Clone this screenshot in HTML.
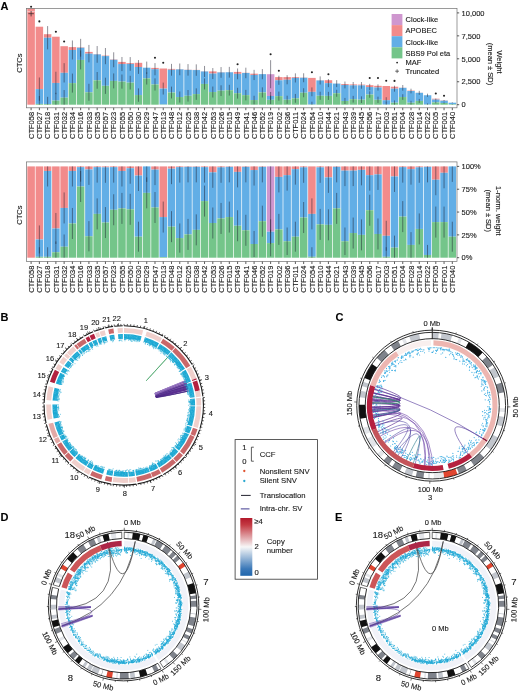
<!DOCTYPE html>
<html><head><meta charset="utf-8"><title>Figure</title>
<style>
html,body{margin:0;padding:0;background:#fff}
svg{display:block}
text{font-family:"Liberation Sans",Arial,sans-serif;font-size:7.5px;fill:#1a1a1a;stroke:#1a1a1a;stroke-width:.12px}
.xl{text-anchor:end}
#legend text{font-size:7.7px}
.pt{font-weight:bold;font-size:11px;fill:#000}
</style></head><body>
<svg width="520" height="694" viewBox="0 0 520 694">
<rect width="520" height="694" fill="#fff"/>
<text class="pt" x="0.6" y="9.5">A</text>
<text class="pt" x="0.6" y="321.2">B</text>
<text class="pt" x="335.5" y="321.2">C</text>
<text class="pt" x="0.6" y="521.2">D</text>
<text class="pt" x="335.0" y="521.2">E</text>
<g id="barsTop">
<rect x="27.33" y="8.4" width="7.55" height="96.3" fill="#f28b8b"/>
<rect x="35.58" y="26.7" width="7.55" height="62.4" fill="#f28b8b"/>
<rect x="35.58" y="89.1" width="7.55" height="14.82" fill="#62aee6"/>
<rect x="35.58" y="103.92" width="7.55" height="0.78" fill="#74c58a"/>
<rect x="43.84" y="34.2" width="7.55" height="3.52" fill="#f28b8b"/>
<rect x="43.84" y="37.73" width="7.55" height="66.27" fill="#62aee6"/>
<rect x="43.84" y="104" width="7.55" height="0.7" fill="#74c58a"/>
<rect x="52.1" y="36.7" width="7.55" height="46.24" fill="#f28b8b"/>
<rect x="52.1" y="82.94" width="7.55" height="17.68" fill="#62aee6"/>
<rect x="52.1" y="100.62" width="7.55" height="4.08" fill="#74c58a"/>
<rect x="60.36" y="46.2" width="7.55" height="26.62" fill="#f28b8b"/>
<rect x="60.36" y="72.82" width="7.55" height="24.86" fill="#62aee6"/>
<rect x="60.36" y="97.68" width="7.55" height="7.02" fill="#74c58a"/>
<rect x="68.62" y="47.1" width="7.55" height="2.88" fill="#f28b8b"/>
<rect x="68.62" y="49.98" width="7.55" height="33.12" fill="#62aee6"/>
<rect x="68.62" y="83.1" width="7.55" height="21.6" fill="#74c58a"/>
<rect x="76.88" y="47.3" width="7.55" height="0.46" fill="#f28b8b"/>
<rect x="76.88" y="47.76" width="7.55" height="12.17" fill="#62aee6"/>
<rect x="76.88" y="59.93" width="7.55" height="44.77" fill="#74c58a"/>
<rect x="85.14" y="51.9" width="7.55" height="1.74" fill="#f28b8b"/>
<rect x="85.14" y="53.64" width="7.55" height="38.65" fill="#62aee6"/>
<rect x="85.14" y="92.29" width="7.55" height="12.41" fill="#74c58a"/>
<rect x="93.4" y="54" width="7.55" height="0.41" fill="#f28b8b"/>
<rect x="93.4" y="54.41" width="7.55" height="25.96" fill="#62aee6"/>
<rect x="93.4" y="80.36" width="7.55" height="24.34" fill="#74c58a"/>
<rect x="101.66" y="55.6" width="7.55" height="0.49" fill="#f28b8b"/>
<rect x="101.66" y="56.09" width="7.55" height="29.71" fill="#62aee6"/>
<rect x="101.66" y="85.8" width="7.55" height="18.9" fill="#74c58a"/>
<rect x="109.91" y="59.4" width="7.55" height="0.36" fill="#f28b8b"/>
<rect x="109.91" y="59.76" width="7.55" height="21.16" fill="#62aee6"/>
<rect x="109.91" y="80.92" width="7.55" height="23.78" fill="#74c58a"/>
<rect x="118.17" y="61.9" width="7.55" height="2.14" fill="#f28b8b"/>
<rect x="118.17" y="64.04" width="7.55" height="17.55" fill="#62aee6"/>
<rect x="118.17" y="81.59" width="7.55" height="23.11" fill="#74c58a"/>
<rect x="126.43" y="63.1" width="7.55" height="0.83" fill="#f28b8b"/>
<rect x="126.43" y="63.93" width="7.55" height="18.72" fill="#62aee6"/>
<rect x="126.43" y="82.65" width="7.55" height="22.05" fill="#74c58a"/>
<rect x="134.69" y="62.8" width="7.55" height="4.19" fill="#f28b8b"/>
<rect x="134.69" y="66.99" width="7.55" height="28.07" fill="#62aee6"/>
<rect x="134.69" y="95.06" width="7.55" height="9.64" fill="#74c58a"/>
<rect x="142.95" y="67.7" width="7.55" height="10.73" fill="#62aee6"/>
<rect x="142.95" y="78.43" width="7.55" height="26.27" fill="#74c58a"/>
<rect x="151.21" y="67.9" width="7.55" height="1.29" fill="#f28b8b"/>
<rect x="151.21" y="69.19" width="7.55" height="15.27" fill="#62aee6"/>
<rect x="151.21" y="84.46" width="7.55" height="20.24" fill="#74c58a"/>
<rect x="159.47" y="68.5" width="7.55" height="20.09" fill="#f28b8b"/>
<rect x="159.47" y="88.59" width="7.55" height="15.86" fill="#62aee6"/>
<rect x="159.47" y="104.45" width="7.55" height="0.25" fill="#74c58a"/>
<rect x="167.73" y="68.9" width="7.55" height="0.9" fill="#f28b8b"/>
<rect x="167.73" y="69.8" width="7.55" height="22.73" fill="#62aee6"/>
<rect x="167.73" y="92.53" width="7.55" height="12.17" fill="#74c58a"/>
<rect x="175.99" y="69.1" width="7.55" height="0.28" fill="#f28b8b"/>
<rect x="175.99" y="69.38" width="7.55" height="27.66" fill="#62aee6"/>
<rect x="175.99" y="97.05" width="7.55" height="7.65" fill="#74c58a"/>
<rect x="184.25" y="69.7" width="7.55" height="0.17" fill="#f28b8b"/>
<rect x="184.25" y="69.88" width="7.55" height="25.9" fill="#62aee6"/>
<rect x="184.25" y="95.78" width="7.55" height="8.93" fill="#74c58a"/>
<rect x="192.5" y="69.9" width="7.55" height="0.17" fill="#f28b8b"/>
<rect x="192.5" y="70.07" width="7.55" height="24.01" fill="#62aee6"/>
<rect x="192.5" y="94.09" width="7.55" height="10.61" fill="#74c58a"/>
<rect x="200.76" y="71.2" width="7.55" height="0.27" fill="#f28b8b"/>
<rect x="200.76" y="71.47" width="7.55" height="12.46" fill="#62aee6"/>
<rect x="200.76" y="83.93" width="7.55" height="20.77" fill="#74c58a"/>
<rect x="209.02" y="71.4" width="7.55" height="2.16" fill="#f28b8b"/>
<rect x="209.02" y="73.56" width="7.55" height="18.48" fill="#62aee6"/>
<rect x="209.02" y="92.05" width="7.55" height="12.65" fill="#74c58a"/>
<rect x="217.28" y="72.1" width="7.55" height="0.33" fill="#f28b8b"/>
<rect x="217.28" y="72.43" width="7.55" height="18.26" fill="#62aee6"/>
<rect x="217.28" y="90.68" width="7.55" height="14.02" fill="#74c58a"/>
<rect x="225.54" y="72.1" width="7.55" height="0.16" fill="#f28b8b"/>
<rect x="225.54" y="72.26" width="7.55" height="17.93" fill="#62aee6"/>
<rect x="225.54" y="90.19" width="7.55" height="14.51" fill="#74c58a"/>
<rect x="233.8" y="71.9" width="7.55" height="1.97" fill="#f28b8b"/>
<rect x="233.8" y="73.87" width="7.55" height="19.35" fill="#62aee6"/>
<rect x="233.8" y="93.22" width="7.55" height="11.48" fill="#74c58a"/>
<rect x="242.06" y="72.8" width="7.55" height="0.16" fill="#f28b8b"/>
<rect x="242.06" y="72.96" width="7.55" height="22.17" fill="#62aee6"/>
<rect x="242.06" y="95.13" width="7.55" height="9.57" fill="#74c58a"/>
<rect x="250.32" y="73.7" width="7.55" height="1.24" fill="#f28b8b"/>
<rect x="250.32" y="74.94" width="7.55" height="25.11" fill="#62aee6"/>
<rect x="250.32" y="100.05" width="7.55" height="4.65" fill="#74c58a"/>
<rect x="258.58" y="74" width="7.55" height="0.15" fill="#f28b8b"/>
<rect x="258.58" y="74.15" width="7.55" height="18.27" fill="#62aee6"/>
<rect x="258.58" y="92.42" width="7.55" height="12.28" fill="#74c58a"/>
<rect x="266.84" y="74.2" width="7.55" height="21.81" fill="#cf97cf"/>
<rect x="266.84" y="96.01" width="7.55" height="3.81" fill="#62aee6"/>
<rect x="266.84" y="99.82" width="7.55" height="4.88" fill="#74c58a"/>
<rect x="275.1" y="77.1" width="7.55" height="3.17" fill="#f28b8b"/>
<rect x="275.1" y="80.27" width="7.55" height="15.87" fill="#62aee6"/>
<rect x="275.1" y="96.14" width="7.55" height="8.56" fill="#74c58a"/>
<rect x="283.35" y="77.1" width="7.55" height="2.65" fill="#f28b8b"/>
<rect x="283.35" y="79.75" width="7.55" height="19.98" fill="#62aee6"/>
<rect x="283.35" y="99.73" width="7.55" height="4.97" fill="#74c58a"/>
<rect x="291.61" y="77.1" width="7.55" height="0.83" fill="#f28b8b"/>
<rect x="291.61" y="77.93" width="7.55" height="20.42" fill="#62aee6"/>
<rect x="291.61" y="98.35" width="7.55" height="6.35" fill="#74c58a"/>
<rect x="299.87" y="77.5" width="7.55" height="0.27" fill="#f28b8b"/>
<rect x="299.87" y="77.77" width="7.55" height="14.96" fill="#62aee6"/>
<rect x="299.87" y="92.73" width="7.55" height="11.97" fill="#74c58a"/>
<rect x="308.13" y="77.9" width="7.55" height="13.94" fill="#f28b8b"/>
<rect x="308.13" y="91.84" width="7.55" height="12.6" fill="#62aee6"/>
<rect x="308.13" y="104.43" width="7.55" height="0.27" fill="#74c58a"/>
<rect x="316.39" y="80.2" width="7.55" height="0.24" fill="#f28b8b"/>
<rect x="316.39" y="80.45" width="7.55" height="15.31" fill="#62aee6"/>
<rect x="316.39" y="95.76" width="7.55" height="8.94" fill="#74c58a"/>
<rect x="324.65" y="80.2" width="7.55" height="2.94" fill="#f28b8b"/>
<rect x="324.65" y="83.14" width="7.55" height="12.74" fill="#62aee6"/>
<rect x="324.65" y="95.88" width="7.55" height="8.82" fill="#74c58a"/>
<rect x="332.91" y="83.5" width="7.55" height="0.11" fill="#f28b8b"/>
<rect x="332.91" y="83.61" width="7.55" height="9.65" fill="#62aee6"/>
<rect x="332.91" y="93.25" width="7.55" height="11.45" fill="#74c58a"/>
<rect x="341.17" y="84" width="7.55" height="0.95" fill="#f28b8b"/>
<rect x="341.17" y="84.95" width="7.55" height="16.02" fill="#62aee6"/>
<rect x="341.17" y="100.97" width="7.55" height="3.73" fill="#74c58a"/>
<rect x="349.43" y="84.4" width="7.55" height="0.93" fill="#f28b8b"/>
<rect x="349.43" y="85.33" width="7.55" height="13.89" fill="#62aee6"/>
<rect x="349.43" y="99.22" width="7.55" height="5.48" fill="#74c58a"/>
<rect x="357.69" y="84.6" width="7.55" height="0.76" fill="#f28b8b"/>
<rect x="357.69" y="85.36" width="7.55" height="14.31" fill="#62aee6"/>
<rect x="357.69" y="99.68" width="7.55" height="5.03" fill="#74c58a"/>
<rect x="365.94" y="85.2" width="7.55" height="1.87" fill="#f28b8b"/>
<rect x="365.94" y="87.07" width="7.55" height="7.49" fill="#62aee6"/>
<rect x="365.94" y="94.56" width="7.55" height="10.14" fill="#74c58a"/>
<rect x="374.2" y="85.8" width="7.55" height="1.66" fill="#f28b8b"/>
<rect x="374.2" y="87.46" width="7.55" height="12.32" fill="#62aee6"/>
<rect x="374.2" y="99.79" width="7.55" height="4.91" fill="#74c58a"/>
<rect x="382.46" y="86" width="7.55" height="14.21" fill="#f28b8b"/>
<rect x="382.46" y="100.21" width="7.55" height="4.3" fill="#62aee6"/>
<rect x="382.46" y="104.51" width="7.55" height="0.19" fill="#74c58a"/>
<rect x="390.72" y="86.7" width="7.55" height="1.98" fill="#f28b8b"/>
<rect x="390.72" y="88.68" width="7.55" height="14.04" fill="#62aee6"/>
<rect x="390.72" y="102.72" width="7.55" height="1.98" fill="#74c58a"/>
<rect x="398.98" y="87.7" width="7.55" height="0.14" fill="#f28b8b"/>
<rect x="398.98" y="87.84" width="7.55" height="9.21" fill="#62aee6"/>
<rect x="398.98" y="97.05" width="7.55" height="7.65" fill="#74c58a"/>
<rect x="407.24" y="90.6" width="7.55" height="0.42" fill="#f28b8b"/>
<rect x="407.24" y="91.02" width="7.55" height="11.7" fill="#62aee6"/>
<rect x="407.24" y="102.73" width="7.55" height="1.97" fill="#74c58a"/>
<rect x="415.5" y="92.7" width="7.55" height="0.12" fill="#f28b8b"/>
<rect x="415.5" y="92.82" width="7.55" height="8.1" fill="#62aee6"/>
<rect x="415.5" y="100.92" width="7.55" height="3.78" fill="#74c58a"/>
<rect x="423.76" y="95.25" width="7.55" height="9.17" fill="#62aee6"/>
<rect x="423.76" y="104.42" width="7.55" height="0.28" fill="#74c58a"/>
<rect x="432.02" y="98.7" width="7.55" height="0.88" fill="#f28b8b"/>
<rect x="432.02" y="99.58" width="7.55" height="2.78" fill="#62aee6"/>
<rect x="432.02" y="102.36" width="7.55" height="2.34" fill="#74c58a"/>
<rect x="440.28" y="100.4" width="7.55" height="0.3" fill="#f28b8b"/>
<rect x="440.28" y="100.7" width="7.55" height="2.32" fill="#62aee6"/>
<rect x="440.28" y="103.02" width="7.55" height="1.68" fill="#74c58a"/>
<rect x="448.53" y="102.7" width="7.55" height="1.54" fill="#62aee6"/>
<rect x="448.53" y="104.24" width="7.55" height="0.46" fill="#74c58a"/>
<path d="M39.36 77.47V100.73M39.36 95.99V104.7M47.62 26.09V49.36M47.62 96.83V104.7M55.88 71.72V94.16M55.88 92.81V104.7M64.14 63.16V82.47M64.14 90.04V104.7M72.4 40.48V59.48M72.4 73.6V92.6M80.65 38.86V56.65M80.65 50.46V69.4M88.91 44.93V62.35M88.91 83.79V100.79M97.17 46.04V62.77M97.17 72V88.73M105.43 47.99V64.19M105.43 77.7V93.9M113.69 52.29V67.24M113.69 73.44V88.39M121.95 56.98V71.1M121.95 74.53V88.65M130.21 57.07V70.8M130.21 75.79V89.52M138.47 60.08V73.9M138.47 88.37V101.76M146.73 61.59V73.81M146.73 72.33V84.54M154.99 63.12V75.26M154.99 78.39V90.53M163.24 82.62V94.56M171.5 63.89V75.7M171.5 86.62V98.43M179.76 63.51V75.26M179.76 91.5V102.59M188.02 64.1V75.65M188.02 90V101.55M196.28 64.33V75.82M196.28 88.34V99.83M204.54 65.94V77M204.54 78.4V89.46M212.8 68.07V79.06M212.8 86.55V97.54M221.06 67.05V77.8M221.06 85.3V96.06M229.32 66.88V77.64M229.32 84.81V95.57M237.58 68.46V79.28M237.58 87.81V98.63M245.83 67.7V78.22M245.83 89.87V100.39M254.09 69.83V80.05M254.09 95.75V104.35M262.35 69.09V79.22M262.35 87.35V97.49M270.61 60.17V88.23M270.61 91.98V100.03M270.61 95.51V104.13M278.87 75.72V84.83M278.87 91.59V100.7M287.13 75.2V84.3M287.13 95.69V103.78M295.39 73.37V82.48M295.39 93.94V102.76M303.65 73.28V82.26M303.65 88.24V97.22M311.91 87.41V96.26M311.91 101.71V104.7M320.17 76.4V84.49M320.17 91.72V99.8M328.42 79.1V87.18M328.42 91.84V99.92M336.68 80.11V87.1M336.68 89.75V96.75M344.94 81.54V88.37M344.94 97.94V104.01M353.2 81.98V88.68M353.2 95.87V102.57M361.46 82.05V88.68M361.46 96.36V102.99M369.72 83.85V90.29M369.72 91.34V97.78M377.98 84.34V90.58M377.98 96.67V102.9M386.24 97.23V103.2M386.24 102.61V104.7M394.5 85.71V91.65M394.5 100.42V104.7M402.76 85.03V90.64M402.76 94.24V99.86M411.01 88.7V93.35M411.01 100.81V104.64M419.27 90.84V94.8M419.27 98.94V102.9M427.53 93.68V96.81M427.53 103.4V104.7M435.79 98.59V100.57M435.79 101.37V103.35M444.05 99.99V101.41M444.05 102.31V103.73M452.31 102.37V103.03M452.31 103.92V104.56" stroke="#1c1c2c" stroke-opacity=".58" stroke-width=".85" fill="none"/>
<circle cx="31.1" cy="6.8" r="1.05" fill="#222"/>
<circle cx="39.36" cy="21.4" r="1.05" fill="#222"/>
<circle cx="55.88" cy="31.8" r="1.05" fill="#222"/>
<circle cx="64.14" cy="41.5" r="1.05" fill="#222"/>
<circle cx="154.99" cy="57.7" r="1.05" fill="#222"/>
<circle cx="163.24" cy="62.7" r="1.05" fill="#222"/>
<circle cx="237.58" cy="64.2" r="1.05" fill="#222"/>
<circle cx="270.61" cy="54.3" r="1.05" fill="#222"/>
<circle cx="278.87" cy="70.8" r="1.05" fill="#222"/>
<circle cx="311.91" cy="72.3" r="1.05" fill="#222"/>
<circle cx="328.42" cy="74.2" r="1.05" fill="#222"/>
<circle cx="369.72" cy="78" r="1.05" fill="#222"/>
<circle cx="377.98" cy="78" r="1.05" fill="#222"/>
<circle cx="386.24" cy="80.8" r="1.05" fill="#222"/>
<circle cx="394.5" cy="80.9" r="1.05" fill="#222"/>
<circle cx="435.79" cy="93.5" r="1.05" fill="#222"/>
<circle cx="444.05" cy="95.8" r="1.05" fill="#222"/>
<path d="M27.35 11.4h7.5" stroke="#fff" stroke-opacity=".55" stroke-width=".9" fill="none"/>
<path d="M28.3 13.7h5.6M31.1 11v5.4" stroke="#3a2a2a" stroke-width=".75" fill="none"/>
<rect x="26.5" y="8.4" width="430.5" height="99.4" fill="none" stroke="#707070" stroke-width=".7"/>
<text class="xl" transform="translate(33.8 111.9) rotate(-90)">CTF058</text>
<text class="xl" transform="translate(42.06 111.9) rotate(-90)">CTF027</text>
<text class="xl" transform="translate(50.32 111.9) rotate(-90)">CTF018</text>
<text class="xl" transform="translate(58.58 111.9) rotate(-90)">CTF031</text>
<text class="xl" transform="translate(66.84 111.9) rotate(-90)">CTF032</text>
<text class="xl" transform="translate(75.1 111.9) rotate(-90)">CTF034</text>
<text class="xl" transform="translate(83.35 111.9) rotate(-90)">CTF016</text>
<text class="xl" transform="translate(91.61 111.9) rotate(-90)">CTF033</text>
<text class="xl" transform="translate(99.87 111.9) rotate(-90)">CTF035</text>
<text class="xl" transform="translate(108.13 111.9) rotate(-90)">CTF057</text>
<text class="xl" transform="translate(116.39 111.9) rotate(-90)">CTF023</text>
<text class="xl" transform="translate(124.65 111.9) rotate(-90)">CTF055</text>
<text class="xl" transform="translate(132.91 111.9) rotate(-90)">CTF050</text>
<text class="xl" transform="translate(141.17 111.9) rotate(-90)">CTF030</text>
<text class="xl" transform="translate(149.43 111.9) rotate(-90)">CTF029</text>
<text class="xl" transform="translate(157.69 111.9) rotate(-90)">CTF047</text>
<text class="xl" transform="translate(165.94 111.9) rotate(-90)">CTF013</text>
<text class="xl" transform="translate(174.2 111.9) rotate(-90)">CTF048</text>
<text class="xl" transform="translate(182.46 111.9) rotate(-90)">CTF012</text>
<text class="xl" transform="translate(190.72 111.9) rotate(-90)">CTF025</text>
<text class="xl" transform="translate(198.98 111.9) rotate(-90)">CTF038</text>
<text class="xl" transform="translate(207.24 111.9) rotate(-90)">CTF042</text>
<text class="xl" transform="translate(215.5 111.9) rotate(-90)">CTF053</text>
<text class="xl" transform="translate(223.76 111.9) rotate(-90)">CTF026</text>
<text class="xl" transform="translate(232.02 111.9) rotate(-90)">CTF015</text>
<text class="xl" transform="translate(240.28 111.9) rotate(-90)">CTF049</text>
<text class="xl" transform="translate(248.53 111.9) rotate(-90)">CTF041</text>
<text class="xl" transform="translate(256.79 111.9) rotate(-90)">CTF046</text>
<text class="xl" transform="translate(265.05 111.9) rotate(-90)">CTF052</text>
<text class="xl" transform="translate(273.31 111.9) rotate(-90)">CTF019</text>
<text class="xl" transform="translate(281.57 111.9) rotate(-90)">CTF002</text>
<text class="xl" transform="translate(289.83 111.9) rotate(-90)">CTF036</text>
<text class="xl" transform="translate(298.09 111.9) rotate(-90)">CTF011</text>
<text class="xl" transform="translate(306.35 111.9) rotate(-90)">CTF024</text>
<text class="xl" transform="translate(314.61 111.9) rotate(-90)">CTF054</text>
<text class="xl" transform="translate(322.87 111.9) rotate(-90)">CTF010</text>
<text class="xl" transform="translate(331.12 111.9) rotate(-90)">CTF044</text>
<text class="xl" transform="translate(339.38 111.9) rotate(-90)">CTF021</text>
<text class="xl" transform="translate(347.64 111.9) rotate(-90)">CTF043</text>
<text class="xl" transform="translate(355.9 111.9) rotate(-90)">CTF039</text>
<text class="xl" transform="translate(364.16 111.9) rotate(-90)">CTF045</text>
<text class="xl" transform="translate(372.42 111.9) rotate(-90)">CTF056</text>
<text class="xl" transform="translate(380.68 111.9) rotate(-90)">CTF017</text>
<text class="xl" transform="translate(388.94 111.9) rotate(-90)">CTF003</text>
<text class="xl" transform="translate(397.2 111.9) rotate(-90)">CTF051</text>
<text class="xl" transform="translate(405.46 111.9) rotate(-90)">CTF004</text>
<text class="xl" transform="translate(413.71 111.9) rotate(-90)">CTF028</text>
<text class="xl" transform="translate(421.97 111.9) rotate(-90)">CTF014</text>
<text class="xl" transform="translate(430.23 111.9) rotate(-90)">CTF022</text>
<text class="xl" transform="translate(438.49 111.9) rotate(-90)">CTF005</text>
<text class="xl" transform="translate(446.75 111.9) rotate(-90)">CTF001</text>
<text class="xl" transform="translate(455.01 111.9) rotate(-90)">CTF040</text>
<path d="M31.1 107.8v2.4M39.36 107.8v2.4M47.62 107.8v2.4M55.88 107.8v2.4M64.14 107.8v2.4M72.4 107.8v2.4M80.65 107.8v2.4M88.91 107.8v2.4M97.17 107.8v2.4M105.43 107.8v2.4M113.69 107.8v2.4M121.95 107.8v2.4M130.21 107.8v2.4M138.47 107.8v2.4M146.73 107.8v2.4M154.99 107.8v2.4M163.24 107.8v2.4M171.5 107.8v2.4M179.76 107.8v2.4M188.02 107.8v2.4M196.28 107.8v2.4M204.54 107.8v2.4M212.8 107.8v2.4M221.06 107.8v2.4M229.32 107.8v2.4M237.58 107.8v2.4M245.83 107.8v2.4M254.09 107.8v2.4M262.35 107.8v2.4M270.61 107.8v2.4M278.87 107.8v2.4M287.13 107.8v2.4M295.39 107.8v2.4M303.65 107.8v2.4M311.91 107.8v2.4M320.17 107.8v2.4M328.42 107.8v2.4M336.68 107.8v2.4M344.94 107.8v2.4M353.2 107.8v2.4M361.46 107.8v2.4M369.72 107.8v2.4M377.98 107.8v2.4M386.24 107.8v2.4M394.5 107.8v2.4M402.76 107.8v2.4M411.01 107.8v2.4M419.27 107.8v2.4M427.53 107.8v2.4M435.79 107.8v2.4M444.05 107.8v2.4M452.31 107.8v2.4" stroke="#333" stroke-width=".8"/>
<path d="M457 104.7h2.2" stroke="#333" stroke-width=".8"/>
<text x="461.6" y="107.4">0</text>
<path d="M457 81.75h2.2" stroke="#333" stroke-width=".8"/>
<text x="461.6" y="84.45">2,500</text>
<path d="M457 58.8h2.2" stroke="#333" stroke-width=".8"/>
<text x="461.6" y="61.5">5,000</text>
<path d="M457 35.85h2.2" stroke="#333" stroke-width=".8"/>
<text x="461.6" y="38.55">7,500</text>
<path d="M457 12.9h2.2" stroke="#333" stroke-width=".8"/>
<text x="461.6" y="15.6">10,000</text>
</g>
<g id="barsBot">
<rect x="27.33" y="166.4" width="7.55" height="91.3" fill="#f28b8b"/>
<rect x="35.58" y="166.4" width="7.55" height="73.04" fill="#f28b8b"/>
<rect x="35.58" y="239.44" width="7.55" height="17.35" fill="#62aee6"/>
<rect x="35.58" y="256.79" width="7.55" height="0.91" fill="#74c58a"/>
<rect x="43.84" y="166.4" width="7.55" height="4.56" fill="#f28b8b"/>
<rect x="43.84" y="170.97" width="7.55" height="85.82" fill="#62aee6"/>
<rect x="43.84" y="256.79" width="7.55" height="0.91" fill="#74c58a"/>
<rect x="52.1" y="166.4" width="7.55" height="62.08" fill="#f28b8b"/>
<rect x="52.1" y="228.48" width="7.55" height="23.74" fill="#62aee6"/>
<rect x="52.1" y="252.22" width="7.55" height="5.48" fill="#74c58a"/>
<rect x="60.36" y="166.4" width="7.55" height="41.54" fill="#f28b8b"/>
<rect x="60.36" y="207.94" width="7.55" height="38.8" fill="#62aee6"/>
<rect x="60.36" y="246.74" width="7.55" height="10.96" fill="#74c58a"/>
<rect x="68.62" y="166.4" width="7.55" height="4.56" fill="#f28b8b"/>
<rect x="68.62" y="170.97" width="7.55" height="52.5" fill="#62aee6"/>
<rect x="68.62" y="223.46" width="7.55" height="34.24" fill="#74c58a"/>
<rect x="76.88" y="166.4" width="7.55" height="0.73" fill="#f28b8b"/>
<rect x="76.88" y="167.13" width="7.55" height="19.36" fill="#62aee6"/>
<rect x="76.88" y="186.49" width="7.55" height="71.21" fill="#74c58a"/>
<rect x="85.14" y="166.4" width="7.55" height="3.01" fill="#f28b8b"/>
<rect x="85.14" y="169.41" width="7.55" height="66.83" fill="#62aee6"/>
<rect x="85.14" y="236.24" width="7.55" height="21.46" fill="#74c58a"/>
<rect x="93.4" y="166.4" width="7.55" height="0.73" fill="#f28b8b"/>
<rect x="93.4" y="167.13" width="7.55" height="46.75" fill="#62aee6"/>
<rect x="93.4" y="213.88" width="7.55" height="43.82" fill="#74c58a"/>
<rect x="101.66" y="166.4" width="7.55" height="0.91" fill="#f28b8b"/>
<rect x="101.66" y="167.31" width="7.55" height="55.24" fill="#62aee6"/>
<rect x="101.66" y="222.55" width="7.55" height="35.15" fill="#74c58a"/>
<rect x="109.91" y="166.4" width="7.55" height="0.73" fill="#f28b8b"/>
<rect x="109.91" y="167.13" width="7.55" height="42.64" fill="#62aee6"/>
<rect x="109.91" y="209.77" width="7.55" height="47.93" fill="#74c58a"/>
<rect x="118.17" y="166.4" width="7.55" height="4.56" fill="#f28b8b"/>
<rect x="118.17" y="170.97" width="7.55" height="37.43" fill="#62aee6"/>
<rect x="118.17" y="208.4" width="7.55" height="49.3" fill="#74c58a"/>
<rect x="126.43" y="166.4" width="7.55" height="1.83" fill="#f28b8b"/>
<rect x="126.43" y="168.23" width="7.55" height="41.08" fill="#62aee6"/>
<rect x="126.43" y="209.31" width="7.55" height="48.39" fill="#74c58a"/>
<rect x="134.69" y="166.4" width="7.55" height="9.13" fill="#f28b8b"/>
<rect x="134.69" y="175.53" width="7.55" height="61.17" fill="#62aee6"/>
<rect x="134.69" y="236.7" width="7.55" height="21" fill="#74c58a"/>
<rect x="142.95" y="166.4" width="7.55" height="26.48" fill="#62aee6"/>
<rect x="142.95" y="192.88" width="7.55" height="64.82" fill="#74c58a"/>
<rect x="151.21" y="166.4" width="7.55" height="3.2" fill="#f28b8b"/>
<rect x="151.21" y="169.6" width="7.55" height="37.89" fill="#62aee6"/>
<rect x="151.21" y="207.49" width="7.55" height="50.21" fill="#74c58a"/>
<rect x="159.47" y="166.4" width="7.55" height="50.67" fill="#f28b8b"/>
<rect x="159.47" y="217.07" width="7.55" height="39.99" fill="#62aee6"/>
<rect x="159.47" y="257.06" width="7.55" height="0.64" fill="#74c58a"/>
<rect x="167.73" y="166.4" width="7.55" height="2.28" fill="#f28b8b"/>
<rect x="167.73" y="168.68" width="7.55" height="57.98" fill="#62aee6"/>
<rect x="167.73" y="226.66" width="7.55" height="31.04" fill="#74c58a"/>
<rect x="175.99" y="166.4" width="7.55" height="0.73" fill="#f28b8b"/>
<rect x="175.99" y="167.13" width="7.55" height="70.94" fill="#62aee6"/>
<rect x="175.99" y="238.07" width="7.55" height="19.63" fill="#74c58a"/>
<rect x="184.25" y="166.4" width="7.55" height="0.46" fill="#f28b8b"/>
<rect x="184.25" y="166.86" width="7.55" height="67.56" fill="#62aee6"/>
<rect x="184.25" y="234.42" width="7.55" height="23.28" fill="#74c58a"/>
<rect x="192.5" y="166.4" width="7.55" height="0.46" fill="#f28b8b"/>
<rect x="192.5" y="166.86" width="7.55" height="63" fill="#62aee6"/>
<rect x="192.5" y="229.85" width="7.55" height="27.85" fill="#74c58a"/>
<rect x="200.76" y="166.4" width="7.55" height="0.73" fill="#f28b8b"/>
<rect x="200.76" y="167.13" width="7.55" height="33.96" fill="#62aee6"/>
<rect x="200.76" y="201.09" width="7.55" height="56.61" fill="#74c58a"/>
<rect x="209.02" y="166.4" width="7.55" height="5.93" fill="#f28b8b"/>
<rect x="209.02" y="172.33" width="7.55" height="50.67" fill="#62aee6"/>
<rect x="209.02" y="223.01" width="7.55" height="34.69" fill="#74c58a"/>
<rect x="217.28" y="166.4" width="7.55" height="0.91" fill="#f28b8b"/>
<rect x="217.28" y="167.31" width="7.55" height="51.13" fill="#62aee6"/>
<rect x="217.28" y="218.44" width="7.55" height="39.26" fill="#74c58a"/>
<rect x="225.54" y="166.4" width="7.55" height="0.46" fill="#f28b8b"/>
<rect x="225.54" y="166.86" width="7.55" height="50.21" fill="#62aee6"/>
<rect x="225.54" y="217.07" width="7.55" height="40.63" fill="#74c58a"/>
<rect x="233.8" y="166.4" width="7.55" height="5.48" fill="#f28b8b"/>
<rect x="233.8" y="171.88" width="7.55" height="53.87" fill="#62aee6"/>
<rect x="233.8" y="225.75" width="7.55" height="31.95" fill="#74c58a"/>
<rect x="242.06" y="166.4" width="7.55" height="0.46" fill="#f28b8b"/>
<rect x="242.06" y="166.86" width="7.55" height="63.45" fill="#62aee6"/>
<rect x="242.06" y="230.31" width="7.55" height="27.39" fill="#74c58a"/>
<rect x="250.32" y="166.4" width="7.55" height="3.65" fill="#f28b8b"/>
<rect x="250.32" y="170.05" width="7.55" height="73.95" fill="#62aee6"/>
<rect x="250.32" y="244" width="7.55" height="13.69" fill="#74c58a"/>
<rect x="258.58" y="166.4" width="7.55" height="0.46" fill="#f28b8b"/>
<rect x="258.58" y="166.86" width="7.55" height="54.32" fill="#62aee6"/>
<rect x="258.58" y="221.18" width="7.55" height="36.52" fill="#74c58a"/>
<rect x="266.84" y="166.4" width="7.55" height="65.28" fill="#cf97cf"/>
<rect x="266.84" y="231.68" width="7.55" height="11.41" fill="#62aee6"/>
<rect x="266.84" y="243.09" width="7.55" height="14.61" fill="#74c58a"/>
<rect x="275.1" y="166.4" width="7.55" height="10.5" fill="#f28b8b"/>
<rect x="275.1" y="176.9" width="7.55" height="52.5" fill="#62aee6"/>
<rect x="275.1" y="229.4" width="7.55" height="28.3" fill="#74c58a"/>
<rect x="283.35" y="166.4" width="7.55" height="8.76" fill="#f28b8b"/>
<rect x="283.35" y="175.16" width="7.55" height="66.1" fill="#62aee6"/>
<rect x="283.35" y="241.27" width="7.55" height="16.43" fill="#74c58a"/>
<rect x="291.61" y="166.4" width="7.55" height="2.74" fill="#f28b8b"/>
<rect x="291.61" y="169.14" width="7.55" height="67.56" fill="#62aee6"/>
<rect x="291.61" y="236.7" width="7.55" height="21" fill="#74c58a"/>
<rect x="299.87" y="166.4" width="7.55" height="0.91" fill="#f28b8b"/>
<rect x="299.87" y="167.31" width="7.55" height="50.21" fill="#62aee6"/>
<rect x="299.87" y="217.53" width="7.55" height="40.17" fill="#74c58a"/>
<rect x="308.13" y="166.4" width="7.55" height="47.48" fill="#f28b8b"/>
<rect x="308.13" y="213.88" width="7.55" height="42.91" fill="#62aee6"/>
<rect x="308.13" y="256.79" width="7.55" height="0.91" fill="#74c58a"/>
<rect x="316.39" y="166.4" width="7.55" height="0.91" fill="#f28b8b"/>
<rect x="316.39" y="167.31" width="7.55" height="57.06" fill="#62aee6"/>
<rect x="316.39" y="224.38" width="7.55" height="33.32" fill="#74c58a"/>
<rect x="324.65" y="166.4" width="7.55" height="10.96" fill="#f28b8b"/>
<rect x="324.65" y="177.36" width="7.55" height="47.48" fill="#62aee6"/>
<rect x="324.65" y="224.83" width="7.55" height="32.87" fill="#74c58a"/>
<rect x="332.91" y="166.4" width="7.55" height="0.46" fill="#f28b8b"/>
<rect x="332.91" y="166.86" width="7.55" height="41.54" fill="#62aee6"/>
<rect x="332.91" y="208.4" width="7.55" height="49.3" fill="#74c58a"/>
<rect x="341.17" y="166.4" width="7.55" height="4.2" fill="#f28b8b"/>
<rect x="341.17" y="170.6" width="7.55" height="70.67" fill="#62aee6"/>
<rect x="341.17" y="241.27" width="7.55" height="16.43" fill="#74c58a"/>
<rect x="349.43" y="166.4" width="7.55" height="4.2" fill="#f28b8b"/>
<rect x="349.43" y="170.6" width="7.55" height="62.45" fill="#62aee6"/>
<rect x="349.43" y="233.05" width="7.55" height="24.65" fill="#74c58a"/>
<rect x="357.69" y="166.4" width="7.55" height="3.47" fill="#f28b8b"/>
<rect x="357.69" y="169.87" width="7.55" height="65.01" fill="#62aee6"/>
<rect x="357.69" y="234.88" width="7.55" height="22.82" fill="#74c58a"/>
<rect x="365.94" y="166.4" width="7.55" height="8.76" fill="#f28b8b"/>
<rect x="365.94" y="175.16" width="7.55" height="35.06" fill="#62aee6"/>
<rect x="365.94" y="210.22" width="7.55" height="47.48" fill="#74c58a"/>
<rect x="374.2" y="166.4" width="7.55" height="8.03" fill="#f28b8b"/>
<rect x="374.2" y="174.43" width="7.55" height="59.53" fill="#62aee6"/>
<rect x="374.2" y="233.96" width="7.55" height="23.74" fill="#74c58a"/>
<rect x="382.46" y="166.4" width="7.55" height="69.39" fill="#f28b8b"/>
<rect x="382.46" y="235.79" width="7.55" height="21" fill="#62aee6"/>
<rect x="382.46" y="256.79" width="7.55" height="0.91" fill="#74c58a"/>
<rect x="390.72" y="166.4" width="7.55" height="10.04" fill="#f28b8b"/>
<rect x="390.72" y="176.44" width="7.55" height="71.21" fill="#62aee6"/>
<rect x="390.72" y="247.66" width="7.55" height="10.04" fill="#74c58a"/>
<rect x="398.98" y="166.4" width="7.55" height="0.73" fill="#f28b8b"/>
<rect x="398.98" y="167.13" width="7.55" height="49.48" fill="#62aee6"/>
<rect x="398.98" y="216.62" width="7.55" height="41.08" fill="#74c58a"/>
<rect x="407.24" y="166.4" width="7.55" height="2.74" fill="#f28b8b"/>
<rect x="407.24" y="169.14" width="7.55" height="75.78" fill="#62aee6"/>
<rect x="407.24" y="244.92" width="7.55" height="12.78" fill="#74c58a"/>
<rect x="415.5" y="166.4" width="7.55" height="0.91" fill="#f28b8b"/>
<rect x="415.5" y="167.31" width="7.55" height="61.63" fill="#62aee6"/>
<rect x="415.5" y="228.94" width="7.55" height="28.76" fill="#74c58a"/>
<rect x="423.76" y="166.4" width="7.55" height="0.46" fill="#f28b8b"/>
<rect x="423.76" y="166.86" width="7.55" height="88.1" fill="#62aee6"/>
<rect x="423.76" y="254.96" width="7.55" height="2.74" fill="#74c58a"/>
<rect x="432.02" y="166.4" width="7.55" height="13.33" fill="#f28b8b"/>
<rect x="432.02" y="179.73" width="7.55" height="42.36" fill="#62aee6"/>
<rect x="432.02" y="222.09" width="7.55" height="35.61" fill="#74c58a"/>
<rect x="440.28" y="166.4" width="7.55" height="6.39" fill="#f28b8b"/>
<rect x="440.28" y="172.79" width="7.55" height="49.3" fill="#62aee6"/>
<rect x="440.28" y="222.09" width="7.55" height="35.61" fill="#74c58a"/>
<rect x="448.53" y="166.4" width="7.55" height="70.3" fill="#62aee6"/>
<rect x="448.53" y="236.7" width="7.55" height="21" fill="#74c58a"/>
<path d="M39.36 225.43V253.45M39.36 247.24V257.7M47.62 166.4V186.47M47.62 247.24V257.7M55.88 212.98V243.98M55.88 241.43V257.7M64.14 192.44V223.44M64.14 234.47V257.7M72.4 166.4V186.47M72.4 207.96V238.96M80.65 166.4V181.69M80.65 170.99V201.99M88.91 166.4V184.91M88.91 221.12V251.37M97.17 166.4V182.63M97.17 198.38V229.38M105.43 166.4V182.81M105.43 207.05V238.05M113.69 166.4V182.63M113.69 194.27V225.27M121.95 166.4V186.47M121.95 192.9V223.9M130.21 166.4V183.73M130.21 193.81V224.81M138.47 166.4V191.03M138.47 221.7V251.7M146.73 166.4V181.9M146.73 177.38V208.38M154.99 166.4V185.1M154.99 191.99V222.99M163.24 201.57V232.57M171.5 166.4V184.18M171.5 211.16V242.16M179.76 166.4V182.63M179.76 223.44V252.7M188.02 166.4V182.36M188.02 218.92V249.92M196.28 166.4V182.36M196.28 214.35V245.35M204.54 166.4V182.63M204.54 185.59V216.59M212.8 166.4V187.83M212.8 207.51V238.51M221.06 166.4V182.81M221.06 202.94V233.94M229.32 166.4V182.36M229.32 201.57V232.57M237.58 166.4V187.38M237.58 210.25V241.25M245.83 166.4V182.36M245.83 214.81V245.81M254.09 166.4V185.55M254.09 230.98V257.02M262.35 166.4V182.36M262.35 205.68V236.68M270.61 166.4V232.4M270.61 219.28V244.08M270.61 229.82V256.36M278.87 166.4V192.4M278.87 213.9V244.9M287.13 166.4V190.66M287.13 227.5V255.03M295.39 166.4V184.64M295.39 221.7V251.7M303.65 166.4V182.81M303.65 202.03V233.03M311.91 198.38V229.38M311.91 247.24V257.7M320.17 166.4V182.81M320.17 208.88V239.88M328.42 166.4V192.86M328.42 209.33V240.33M336.68 166.4V182.36M336.68 192.9V223.9M344.94 166.4V186.1M344.94 227.5V255.03M353.2 166.4V186.1M353.2 217.55V248.55M361.46 166.4V185.37M361.46 219.38V250.38M369.72 166.4V190.66M369.72 194.72V225.72M377.98 166.4V189.93M377.98 218.46V249.46M386.24 220.78V250.79M386.24 247.24V257.7M394.5 166.4V191.94M394.5 235.63V257.7M402.76 166.4V182.63M402.76 201.12V232.12M411.01 166.4V184.64M411.01 232.15V257.69M419.27 166.4V182.81M419.27 213.44V244.44M427.53 166.4V182.36M427.53 244.92V257.7M435.79 166.4V195.23M435.79 206.59V237.59M444.05 166.4V188.29M444.05 206.59V237.59M452.31 166.4V181.9M452.31 221.7V251.7" stroke="#1c1c2c" stroke-opacity=".58" stroke-width=".85" fill="none"/>
<rect x="26.5" y="161.9" width="430.5" height="99.7" fill="none" stroke="#707070" stroke-width=".7"/>
<text class="xl" transform="translate(33.8 265.7) rotate(-90)">CTF058</text>
<text class="xl" transform="translate(42.06 265.7) rotate(-90)">CTF027</text>
<text class="xl" transform="translate(50.32 265.7) rotate(-90)">CTF018</text>
<text class="xl" transform="translate(58.58 265.7) rotate(-90)">CTF031</text>
<text class="xl" transform="translate(66.84 265.7) rotate(-90)">CTF032</text>
<text class="xl" transform="translate(75.1 265.7) rotate(-90)">CTF034</text>
<text class="xl" transform="translate(83.35 265.7) rotate(-90)">CTF016</text>
<text class="xl" transform="translate(91.61 265.7) rotate(-90)">CTF033</text>
<text class="xl" transform="translate(99.87 265.7) rotate(-90)">CTF035</text>
<text class="xl" transform="translate(108.13 265.7) rotate(-90)">CTF057</text>
<text class="xl" transform="translate(116.39 265.7) rotate(-90)">CTF023</text>
<text class="xl" transform="translate(124.65 265.7) rotate(-90)">CTF055</text>
<text class="xl" transform="translate(132.91 265.7) rotate(-90)">CTF050</text>
<text class="xl" transform="translate(141.17 265.7) rotate(-90)">CTF030</text>
<text class="xl" transform="translate(149.43 265.7) rotate(-90)">CTF029</text>
<text class="xl" transform="translate(157.69 265.7) rotate(-90)">CTF047</text>
<text class="xl" transform="translate(165.94 265.7) rotate(-90)">CTF013</text>
<text class="xl" transform="translate(174.2 265.7) rotate(-90)">CTF048</text>
<text class="xl" transform="translate(182.46 265.7) rotate(-90)">CTF012</text>
<text class="xl" transform="translate(190.72 265.7) rotate(-90)">CTF025</text>
<text class="xl" transform="translate(198.98 265.7) rotate(-90)">CTF038</text>
<text class="xl" transform="translate(207.24 265.7) rotate(-90)">CTF042</text>
<text class="xl" transform="translate(215.5 265.7) rotate(-90)">CTF053</text>
<text class="xl" transform="translate(223.76 265.7) rotate(-90)">CTF026</text>
<text class="xl" transform="translate(232.02 265.7) rotate(-90)">CTF015</text>
<text class="xl" transform="translate(240.28 265.7) rotate(-90)">CTF049</text>
<text class="xl" transform="translate(248.53 265.7) rotate(-90)">CTF041</text>
<text class="xl" transform="translate(256.79 265.7) rotate(-90)">CTF046</text>
<text class="xl" transform="translate(265.05 265.7) rotate(-90)">CTF052</text>
<text class="xl" transform="translate(273.31 265.7) rotate(-90)">CTF019</text>
<text class="xl" transform="translate(281.57 265.7) rotate(-90)">CTF002</text>
<text class="xl" transform="translate(289.83 265.7) rotate(-90)">CTF036</text>
<text class="xl" transform="translate(298.09 265.7) rotate(-90)">CTF011</text>
<text class="xl" transform="translate(306.35 265.7) rotate(-90)">CTF024</text>
<text class="xl" transform="translate(314.61 265.7) rotate(-90)">CTF054</text>
<text class="xl" transform="translate(322.87 265.7) rotate(-90)">CTF010</text>
<text class="xl" transform="translate(331.12 265.7) rotate(-90)">CTF044</text>
<text class="xl" transform="translate(339.38 265.7) rotate(-90)">CTF021</text>
<text class="xl" transform="translate(347.64 265.7) rotate(-90)">CTF043</text>
<text class="xl" transform="translate(355.9 265.7) rotate(-90)">CTF039</text>
<text class="xl" transform="translate(364.16 265.7) rotate(-90)">CTF045</text>
<text class="xl" transform="translate(372.42 265.7) rotate(-90)">CTF056</text>
<text class="xl" transform="translate(380.68 265.7) rotate(-90)">CTF017</text>
<text class="xl" transform="translate(388.94 265.7) rotate(-90)">CTF003</text>
<text class="xl" transform="translate(397.2 265.7) rotate(-90)">CTF051</text>
<text class="xl" transform="translate(405.46 265.7) rotate(-90)">CTF004</text>
<text class="xl" transform="translate(413.71 265.7) rotate(-90)">CTF028</text>
<text class="xl" transform="translate(421.97 265.7) rotate(-90)">CTF014</text>
<text class="xl" transform="translate(430.23 265.7) rotate(-90)">CTF022</text>
<text class="xl" transform="translate(438.49 265.7) rotate(-90)">CTF005</text>
<text class="xl" transform="translate(446.75 265.7) rotate(-90)">CTF001</text>
<text class="xl" transform="translate(455.01 265.7) rotate(-90)">CTF040</text>
<path d="M31.1 261.6v2.4M39.36 261.6v2.4M47.62 261.6v2.4M55.88 261.6v2.4M64.14 261.6v2.4M72.4 261.6v2.4M80.65 261.6v2.4M88.91 261.6v2.4M97.17 261.6v2.4M105.43 261.6v2.4M113.69 261.6v2.4M121.95 261.6v2.4M130.21 261.6v2.4M138.47 261.6v2.4M146.73 261.6v2.4M154.99 261.6v2.4M163.24 261.6v2.4M171.5 261.6v2.4M179.76 261.6v2.4M188.02 261.6v2.4M196.28 261.6v2.4M204.54 261.6v2.4M212.8 261.6v2.4M221.06 261.6v2.4M229.32 261.6v2.4M237.58 261.6v2.4M245.83 261.6v2.4M254.09 261.6v2.4M262.35 261.6v2.4M270.61 261.6v2.4M278.87 261.6v2.4M287.13 261.6v2.4M295.39 261.6v2.4M303.65 261.6v2.4M311.91 261.6v2.4M320.17 261.6v2.4M328.42 261.6v2.4M336.68 261.6v2.4M344.94 261.6v2.4M353.2 261.6v2.4M361.46 261.6v2.4M369.72 261.6v2.4M377.98 261.6v2.4M386.24 261.6v2.4M394.5 261.6v2.4M402.76 261.6v2.4M411.01 261.6v2.4M419.27 261.6v2.4M427.53 261.6v2.4M435.79 261.6v2.4M444.05 261.6v2.4M452.31 261.6v2.4" stroke="#333" stroke-width=".8"/>
<path d="M457 257.7h2.2" stroke="#333" stroke-width=".8"/>
<text x="461.6" y="260.4">0%</text>
<path d="M457 234.88h2.2" stroke="#333" stroke-width=".8"/>
<text x="461.6" y="237.57">25%</text>
<path d="M457 212.05h2.2" stroke="#333" stroke-width=".8"/>
<text x="461.6" y="214.75">50%</text>
<path d="M457 189.22h2.2" stroke="#333" stroke-width=".8"/>
<text x="461.6" y="191.92">75%</text>
<path d="M457 166.4h2.2" stroke="#333" stroke-width=".8"/>
<text x="461.6" y="169.1">100%</text>
</g>
<g id="legA">
<rect x="391.6" y="14" width="10.8" height="11.1" fill="#cf97cf"/>
<text x="405.6" y="22.3">Clock-like</text>
<rect x="391.6" y="25.1" width="10.8" height="11.1" fill="#f28b8b"/>
<text x="405.6" y="33.4">APOBEC</text>
<rect x="391.6" y="36.2" width="10.8" height="11.1" fill="#62aee6"/>
<text x="405.6" y="44.5">Clock-like</text>
<rect x="391.6" y="47.3" width="10.8" height="11.1" fill="#74c58a"/>
<text x="405.6" y="55.6">SBS9 Pol eta</text>
<circle cx="397.1" cy="62.6" r=".9" fill="#222"/><text x="405.6" y="65.4">MAF</text>
<path d="M395.2 71.2h3.8M397.1 69.3v3.8" stroke="#333" stroke-width=".7"/><text x="405.6" y="73.9">Truncated</text>
</g>
<text transform="translate(21.9 63.1) rotate(-90)" text-anchor="middle">CTCs</text>
<text transform="translate(21.9 215.2) rotate(-90)" text-anchor="middle">CTCs</text>
<text transform="translate(497.4 62) rotate(90)" text-anchor="middle">Weight</text>
<text transform="translate(487.6 64) rotate(90)" text-anchor="middle">(mean ± SD)</text>
<text transform="translate(495.5 210.8) rotate(90)" text-anchor="middle">1-norm. weight</text>
<text transform="translate(485.8 210.8) rotate(90)" text-anchor="middle">(mean ± SD)</text>
<g id="panelB">
<path d="M124.03 325.7A79.7 79.7 0 0 1 163.09 336.09" fill="none" stroke="#1a1a1a" stroke-width="1.1"/>
<path d="M124.02 327.9A77.5 77.5 0 0 1 143.12 330.36L141.92 335.01A72.7 72.7 0 0 0 124 332.7Z" fill="#f0d0cc"/>
<path d="M146.81 331.41A77.5 77.5 0 0 1 162 338L159.63 342.17A72.7 72.7 0 0 0 145.38 335.99Z" fill="#f0d0cc"/>
<text x="145.96" y="323.36" text-anchor="middle">1</text>
<path d="M164.21 336.73A79.7 79.7 0 0 1 192.19 364.56" fill="none" stroke="#1a1a1a" stroke-width="1.1"/>
<path d="M163.09 338.63A77.5 77.5 0 0 1 174.84 347.13L171.68 350.73A72.7 72.7 0 0 0 160.66 342.76Z" fill="#c9686a"/>
<path d="M175.44 347.65A77.5 77.5 0 0 1 190.3 365.69L186.18 368.15A72.7 72.7 0 0 0 172.24 351.23Z" fill="#c9686a"/>
<text x="185.3" y="345.77" text-anchor="middle">2</text>
<path d="M192.85 365.68A79.7 79.7 0 0 1 202.93 396.33" fill="none" stroke="#1a1a1a" stroke-width="1.1"/>
<path d="M190.94 366.77A77.5 77.5 0 0 1 196.36 378.31L191.87 379.99A72.7 72.7 0 0 0 186.78 369.17Z" fill="#f0d0cc"/>
<path d="M196.36 378.31A77.5 77.5 0 0 1 196.8 379.51L192.27 381.12A72.7 72.7 0 0 0 191.87 379.99Z" fill="#b3213f"/>
<path d="M197.11 380.42A77.5 77.5 0 0 1 199.82 390.59L195.11 391.51A72.7 72.7 0 0 0 192.57 381.97Z" fill="#b3213f"/>
<path d="M199.82 390.59A77.5 77.5 0 0 1 200.75 396.58L195.98 397.13A72.7 72.7 0 0 0 195.11 391.51Z" fill="#f0d0cc"/>
<text x="206.86" y="380.43" text-anchor="middle">3</text>
<path d="M203.07 397.62A79.7 79.7 0 0 1 200 428.61" fill="none" stroke="#1a1a1a" stroke-width="1.1"/>
<path d="M200.88 397.83A77.5 77.5 0 0 1 201.25 405.48L196.45 405.47A72.7 72.7 0 0 0 196.1 398.3Z" fill="#f0d0cc"/>
<path d="M201.25 406.28A77.5 77.5 0 0 1 197.89 427.97L193.3 426.57A72.7 72.7 0 0 0 196.45 406.22Z" fill="#f0d0cc"/>
<text x="210.95" y="416.44" text-anchor="middle">4</text>
<path d="M199.61 429.84A79.7 79.7 0 0 1 185.5 455.79" fill="none" stroke="#1a1a1a" stroke-width="1.1"/>
<path d="M197.52 429.17A77.5 77.5 0 0 1 194.94 436.04L190.53 434.14A72.7 72.7 0 0 0 192.95 427.69Z" fill="#c9686a"/>
<path d="M194.62 436.77A77.5 77.5 0 0 1 183.8 454.4L180.08 451.36A72.7 72.7 0 0 0 190.23 434.83Z" fill="#c9686a"/>
<text x="200.85" y="449.68" text-anchor="middle">5</text>
<path d="M184.68 456.78A79.7 79.7 0 0 1 163.22 474.64" fill="none" stroke="#1a1a1a" stroke-width="1.1"/>
<path d="M182.99 455.36A77.5 77.5 0 0 1 176.62 462.07L173.35 458.56A72.7 72.7 0 0 0 179.33 452.27Z" fill="#c9686a"/>
<path d="M176.03 462.61A77.5 77.5 0 0 1 162.13 472.73L159.75 468.56A72.7 72.7 0 0 0 172.8 459.06Z" fill="#c9686a"/>
<text x="180.02" y="475.23" text-anchor="middle">6</text>
<path d="M162.09 475.27A79.7 79.7 0 0 1 137.58 483.89" fill="none" stroke="#1a1a1a" stroke-width="1.1"/>
<path d="M161.03 473.34A77.5 77.5 0 0 1 152.67 477.3L150.88 472.85A72.7 72.7 0 0 0 158.72 469.14Z" fill="#c9686a"/>
<path d="M152.08 477.54A77.5 77.5 0 0 1 137.2 481.72L136.37 477A72.7 72.7 0 0 0 150.32 473.07Z" fill="#c9686a"/>
<text x="153.1" y="490.64" text-anchor="middle">7</text>
<path d="M136.31 484.1A79.7 79.7 0 0 1 112.44 484.29" fill="none" stroke="#1a1a1a" stroke-width="1.1"/>
<path d="M135.96 481.93A77.5 77.5 0 0 1 129.15 482.71L128.81 477.92A72.7 72.7 0 0 0 135.2 477.19Z" fill="#f0d0cc"/>
<path d="M128.35 482.76A77.5 77.5 0 0 1 112.75 482.12L113.43 477.36A72.7 72.7 0 0 0 128.06 477.97Z" fill="#f0d0cc"/>
<text x="124.75" y="495.69" text-anchor="middle">8</text>
<path d="M111.16 484.1A79.7 79.7 0 0 1 89.16 477.2" fill="none" stroke="#1a1a1a" stroke-width="1.1"/>
<path d="M111.51 481.93A77.5 77.5 0 0 1 104.79 480.54L105.96 475.89A72.7 72.7 0 0 0 112.26 477.19Z" fill="#c9686a"/>
<path d="M101.25 479.56A77.5 77.5 0 0 1 90.11 475.22L92.19 470.89A72.7 72.7 0 0 0 102.64 474.97Z" fill="#c9686a"/>
<text x="97.84" y="491.78" text-anchor="middle">9</text>
<path d="M88 476.63A79.7 79.7 0 0 1 69.76 464.03" fill="none" stroke="#1a1a1a" stroke-width="1.1"/>
<path d="M88.98 474.66A77.5 77.5 0 0 1 83.67 471.73L86.16 467.63A72.7 72.7 0 0 0 91.14 470.37Z" fill="#f0d0cc"/>
<path d="M82.99 471.32A77.5 77.5 0 0 1 71.25 462.41L74.5 458.88A72.7 72.7 0 0 0 85.52 467.24Z" fill="#f0d0cc"/>
<text x="74.2" y="480.34" text-anchor="middle">10</text>
<path d="M68.82 463.14A79.7 79.7 0 0 1 55.08 445.85" fill="none" stroke="#1a1a1a" stroke-width="1.1"/>
<path d="M70.33 461.55A77.5 77.5 0 0 1 64.74 455.64L68.4 452.53A72.7 72.7 0 0 0 73.64 458.07Z" fill="#c9686a"/>
<path d="M64.23 455.03A77.5 77.5 0 0 1 56.98 444.74L61.11 442.3A72.7 72.7 0 0 0 67.91 451.96Z" fill="#c9686a"/>
<text x="55.35" y="462.83" text-anchor="middle">11</text>
<path d="M54.43 444.73A79.7 79.7 0 0 1 46.34 424.36" fill="none" stroke="#1a1a1a" stroke-width="1.1"/>
<path d="M56.35 443.65A77.5 77.5 0 0 1 53.9 438.98L58.23 436.9A72.7 72.7 0 0 0 60.52 441.28Z" fill="#e3a9a6"/>
<path d="M53.56 438.26A77.5 77.5 0 0 1 48.48 423.84L53.14 422.7A72.7 72.7 0 0 0 57.91 436.23Z" fill="#e3a9a6"/>
<text x="42.86" y="441.72" text-anchor="middle">12</text>
<path d="M46.04 423.1A79.7 79.7 0 0 1 44.06 404.38" fill="none" stroke="#1a1a1a" stroke-width="1.1"/>
<path d="M47.57 419.65A77.5 77.5 0 0 1 46.26 404.41L51.06 404.47A72.7 72.7 0 0 0 52.29 418.76Z" fill="#f0d0cc"/>
<text x="36.79" y="418.7" text-anchor="middle">13</text>
<path d="M44.08 403.09A79.7 79.7 0 0 1 46.52 385.73" fill="none" stroke="#1a1a1a" stroke-width="1.1"/>
<path d="M46.43 400.12A77.5 77.5 0 0 1 48.65 386.27L53.3 387.46A72.7 72.7 0 0 0 51.22 400.45Z" fill="#f0d0cc"/>
<text x="36.82" y="397.31" text-anchor="middle">14</text>
<path d="M46.84 384.48A79.7 79.7 0 0 1 52.93 368.83" fill="none" stroke="#1a1a1a" stroke-width="1.1"/>
<path d="M49.97 381.69A77.5 77.5 0 0 1 54.89 369.84L59.15 372.04A72.7 72.7 0 0 0 54.54 383.16Z" fill="#b3213f"/>
<text x="41.62" y="377.62" text-anchor="middle">15</text>
<path d="M53.54 367.69A79.7 79.7 0 0 1 61.69 355.4" fill="none" stroke="#1a1a1a" stroke-width="1.1"/>
<path d="M55.47 368.73A77.5 77.5 0 0 1 58.29 363.91L62.35 366.48A72.7 72.7 0 0 0 59.7 371Z" fill="#f0d0cc"/>
<path d="M59.34 362.3A77.5 77.5 0 0 1 63.4 356.78L67.14 359.79A72.7 72.7 0 0 0 63.33 364.97Z" fill="#f0d0cc"/>
<text x="49.99" y="360.84" text-anchor="middle">16</text>
<path d="M62.51 354.4A79.7 79.7 0 0 1 71.82 344.94" fill="none" stroke="#1a1a1a" stroke-width="1.1"/>
<path d="M64.2 355.8A77.5 77.5 0 0 1 66.51 353.16L70.05 356.39A72.7 72.7 0 0 0 67.89 358.88Z" fill="#f0d0cc"/>
<path d="M66.94 352.69A77.5 77.5 0 0 1 73.26 346.61L76.39 350.25A72.7 72.7 0 0 0 70.46 355.95Z" fill="#f0d0cc"/>
<text x="60.38" y="347.62" text-anchor="middle">17</text>
<path d="M72.81 344.1A79.7 79.7 0 0 1 83.27 336.74" fill="none" stroke="#1a1a1a" stroke-width="1.1"/>
<path d="M74.22 345.79A77.5 77.5 0 0 1 76.08 344.29L79.04 348.08A72.7 72.7 0 0 0 77.29 349.49Z" fill="#c9686a"/>
<path d="M76.59 343.9A77.5 77.5 0 0 1 84.39 338.64L86.83 342.77A72.7 72.7 0 0 0 79.51 347.71Z" fill="#c9686a"/>
<text x="72.23" y="337.25" text-anchor="middle">18</text>
<path d="M84.39 336.1A79.7 79.7 0 0 1 93.08 331.84" fill="none" stroke="#1a1a1a" stroke-width="1.1"/>
<path d="M85.48 338.01A77.5 77.5 0 0 1 88.85 336.2L91.01 340.49A72.7 72.7 0 0 0 87.85 342.18Z" fill="#b3213f"/>
<path d="M89.57 335.85A77.5 77.5 0 0 1 93.93 333.87L95.77 338.3A72.7 72.7 0 0 0 91.68 340.15Z" fill="#b3213f"/>
<text x="83.96" y="330.06" text-anchor="middle">19</text>
<path d="M94.28 331.35A79.7 79.7 0 0 1 104.1 328.16" fill="none" stroke="#1a1a1a" stroke-width="1.1"/>
<path d="M95.09 333.39A77.5 77.5 0 0 1 98.83 332.01L100.38 336.56A72.7 72.7 0 0 0 96.87 337.85Z" fill="#f0d0cc"/>
<path d="M99.59 331.76A77.5 77.5 0 0 1 104.65 330.29L105.83 334.94A72.7 72.7 0 0 0 101.09 336.32Z" fill="#f0d0cc"/>
<text x="95.39" y="325.22" text-anchor="middle">20</text>
<path d="M105.36 327.85A79.7 79.7 0 0 1 113.1 326.41" fill="none" stroke="#1a1a1a" stroke-width="1.1"/>
<path d="M108.21 329.47A77.5 77.5 0 0 1 113.4 328.59L114.04 333.35A72.7 72.7 0 0 0 109.17 334.18Z" fill="#c9686a"/>
<text x="106.42" y="322.23" text-anchor="middle">21</text>
<path d="M114.39 326.25A79.7 79.7 0 0 1 122.73 325.71" fill="none" stroke="#1a1a1a" stroke-width="1.1"/>
<path d="M117.5 328.15A77.5 77.5 0 0 1 122.76 327.91L122.82 332.71A72.7 72.7 0 0 0 117.89 332.94Z" fill="#f0d0cc"/>
<text x="116.67" y="320.79" text-anchor="middle">22</text>
<path d="M124.03 325.7L124.03 323.9M127.31 325.78L127.39 323.98M130.58 325.99L130.74 324.2M133.85 326.34L134.08 324.56M137.09 326.82L137.4 325.05M140.32 327.44L140.69 325.68M143.51 328.19L143.96 326.45M146.68 329.07L147.19 327.34M149.8 330.08L150.39 328.38M152.88 331.21L153.54 329.54M155.91 332.48L156.63 330.83M158.88 333.86L159.68 332.25M161.8 335.37L162.66 333.79M144.23 328.38L144.9 325.86M164.21 336.73L165.12 335.18M167 338.46L167.98 336.94M169.72 340.29L170.76 338.82M172.36 342.24L173.46 340.82M174.92 344.3L176.08 342.92M177.39 346.46L178.6 345.12M179.77 348.71L181.04 347.43M182.06 351.07L183.38 349.84M184.25 353.52L185.61 352.34M186.33 356.05L187.75 354.94M188.31 358.67L189.77 357.61M190.18 361.37L191.68 360.37M191.94 364.14L193.48 363.21M179.95 348.89L181.78 347.04M192.85 365.68L194.41 364.78M194.42 368.55L196.02 367.72M195.88 371.5L197.51 370.73M197.21 374.49L198.87 373.8M198.42 377.54L200.11 376.92M199.51 380.64L201.22 380.08M200.46 383.78L202.19 383.29M201.29 386.96L203.04 386.54M201.98 390.17L203.75 389.82M202.54 393.4L204.32 393.13M199.46 380.49L201.93 379.67M203.07 397.62L204.86 397.44M203.32 400.89L205.12 400.79M203.44 404.17L205.24 404.14M203.42 407.45L205.22 407.5M203.27 410.73L205.07 410.85M202.98 414L204.77 414.19M202.56 417.25L204.34 417.52M202.01 420.49L203.78 420.83M201.32 423.7L203.07 424.11M200.5 426.87L202.24 427.36M203.06 413.26L205.65 413.52M199.61 429.84L201.32 430.39M198.54 432.94L200.23 433.57M197.34 436L199 436.69M196.02 439L197.65 439.76M194.57 441.95L196.17 442.78M193.01 444.84L194.57 445.73M191.33 447.65L192.85 448.61M189.53 450.4L191.02 451.42M187.62 453.07L189.07 454.15M185.61 455.66L187 456.79M193.77 443.47L196.05 444.71M184.68 456.78L186.05 457.94M182.51 459.25L183.84 460.46M180.24 461.62L181.52 462.89M177.88 463.9L179.1 465.22M175.43 466.08L176.59 467.45M172.88 468.15L173.99 469.57M170.26 470.12L171.31 471.58M167.55 471.98L168.54 473.49M164.78 473.73L165.7 475.27M174.74 466.66L176.4 468.66M162.09 475.27L162.95 476.85M159.18 476.79L159.98 478.4M156.21 478.19L156.94 479.83M153.19 479.46L153.85 481.14M150.11 480.61L150.71 482.31M146.99 481.64L147.52 483.36M143.83 482.53L144.29 484.27M140.64 483.29L141.02 485.05M150.19 480.59L151.05 483.04M136.31 484.1L136.59 485.88M133.06 484.55L133.27 486.34M129.79 484.87L129.93 486.67M126.51 485.05L126.57 486.85M123.23 485.1L123.22 486.9M119.95 485.01L119.86 486.81M116.68 484.79L116.52 486.58M113.41 484.43L113.18 486.21M124.38 485.1L124.4 487.7M111.16 484.1L110.87 485.88M107.93 483.51L107.57 485.28M104.73 482.8L104.3 484.54M101.56 481.95L101.06 483.68M98.42 480.97L97.85 482.68M95.33 479.86L94.69 481.54M92.29 478.63L91.58 480.28M89.3 477.27L88.53 478.9M99.91 481.45L99.13 483.93M88 476.63L87.19 478.24M85.09 475.1L84.22 476.67M82.26 473.45L81.32 474.98M79.49 471.68L78.49 473.18M76.8 469.8L75.74 471.26M74.19 467.82L73.07 469.22M71.66 465.72L70.48 467.08M78.44 470.97L76.96 473.11M68.82 463.14L67.58 464.45M66.49 460.83L65.19 462.09M64.25 458.43L62.91 459.63M62.12 455.93L60.73 457.08M60.09 453.35L58.65 454.44M58.17 450.69L56.69 451.72M56.36 447.95L54.84 448.92M61.35 454.98L59.31 456.59M54.43 444.73L52.87 445.62M52.87 441.85L51.27 442.67M51.43 438.9L49.8 439.65M50.11 435.89L48.45 436.58M48.92 432.83L47.23 433.45M47.85 429.73L46.14 430.28M46.92 426.58L45.18 427.06M49.68 434.83L47.27 435.79M46.04 423.1L44.29 423.5M45.38 419.89L43.61 420.22M44.85 416.65L43.07 416.9M44.45 413.39L42.66 413.57M44.19 410.12L42.39 410.23M44.06 406.84L42.26 406.87M44.49 413.8L41.91 414.07M44.08 403.09L42.28 403.03M44.25 399.81L42.45 399.68M44.54 396.54L42.76 396.34M44.98 393.29L43.2 393.01M45.54 390.05L43.78 389.71M46.24 386.85L44.49 386.43M44.82 394.34L42.25 393.98M46.84 384.48L45.11 384.01M47.77 381.33L46.06 380.79M48.83 378.22L47.13 377.61M50.01 375.16L48.34 374.48M51.32 372.15L49.68 371.4M52.75 369.2L51.14 368.38M49.48 376.5L47.05 375.55M53.54 367.69L51.95 366.84M55.15 364.83L53.6 363.91M56.88 362.04L55.37 361.06M58.72 359.32L57.25 358.28M60.67 356.68L59.25 355.58M57.33 361.35L55.16 359.92M62.51 354.4L61.12 353.24M64.66 351.92L63.32 350.71M66.91 349.53L65.63 348.27M69.26 347.24L68.03 345.92M71.7 345.04L70.52 343.68M66.97 349.47L65.12 347.65M72.81 344.1L71.66 342.72M75.38 342.06L74.29 340.63M78.03 340.12L77 338.64M80.76 338.29L79.78 336.78M77.89 340.21L76.4 338.09M84.39 336.1L83.5 334.53M87.28 334.53L86.45 332.93M90.23 333.09L89.47 331.46M88.67 333.84L87.53 331.5M94.28 331.35L93.61 329.68M97.35 330.2L96.76 328.5M100.47 329.18L99.94 327.45M103.63 328.28L103.17 326.54M99.14 329.59L98.34 327.12M105.36 327.85L104.95 326.1M108.57 327.16L108.23 325.39M111.8 326.6L111.53 324.82M109.21 327.04L108.74 324.48M114.39 326.25L114.18 324.46M117.65 325.93L117.52 324.14M120.93 325.75L120.87 323.95M118.55 325.87L118.38 323.28" stroke="#1a1a1a" stroke-width=".7" fill="none"/>
<path d="M186.62 383.74Q123.75 405.4 187.01 384.88M187.71 387.21Q123.75 405.4 188.13 388.74M185.73 381.29Q123.75 405.4 186.23 382.62M188 388.26Q123.75 405.4 188.17 388.92M187.46 386.33Q123.75 405.4 187.86 387.73M187.82 387.57Q123.75 405.4 188.22 389.08M186.73 384.04Q123.75 405.4 187.17 385.41M188.12 388.69Q123.75 405.4 188.27 389.3M187.19 385.45Q123.75 405.4 187.45 386.3M185.65 381.11Q123.75 405.4 185.79 381.47M187.95 388.07Q123.75 405.4 188.32 389.51M186.3 382.81Q123.75 405.4 186.66 383.85M188.16 388.86Q123.75 405.4 188.25 389.23M186.54 383.49Q123.75 405.4 186.99 384.84M187.48 386.39Q123.75 405.4 187.91 387.91M187.57 386.73Q123.75 405.4 187.93 387.99M187.57 386.73Q123.75 405.4 187.96 388.09M186.44 383.22Q123.75 405.4 186.61 383.69" fill="none" stroke="#5b2d91" stroke-width="0.75" stroke-opacity="0.85"/>
<path d="M185.46 380.63Q123.75 405.4 186.96 384.74M185.46 380.63Q123.75 405.4 187.76 387.36M185.51 380.75Q123.75 405.4 186.06 382.16M185.56 380.88Q123.75 405.4 186.52 383.45" fill="none" stroke="#9a7cc4" stroke-width="0.7" stroke-opacity="0.8"/>
<path d="M186.74 384.09Q123.75 405.4 188.66 390.95M187.37 386.05Q123.75 405.4 188.63 390.81M187.76 387.36Q123.75 405.4 188.69 391.08" fill="none" stroke="#4b2a86" stroke-width="0.8" stroke-opacity="0.9"/>
<path d="M168.56 356.26Q123.75 405.4 168.66 356.36" fill="none" stroke="#3a9d5d" stroke-width="0.7" stroke-opacity="0.9"/>
<path d="M123.99 336.4A69 69 0 0 1 141 338.59" fill="none" stroke="#1ba8d3" stroke-width="4.7"/>
<path d="M144.28 339.52A69 69 0 0 1 157.81 345.39" fill="none" stroke="#1ba8d3" stroke-width="4.7"/>
<path d="M158.78 345.95A69 69 0 0 1 169.24 353.52" fill="none" stroke="#1ba8d3" stroke-width="4.7"/>
<path d="M169.77 353.99A69 69 0 0 1 183 370.04" fill="none" stroke="#1ba8d3" stroke-width="4.7"/>
<path d="M183.57 371.01A69 69 0 0 1 188.79 382.35" fill="none" stroke="#1ba8d3" stroke-width="4.7"/>
<path d="M189.07 383.16A69 69 0 0 1 192.3 397.55" fill="none" stroke="#1ba8d3" stroke-width="4.7"/>
<path d="M192.42 398.66A69 69 0 0 1 192.75 405.47" fill="none" stroke="#1ba8d3" stroke-width="4.7"/>
<path d="M192.75 406.18A69 69 0 0 1 189.76 425.49" fill="none" stroke="#1ba8d3" stroke-width="4.7"/>
<path d="M189.43 426.56A69 69 0 0 1 187.13 432.68" fill="none" stroke="#1ba8d3" stroke-width="4.7"/>
<path d="M186.85 433.33A69 69 0 0 1 177.21 449.02" fill="none" stroke="#1ba8d3" stroke-width="4.7"/>
<path d="M176.5 449.88A69 69 0 0 1 170.82 455.85" fill="none" stroke="#1ba8d3" stroke-width="4.7"/>
<path d="M170.3 456.33A69 69 0 0 1 157.92 465.35" fill="none" stroke="#1ba8d3" stroke-width="4.7"/>
<path d="M156.94 465.89A69 69 0 0 1 149.5 469.42" fill="none" stroke="#1ba8d3" stroke-width="4.7"/>
<path d="M148.97 469.63A69 69 0 0 1 135.73 473.35" fill="none" stroke="#1ba8d3" stroke-width="4.7"/>
<path d="M134.62 473.54A69 69 0 0 1 128.55 474.23" fill="none" stroke="#1ba8d3" stroke-width="4.7"/>
<path d="M127.84 474.28A69 69 0 0 1 113.96 473.7" fill="none" stroke="#1ba8d3" stroke-width="4.7"/>
<path d="M112.85 473.53A69 69 0 0 1 106.87 472.3" fill="none" stroke="#1ba8d3" stroke-width="4.7"/>
<path d="M103.72 471.43A69 69 0 0 1 93.8 467.56" fill="none" stroke="#1ba8d3" stroke-width="4.7"/>
<path d="M92.8 467.07A69 69 0 0 1 88.07 464.46" fill="none" stroke="#1ba8d3" stroke-width="4.7"/>
<path d="M87.46 464.09A69 69 0 0 1 77.01 456.16" fill="none" stroke="#1ba8d3" stroke-width="4.7"/>
<path d="M76.19 455.39A69 69 0 0 1 71.21 450.13" fill="none" stroke="#1ba8d3" stroke-width="4.7"/>
<path d="M70.76 449.59A69 69 0 0 1 64.3 440.42" fill="none" stroke="#1ba8d3" stroke-width="4.7"/>
<path d="M63.74 439.45A69 69 0 0 1 61.56 435.3" fill="none" stroke="#1ba8d3" stroke-width="4.7"/>
<path d="M61.26 434.66A69 69 0 0 1 56.73 421.82" fill="none" stroke="#1ba8d3" stroke-width="4.7"/>
<path d="M55.93 418.08A69 69 0 0 1 54.76 404.52" fill="none" stroke="#1ba8d3" stroke-width="4.7"/>
<path d="M54.91 400.7A69 69 0 0 1 56.88 388.37" fill="none" stroke="#1ba8d3" stroke-width="4.7"/>
<path d="M58.06 384.29A69 69 0 0 1 62.44 373.74" fill="none" stroke="#1ba8d3" stroke-width="4.7"/>
<path d="M62.96 372.75A69 69 0 0 1 65.47 368.46" fill="none" stroke="#1ba8d3" stroke-width="4.7"/>
<path d="M66.4 367.03A69 69 0 0 1 70.02 362.11" fill="none" stroke="#1ba8d3" stroke-width="4.7"/>
<path d="M70.73 361.24A69 69 0 0 1 72.78 358.89" fill="none" stroke="#1ba8d3" stroke-width="4.7"/>
<path d="M73.17 358.47A69 69 0 0 1 78.8 353.05" fill="none" stroke="#1ba8d3" stroke-width="4.7"/>
<path d="M79.65 352.33A69 69 0 0 1 81.31 350.99" fill="none" stroke="#1ba8d3" stroke-width="4.7"/>
<path d="M81.76 350.65A69 69 0 0 1 88.71 345.96" fill="none" stroke="#1ba8d3" stroke-width="4.7"/>
<path d="M89.68 345.4A69 69 0 0 1 92.68 343.79" fill="none" stroke="#1ba8d3" stroke-width="4.7"/>
<path d="M93.32 343.47A69 69 0 0 1 97.2 341.71" fill="none" stroke="#1ba8d3" stroke-width="4.7"/>
<path d="M98.23 341.29A69 69 0 0 1 101.57 340.06" fill="none" stroke="#1ba8d3" stroke-width="4.7"/>
<path d="M102.24 339.84A69 69 0 0 1 106.74 338.53" fill="none" stroke="#1ba8d3" stroke-width="4.7"/>
<path d="M109.91 337.8A69 69 0 0 1 114.53 337.02" fill="none" stroke="#1ba8d3" stroke-width="4.7"/>
<path d="M118.19 336.62A69 69 0 0 1 122.87 336.41" fill="none" stroke="#1ba8d3" stroke-width="4.7"/>
<path d="M140.35 338.01h0M131.93 338.44h0M132.6 335.04h0M132.14 337.67h0M126.51 335.46h0M136.63 337.7h0M135.84 337.4h0M127.62 334.7h0M130.27 335.95h0M139.8 337.23h0M129.15 336.04h0M125.59 335.04h0M133.09 335.39h0M129.99 337.8h0M133.27 337.05h0M134.96 336.86h0M137.66 336.76h0M127.29 337.53h0M130.99 335.56h0M127.42 336.53h0M136.85 335.66h0M137.46 337.89h0M127.34 336.07h0M130.01 335.45h0M136.24 338.15h0M140.16 340.11h0M125.74 336.55h0M129.78 336.73h0M140.86 338.1h0M124.03 334.76h0M129.95 336.1h0M137.91 339.42h0M130.74 335.91h0M127.5 334.94h0M131.5 336.29h0M125.53 334.64h0M136.3 337.7h0M136.38 339.26h0M126.81 334.49h0M124.47 336.04h0M132.05 336.27h0M134.52 336.86h0M144.98 341.61h0M153.6 343.52h0M145.84 338.18h0M153.52 341.82h0M145.9 338.55h0M145.67 338.44h0M150.32 342.42h0M152.61 340.85h0M147.5 342.2h0M151.14 343.21h0M145.38 341.31h0M144.62 340.88h0M148.35 341.77h0M154.3 344.47h0M150.69 343.28h0M148.4 343.02h0M147.1 342.54h0M154.41 343.36h0M146.9 340.51h0M156.21 346.3h0M155.33 344.36h0M151.66 340.84h0M149.75 341.46h0M154.56 341.51h0M149.54 339.97h0M154.21 342.88h0M149.67 342.11h0M144.59 341.18h0M145.57 338.93h0M147.38 342.01h0M145.89 338.61h0M156.45 343.87h0M147.85 341.85h0M148.31 341.09h0M146.42 340.46h0M148.6 339.06h0M167.82 354.23h0M167.49 351.99h0M168.65 351.94h0M162.19 346.19h0M162.93 350.93h0M158.8 346h0M163.21 349.76h0M160 347.42h0M162.99 347h0M159.31 345.1h0M166.69 353.34h0M169.07 352.25h0M167.73 353.33h0M162.59 348.89h0M169.46 353.24h0M162.55 348.69h0M160.8 349.34h0M160.6 345.49h0M162.87 346.46h0M161 348.44h0M163.57 350.58h0M163.88 347.04h0M168.9 351.59h0M166.55 349.18h0M168.79 352.87h0M165.34 352.62h0M166.46 351.46h0M167.15 351.01h0M160.92 349.42h0M167.55 354.03h0M163.53 349.79h0M173.86 357.24h0M175.33 360.33h0M177.44 360.16h0M169.9 355.75h0M171.03 354.56h0M174.64 359.78h0M180.95 370.17h0M180.74 365.17h0M181.49 369.12h0M180.13 364.96h0M182.3 365.62h0M171.67 353.95h0M172.01 354.89h0M177.38 360.25h0M182 365.41h0M179.71 367.6h0M175.43 362.71h0M181.59 369.23h0M178.33 365.51h0M174.36 356.4h0M177.34 360.15h0M178.28 363.05h0M174.51 360.69h0M176.2 359.65h0M176.89 361.11h0M172.01 356.5h0M170.2 356.72h0M177.68 364.26h0M177.41 358.98h0M181.59 370.22h0M171.69 355.99h0M180.92 368.69h0M178.36 361.45h0M181.19 365.19h0M173.51 358.88h0M173.07 358.56h0M173.5 357.94h0M171.84 357.4h0M175.16 356.97h0M171.39 357.92h0M172.82 358.34h0M177.81 361.56h0M171.21 355.52h0M169 355.97h0M180.81 368.55h0M175.92 361.01h0M180.75 368.44h0M170.82 354.4h0M180.07 367.69h0M170.96 355.01h0M172.76 356.25h0M186.49 378.57h0M184.67 373.95h0M185.74 375.06h0M182.9 373.9h0M188.6 382.24h0M186.58 375.76h0M189.25 379.74h0M187.59 380.28h0M183.49 372.02h0M186.8 374.51h0M187.03 376.35h0M182.53 372.18h0M187.76 381.7h0M185.98 379.73h0M189.15 378.86h0M188.25 377.86h0M182.22 372.15h0M187.72 377.56h0M182.95 372.91h0M187.5 381.31h0M189.06 379.71h0M188.19 378.35h0M186.08 372.82h0M186.09 378.22h0M185.89 374.37h0M188.22 381.3h0M186.74 372.95h0M186.66 376.18h0M186.06 378.3h0M184.67 375.65h0M193.18 396.61h0M191.93 387.39h0M189.46 388.07h0M192.65 396.12h0M192.29 392.94h0M192.14 397.25h0M192.77 395.08h0M191.78 395.5h0M192 393.47h0M189.28 387.81h0M189.79 392.37h0M190.73 396.43h0M187.7 384.03h0M191.56 396.58h0M187.91 385.71h0M189.99 383.5h0M192.25 392.05h0M190.04 393.99h0M190.82 391.68h0M193.21 394.68h0M190.38 396.19h0M193.69 395.37h0M190.64 396.93h0M188.49 386.49h0M190.55 383.2h0M192.46 394.71h0M192.48 394.91h0M188.77 387.64h0M190.5 384.22h0M189.29 386.25h0M188.95 389.62h0M189.35 387.01h0M191.18 393.48h0M192.23 387.22h0M192.45 390.01h0M189.59 392.34h0M191.92 401.07h0M193.88 399.6h0M193.68 403.13h0M192.28 399.83h0M193.05 403.92h0M192.35 399.53h0M191.7 404.7h0M191.74 400.02h0M194.1 403.41h0M191.14 399.82h0M191.87 400.39h0M191.32 402.27h0M191.36 400.97h0M193.66 405.3h0M194.33 399.19h0M192.02 399.39h0M189.85 418.94h0M192.36 408.49h0M190.56 422.2h0M191.7 417.04h0M191.05 423.92h0M191.18 410.9h0M192.54 418.04h0M191.92 409.28h0M191.24 419.72h0M192.3 411.98h0M194.13 414.77h0M190.08 419.08h0M192.89 413.3h0M190.92 406.55h0M193.03 420.93h0M189.18 421.49h0M193 415.79h0M191.51 408.95h0M190.69 414.11h0M193.34 408.06h0M193.45 412.98h0M193.4 417.27h0M191.83 411.68h0M190.73 410.96h0M191.87 411.79h0M191.3 415.72h0M191.28 425.62h0M191.16 412.8h0M190.45 415.56h0M193.45 410h0M194.56 408.77h0M194.69 407.97h0M192.43 414.01h0M192.49 414.15h0M190.66 413.78h0M194.02 407.12h0M193.07 415.61h0M192.73 407.36h0M191.31 416.7h0M193.35 409.1h0M192.75 419.9h0M190.87 407.74h0M191.98 418.62h0M193.28 409.63h0M190.16 422.94h0M194.42 408.22h0M194.23 406.47h0M191.9 408.86h0M186.02 430.24h0M189.97 426.84h0M186.04 430.94h0M189.64 428.79h0M190.45 428.05h0M186.73 428.95h0M188.93 428.93h0M189.15 429.51h0M190.26 427.84h0M189.2 429h0M187.74 430.32h0M189.68 429.34h0M188.32 432.79h0M187.42 429.76h0M191.1 427.53h0M189.09 431.37h0M179.42 447.03h0M182.46 440.42h0M179.14 446.39h0M180.09 442.7h0M183.5 436.21h0M180.57 444.92h0M187.05 436.4h0M184.38 437.59h0M184.81 435.53h0M178.5 446.29h0M185.5 436.12h0M185.66 439.37h0M187.69 436.07h0M187.85 434.95h0M179.91 443.46h0M182.04 440.7h0M183.71 437.05h0M185.54 440.3h0M178.55 450.07h0M185.33 434.6h0M177 446.44h0M179.58 444.52h0M175.95 447.5h0M178.88 445.83h0M183.96 434.8h0M179.2 446.64h0M185.15 436.31h0M177.33 447.06h0M180.64 441.83h0M186.39 436.82h0M179.42 444.08h0M184.74 433.96h0M181.47 443.18h0M183.59 437.32h0M182.14 443.71h0M179.61 446.47h0M183.69 435.91h0M179.89 444.88h0M178.85 443.9h0M178.82 445.87h0M180.18 447.59h0M180.97 440.38h0M178.17 447.67h0M177.93 446.6h0M186.56 437.03h0M175.3 453.28h0M173.48 455.19h0M174.78 454.69h0M174.46 451.6h0M172.9 452.83h0M176.25 451.27h0M175.66 453.07h0M171.42 452.54h0M174.97 449.75h0M173.85 451.09h0M172 453.18h0M173.89 452.2h0M170.71 455.7h0M177.71 451.42h0M169.72 454.36h0M171.96 455.44h0M171.65 455.75h0M173.89 454.57h0M175.09 449.07h0M174.38 449.37h0M158.97 465.55h0M163.11 460.11h0M165.66 459.71h0M163.77 461.97h0M160.47 466h0M164.38 460.87h0M163.92 463.92h0M166.35 459.83h0M159.65 462.78h0M167.77 461h0M160.24 464.02h0M170.07 458.65h0M162.68 463.92h0M158.82 466.62h0M164.51 459.36h0M166.95 459.26h0M163.57 460.22h0M168.53 458.58h0M162.74 461.62h0M158.27 465.77h0M169.58 456.51h0M160.3 463.01h0M160.86 461.2h0M167.6 460.44h0M163.67 462.5h0M168.02 458.31h0M163.15 460.9h0M162.59 462.58h0M158.11 465.58h0M164.54 459.16h0M169.17 458.71h0M168.03 456.22h0M168.39 458.13h0M160.49 464.34h0M159.53 462.34h0M170.89 457.26h0M167.06 460.22h0M152.81 467.84h0M150.65 467.81h0M153.75 466.27h0M154.2 467.89h0M152.33 467.31h0M152.94 466.61h0M150.85 469.62h0M150.7 471.08h0M152.46 467.88h0M149.63 469.51h0M154 467.46h0M156.5 467.27h0M151.27 466.89h0M150.99 469.82h0M150.53 466.94h0M151.06 467.21h0M157.24 466.69h0M152.26 469.44h0M154.69 465.68h0M149.66 467.48h0M142.07 473h0M147.01 471.07h0M141.09 472.03h0M139.18 474.01h0M147.21 469.39h0M143.93 470.15h0M147.88 469.11h0M146.69 471.33h0M142.69 470.14h0M144.72 471h0M143.86 470.02h0M147.36 468.15h0M136.01 474.32h0M148.19 470.85h0M136.04 473.56h0M147.55 470.12h0M142.96 470.38h0M141.35 470.08h0M136.93 473.72h0M141.17 473.96h0M140.17 471.39h0M145.32 469.42h0M149.01 470.79h0M137.73 472.14h0M146.75 471.04h0M138.16 474.62h0M147.18 471.51h0M138.22 473.86h0M144.35 469.93h0M137.94 472.19h0M144.24 471.5h0M144.56 472.58h0M145.28 469.02h0M130.18 473.42h0M130.66 474.31h0M132.01 473.37h0M130.5 472.61h0M129.38 474.29h0M130.92 475.43h0M133.41 474.69h0M130.3 472.67h0M131.14 474.22h0M128.86 473.65h0M133.14 473.52h0M132.9 472.69h0M128.66 473.03h0M129.97 473h0M129.59 474.75h0M119 475.15h0M125.83 473.91h0M127.05 476.29h0M122.87 474.69h0M119.8 472.84h0M117.99 475.83h0M115.5 472.27h0M125.07 474.09h0M119.98 472.69h0M116.71 475.22h0M124.55 475.58h0M125.83 472.66h0M114.55 473.14h0M122.78 475.81h0M124.45 475.89h0M117.95 473.49h0M117.99 474.85h0M115.43 475.03h0M120.77 475.91h0M116.39 476h0M125.71 473.19h0M115.41 474.58h0M122.22 473.97h0M116.94 475.79h0M119.76 472.86h0M117.92 473.16h0M119.85 474.93h0M114.66 472.08h0M125.23 476.08h0M119.75 473.5h0M122.93 474.27h0M114.26 474.51h0M117.67 475.83h0M116.27 473.27h0M112.24 471.48h0M111.56 473.43h0M107.94 471.98h0M110.79 472.54h0M108.45 474.18h0M111.59 475.28h0M109.62 471.83h0M108.87 474.06h0M110.35 471.18h0M108.83 473.39h0M109.38 473.73h0M109.6 472.37h0M109.85 472.06h0M111.28 473.5h0M112.04 474.65h0M96.27 468.54h0M99.83 469.75h0M97.03 469.73h0M99.94 469.46h0M94.67 468.35h0M101.51 471.26h0M103.99 469.98h0M97.63 469.59h0M96.37 469.73h0M102.76 472.78h0M103.53 469.74h0M93.41 469.46h0M99.16 467.74h0M101.4 470.85h0M97.3 469.33h0M93.81 467.7h0M94.6 469.95h0M102.36 472.98h0M94.44 469.94h0M102 469.08h0M97.44 467.08h0M100.38 472.3h0M102.3 469.08h0M95.11 470.16h0M101.24 469.89h0M103.35 471.12h0M89.62 464.88h0M90.06 466.14h0M89.93 464.72h0M89.72 465.62h0M91.51 466.92h0M90.76 467.86h0M90.11 466.66h0M90.35 465.67h0M92.4 465.25h0M88.35 464.76h0M90.24 465.84h0M89.46 464.07h0M91.37 467.79h0M83.3 459.09h0M80.28 458.56h0M79.94 461.27h0M77.84 458.89h0M86.22 462.51h0M83.06 458.66h0M77.73 455.59h0M85 461.59h0M83.84 463.44h0M81.44 459.96h0M83.95 459.55h0M83.28 463.09h0M78.03 458.97h0M85.31 461.26h0M86.8 463.85h0M83.46 461.24h0M81.96 460.73h0M82.76 462.4h0M84.32 464.05h0M82.56 458.5h0M83.94 461.92h0M82.85 461.3h0M84.44 461h0M79.56 457.3h0M79.11 459.59h0M81.2 459.49h0M77.79 456.57h0M79.37 455.9h0M82.41 461.34h0M86.14 464.97h0M86.46 463.91h0M84.53 464.21h0M75.77 453.76h0M74.39 454.09h0M73.27 450.66h0M73.01 453.72h0M71.13 452.49h0M73.83 451.87h0M74.41 451.32h0M77.03 454.5h0M75.96 454.06h0M75.72 454.1h0M74.22 452.46h0M75.43 452.45h0M71.08 451.87h0M72.67 451.52h0M73.57 450.48h0M75.65 454.27h0M77.28 453.88h0M68.96 448.16h0M64.22 442.51h0M69.42 449.33h0M69.42 445.7h0M63.9 441.11h0M67.03 442.06h0M63.82 443h0M64.01 441.85h0M64.25 442.67h0M66.98 444.16h0M64.36 442.7h0M65.73 441.24h0M64.41 440.86h0M65.93 440.15h0M63.49 441.32h0M67.92 448.2h0M70.08 446.82h0M68.47 444.91h0M66.06 446.15h0M65.47 443.88h0M67.13 446.79h0M64.89 442.79h0M63.52 441.66h0M69.29 445.02h0M65.25 444.47h0M68.09 446.82h0M64.26 442.61h0M63.68 437.84h0M60.77 436.33h0M61.12 437.6h0M62.02 435.24h0M62.49 440.11h0M64.39 438.53h0M61.92 437.41h0M61.48 436.72h0M60.75 435.77h0M61.48 436.64h0M62.54 439.39h0M56.27 427.05h0M57.36 426.85h0M57.93 424.67h0M55.99 422.85h0M59.83 430.22h0M57.99 424.21h0M58.86 432.92h0M58.46 427.97h0M56.41 426.64h0M61.1 432.74h0M61.2 433.7h0M57.34 428.79h0M57.66 426.27h0M58.85 429.69h0M58.49 431.75h0M56.18 424.98h0M59.78 433.05h0M57.61 425.05h0M55.53 423.57h0M56.42 425.57h0M56.59 426.89h0M59.77 433.35h0M57.38 425.84h0M61.37 430.57h0M56.99 427.42h0M60.84 430.81h0M61.53 431.24h0M56.11 426.64h0M57.96 424.27h0M59.46 425.26h0M57.96 423.76h0M60.77 434.83h0M61.31 432.57h0M56.87 411.65h0M54.62 406.03h0M56.45 417.01h0M53.34 409.73h0M54.47 411.59h0M56.48 415.17h0M55.22 405.8h0M55.32 416.75h0M56.82 416.2h0M54.72 411.95h0M54.04 409.52h0M56.8 411.98h0M56.59 408.2h0M55.44 411.69h0M53.99 409.02h0M54.81 414.94h0M54.94 408.71h0M53.98 416.43h0M56.65 409.86h0M53.47 415.14h0M55.85 414.94h0M53.48 407.44h0M53.91 409.56h0M57.43 417.28h0M53.54 404.83h0M57.61 417.25h0M53.69 415.08h0M54.76 415.22h0M54.2 405.47h0M55.7 405.61h0M57.48 415.72h0M56.38 407.77h0M53.91 404.88h0M58.1 389.11h0M55.09 394.01h0M53.97 393.73h0M53.81 395.4h0M54.2 391.8h0M56.14 399.68h0M53.63 396.93h0M55.88 400.6h0M54.18 391.45h0M55.34 398.53h0M55.28 392.04h0M55.18 391.26h0M56.16 397.72h0M54.17 400.3h0M56.09 398.2h0M56.22 388.67h0M55.19 393.26h0M55.05 393.15h0M57 397.13h0M56.91 400.02h0M56.78 396.39h0M55.05 399.3h0M56.06 388.56h0M54.16 397.17h0M56.69 398.64h0M55.63 396.97h0M56.25 392.2h0M57.72 392h0M57.29 389.34h0M58.23 390.82h0M56.66 382.36h0M61.13 379.61h0M57.51 383.99h0M61.85 379.51h0M59.01 378.88h0M61.17 378.95h0M59.64 378.78h0M62.01 377.92h0M59.83 374.99h0M59.84 375.81h0M57.96 379.74h0M59.75 382.69h0M59 377.25h0M59.42 383.76h0M58.42 383.98h0M59.73 383.17h0M60.87 376.18h0M62.48 374.54h0M62.62 377.85h0M63.13 374.75h0M59.89 379.15h0M62.2 374.28h0M61.97 373.6h0M57.6 381.5h0M56.92 381.43h0M60.86 379.8h0M62.87 374.46h0M60.21 380.14h0M62.24 371.96h0M64.65 372.69h0M63.57 372.67h0M63.12 371.12h0M64.42 369.53h0M64.05 370.81h0M63.64 370.09h0M63.78 371.1h0M64.55 370.46h0M65.26 370.69h0M62.64 370.38h0M64.87 368.34h0M68.3 363.16h0M69.53 363.42h0M66.38 366.15h0M67.25 365.44h0M67.93 366.57h0M67.63 363.43h0M66.55 364.36h0M69.77 364.61h0M66.77 366.8h0M67.91 363.07h0M65.24 365.91h0M68.79 364.27h0M69.89 365.36h0M68.19 362.25h0M67.53 367.16h0M71.67 358.76h0M71.44 360.45h0M69.8 359.68h0M73.22 361.09h0M70.45 360.38h0M70.85 359.76h0M70.29 359.92h0M72.64 357.26h0M76.12 355.75h0M76.76 352.5h0M74.87 355.54h0M75.33 354.68h0M77.69 355.03h0M72.66 357.44h0M72.41 356.81h0M72.85 356.72h0M78.31 353.17h0M72.97 357.6h0M72.89 357.84h0M77.5 353.33h0M74.96 356.5h0M73.37 357.1h0M76.5 353.83h0M72.14 357.17h0M76.79 354.68h0M77.54 355.15h0M79.29 350.27h0M81.18 352.18h0M79.88 351.03h0M81.79 352.51h0M78.81 350.65h0M87.07 347.62h0M83.11 351.54h0M87.05 345.07h0M82.25 350.93h0M85.97 347.67h0M81.24 349.23h0M86.55 348.18h0M85.27 348.71h0M85.29 346.26h0M86.1 348.45h0M83.31 347.83h0M87.16 347.6h0M87.88 345.99h0M87.88 344.61h0M82.35 350.47h0M80.73 349.14h0M83.97 350.45h0M84.51 346.58h0M85.48 346.25h0M86.1 347.25h0M91.71 344.84h0M91.44 342.63h0M91.1 346.81h0M90.91 343h0M89.88 344.97h0M90.71 346.86h0M90.43 343.15h0M91.84 343.26h0M97.07 342.02h0M94.4 344.86h0M96.12 341.4h0M93.93 343.35h0M94.98 340.5h0M94.16 341.89h0M94.77 344.11h0M94.09 343.5h0M96.02 343.08h0M94.42 344.19h0M97.95 340.18h0M99.8 340.65h0M100.36 339.73h0M101.25 339.66h0M98.53 340.52h0M101.38 342.23h0M100.35 339.95h0M100.62 340.82h0M102.13 338.59h0M103.23 340.66h0M102.79 340.65h0M105.3 338h0M105.88 336.9h0M104.24 337.46h0M102.12 338.09h0M104.53 340.41h0M105.22 337.45h0M104.43 340.86h0M105.91 337.7h0M113.92 336.69h0M111.54 337.91h0M114.07 335.63h0M114.1 336.83h0M110.81 338.95h0M111.54 336.71h0M109.69 336.61h0M113.53 337.1h0M109.7 336.63h0M111.7 336.77h0M112.39 336.42h0M121.04 336.71h0M122.29 335.18h0M118.58 336.8h0M120.01 338.36h0M122.11 337.22h0M118.57 337.57h0M121.88 337.6h0M120.56 336.47h0M120.61 335.4h0M121.41 335.85h0M119.45 335.96h0" stroke="#7fd3ee" stroke-width="0.5" stroke-linecap="round" stroke-opacity="0.55" fill="none"/>
<path d="M129.33 339.21h0M137.5 340.29h0M124.59 339.58h0M133.1 339.46h0M134.22 340.77h0M124.8 339.29h0M128.73 339.71h0M133.15 340.17h0M130.08 339.88h0M134.06 340.6h0M131.67 339.45h0M136.77 341.61h0M132.43 341.18h0M134.04 339.66h0M136.42 340.29h0M139.65 341.32h0M129.59 339.39h0M125.12 339.08h0M124.95 340.77h0M128.61 340.14h0M139.39 340.91h0M124.95 339.38h0M130.56 339.24h0M131.25 340.68h0M138.14 340.67h0M135.1 340.65h0M126.88 339.37h0M137.58 340.69h0M130.81 340.22h0M135.15 341.09h0M131.28 341.49h0M130.52 339.65h0M125.01 339.1h0M125.78 339.62h0M132.87 339.37h0M138.09 341.65h0M149.78 344.46h0M143.75 342.24h0M150.55 344.55h0M154.22 346.72h0M149.62 345.79h0M154.28 346.85h0M152.2 345.58h0M150.25 345.41h0M153.24 347.11h0M145.43 343.9h0M147.5 344.5h0M155.03 346.93h0M153.2 347.05h0M149.09 344.95h0M152.42 346.11h0M150.29 344.48h0M155.04 348.08h0M145.35 342.62h0M152.13 346.02h0M153.34 347.13h0M145.62 342.1h0M153.55 345.55h0M155.83 348.59h0M156.26 347.94h0M147.44 344.37h0M149.1 344.82h0M150.56 344h0M156.13 347.53h0M155.48 346.77h0M153.57 348.67h0M145.11 343.84h0M166.64 355.97h0M159.65 349.8h0M161.98 352.01h0M158.28 349.02h0M161.23 351.34h0M162.91 353.04h0M164.27 354.84h0M164.29 354.03h0M164.8 353.58h0M165.04 355.09h0M158.51 348.49h0M161.09 351.17h0M163.53 353.04h0M162.57 350.79h0M164.04 353.05h0M165.59 354.09h0M159.12 350.9h0M158.25 348.73h0M163.51 352.88h0M160.47 351.1h0M157.57 348.3h0M163.76 354.07h0M161.93 351.86h0M160.52 350.58h0M160.85 353.25h0M166.65 356.36h0M158.16 348.82h0M170.55 361.75h0M173.77 361.73h0M169.09 358.3h0M175.14 364.34h0M173.47 362.55h0M172.53 361.12h0M178.16 368.52h0M172.5 362.23h0M172.43 361.1h0M169.12 358.44h0M168.57 358.07h0M173.54 362.61h0M169.73 357.86h0M179.77 371.24h0M180.14 371.1h0M169.66 358.63h0M169.02 357.37h0M170.48 360.06h0M179.18 371.47h0M177.23 366.47h0M173.31 361.65h0M174.83 364.26h0M176.81 365.44h0M175.06 364.32h0M169.24 356.26h0M169.19 357.08h0M170.85 359.54h0M172.63 361.57h0M177.31 367.41h0M172.32 360.48h0M171.12 360.33h0M176.41 364.86h0M180.15 370.55h0M167.83 356.86h0M170.4 358.79h0M177.16 367.36h0M169.75 359.62h0M167.58 357.38h0M180.08 371.44h0M171.23 360.63h0M174.6 365.05h0M178.27 368.75h0M170.18 359.34h0M172.54 361.7h0M184.57 381.01h0M182.05 374.87h0M186.7 383.09h0M184.21 381.66h0M182.07 374.43h0M183.7 378.45h0M184.82 379.47h0M184.09 376.28h0M183.26 376.94h0M183.04 377h0M184.05 379.55h0M183.5 377.05h0M183.6 376.62h0M181.48 373.99h0M181.19 373.6h0M181.71 374.09h0M180.81 374.07h0M182.16 375.94h0M182.25 376.07h0M184.93 382.52h0M184.79 379.18h0M185.29 381.42h0M185.96 382.57h0M182.23 375.18h0M184.29 382.5h0M180.85 374.17h0M187.03 389.79h0M189.56 396.36h0M188.88 394.64h0M187.42 391.87h0M186.6 387.72h0M186.89 387.82h0M187.88 388.52h0M187.01 388.25h0M187.9 394.31h0M187.95 392.63h0M186.9 385.87h0M185.86 385.05h0M187.89 391.47h0M186.71 386.99h0M184.93 384.77h0M185.24 385.86h0M187.54 389.65h0M187.59 392.4h0M187.39 387.44h0M187.85 389.63h0M185.21 384.65h0M187.36 389.85h0M189.1 395.25h0M188.08 392.75h0M188.4 393.97h0M186.42 385.26h0M186.66 387.84h0M189.21 393.77h0M187.36 393.74h0M188.89 392.82h0M187.72 386.18h0M189.71 401.63h0M190.28 401.97h0M189.57 402.7h0M188.96 400.87h0M188.78 402.19h0M188.38 405.26h0M190.19 402.69h0M190.22 402.17h0M190.31 402.11h0M189.87 403.03h0M189.73 404.76h0M189.45 401.38h0M188.89 401.46h0M188.88 399.83h0M185.55 423.9h0M190.06 411.32h0M189.31 409.99h0M187.43 421.94h0M189.41 414.85h0M190.71 406.26h0M187.32 421.75h0M187.4 418.59h0M189.19 410.98h0M186.63 420.36h0M187.28 421.8h0M187.34 415.57h0M187.54 420.5h0M189.45 406.85h0M189.44 415.92h0M187.76 419.39h0M187.9 415.72h0M187.18 424.51h0M187.15 419.48h0M189.16 411.25h0M186.22 422.78h0M189.52 408.19h0M187.44 424.67h0M189.83 408.58h0M188.73 414.86h0M187.96 412.6h0M188.89 414.87h0M187.13 420.43h0M189.47 411.15h0M188.13 418.73h0M188.43 412.74h0M188 414h0M189.49 409h0M188.46 421.69h0M188.52 415.99h0M189.96 410.1h0M187.99 416.8h0M189.97 412.7h0M188.12 417.41h0M187.28 418.36h0M188.4 409.76h0M185.26 429.89h0M185.32 427.31h0M185 428.37h0M185.82 429.2h0M183.92 429.16h0M185.38 428.37h0M186.2 426.92h0M185.87 425.48h0M186.28 426.98h0M185.08 429.88h0M184.05 430.83h0M185.11 429.97h0M185.95 428.48h0M180.54 436.84h0M178.88 441.33h0M180.87 437.92h0M176.68 444.22h0M182.58 436.66h0M182.45 437.01h0M180.73 435.79h0M181.41 437.62h0M182.58 435.31h0M182.1 437.24h0M175.35 445.83h0M181.03 439.72h0M181.33 435.31h0M179.98 439.43h0M182.57 433.19h0M180.64 438.31h0M175.47 445.85h0M178.79 441.94h0M181.29 437.51h0M182.94 435.58h0M181.09 435.74h0M175.76 442.69h0M177.39 445.55h0M183.38 433.41h0M178.73 438.88h0M175.2 445.62h0M177.91 439.95h0M182.98 435.16h0M174.82 446.88h0M176 446.68h0M176.62 444.83h0M184.16 433.23h0M178.13 442.44h0M180.35 439.54h0M180.32 439.74h0M176.18 446.21h0M177.48 444.62h0M176.17 446.65h0M176.61 443.54h0M172.47 450.29h0M173.08 450.73h0M172.33 447.59h0M170.34 452.77h0M172.92 449.89h0M171.06 450.54h0M173.38 449.79h0M173.68 448.56h0M173.41 447.48h0M173.71 447.71h0M171.03 452.6h0M174.1 448.33h0M174.21 449.1h0M169.8 453.14h0M171.96 447.7h0M170.11 451.59h0M171.52 449.72h0M165.45 456.15h0M160.96 460.21h0M166.51 453.99h0M166.93 455.35h0M162.09 460.02h0M157.94 460.7h0M165.31 455.18h0M161 459.37h0M164.8 457.61h0M167.74 453.79h0M164.54 457.05h0M165.01 456.97h0M161.58 460.02h0M158.25 461.06h0M155.64 461.04h0M164.77 457.66h0M158.41 460.95h0M164.98 456.32h0M163.87 458.32h0M162.26 458.25h0M158.26 461.51h0M163.9 457.56h0M165.11 457.04h0M160.62 459.72h0M163.88 457.56h0M163.33 458.16h0M163.72 456.01h0M165.39 455.34h0M168.67 455.11h0M156.8 461.07h0M162.09 458.49h0M162.94 458.34h0M153.11 464.72h0M149.47 466.37h0M152.24 464.66h0M151.62 465.8h0M154.22 465.07h0M152.78 463.37h0M152.56 464.76h0M153.53 463.61h0M152.33 464.19h0M149.9 466.03h0M152.7 464.34h0M151.62 465.42h0M152.33 462.83h0M149.56 465.9h0M152.32 465.14h0M150.75 465.45h0M154.8 463.51h0M136.38 470.47h0M147.02 467.02h0M137.57 469.93h0M138.27 470.54h0M136.06 470.44h0M136.5 469.93h0M144.88 468.21h0M145.9 468.45h0M138.95 469.77h0M142.51 468.69h0M140.75 468.33h0M140.5 468.28h0M139.21 468.49h0M137.36 470.05h0M136.69 469.44h0M139.26 469.29h0M138.48 469.9h0M135.18 470.13h0M143.35 467.76h0M138.78 467.9h0M141.48 468.82h0M142.03 469.86h0M145.87 468.06h0M141.03 468.94h0M143.74 468.92h0M146.12 467.28h0M139.18 470.36h0M135.99 470h0M140.53 469.27h0M130.72 469.69h0M128.84 470.52h0M129.98 471.79h0M133.33 470.68h0M133.71 471.17h0M132.85 470.5h0M133.28 470.41h0M128.99 471.25h0M128.91 471.3h0M129.38 469.95h0M133.62 470.41h0M128.54 471.9h0M125.16 471.01h0M120.29 471.4h0M117.96 470.25h0M118.62 471.28h0M119.37 470.65h0M116.65 470.78h0M120.17 471.35h0M122.28 471.52h0M121.54 471.56h0M119.47 470.21h0M125.43 471.37h0M116.68 471.09h0M118.01 471.81h0M122.93 471.08h0M115.39 470.69h0M118.44 471.07h0M126.14 471h0M125.19 470.79h0M116.62 470.33h0M115 471.28h0M121.19 471.22h0M126.63 470.24h0M116.53 470.38h0M122.42 471.87h0M122.87 470.97h0M119.84 471h0M117.97 471.43h0M123.48 471.11h0M127.32 469.88h0M112.23 470.9h0M109.72 469.9h0M110.98 470.37h0M112.21 470.25h0M113.15 468.79h0M109.11 470.16h0M109.78 469.27h0M108.41 469.32h0M112.22 470.98h0M109.66 470.19h0M111.91 469.95h0M110.17 469.56h0M95.14 465.32h0M97.32 465.99h0M103.5 467.87h0M102.29 467.13h0M96.07 465.91h0M101.58 466.36h0M102.9 466.77h0M100.33 466.59h0M98.37 466.02h0M98.13 466.23h0M100.28 468.16h0M104.06 469.21h0M102.11 468.52h0M101.58 467.94h0M99.71 467.71h0M96.65 465.82h0M96.19 465.61h0M102.53 467.89h0M104.48 467.33h0M96.18 465.83h0M96.65 466.28h0M95.72 465.68h0M92.74 463.92h0M92.42 463.24h0M92.55 463.12h0M90.48 461.48h0M91.08 462.53h0M90.83 463.29h0M90.06 462.07h0M91.04 462.69h0M89.95 461.63h0M92.47 461.97h0M91.29 460.83h0M84.62 457.81h0M85.28 459.85h0M87.62 460.89h0M85.89 458.08h0M84.35 458.31h0M82.28 456.05h0M81.03 456.3h0M84.71 457.09h0M80.92 455.6h0M83.31 457.25h0M79.72 454.76h0M88.42 460.38h0M87.98 460.21h0M79.85 454.55h0M81.58 456.55h0M85.64 458.68h0M78.98 454.43h0M82.33 456.57h0M85.42 458.42h0M88.46 459.94h0M84.81 458.5h0M84.57 459.2h0M82.2 456.64h0M79.6 454.73h0M81.04 456.06h0M82.79 457.9h0M83.24 457.46h0M76.39 449.65h0M74.61 449.03h0M75.97 450.46h0M73.62 448.53h0M75.21 449.39h0M73.91 448.53h0M76.44 452.16h0M75.57 449.05h0M76.55 451.75h0M76.52 451.13h0M77.5 451.79h0M77.39 452.63h0M77.6 452.76h0M74.06 447.74h0M75.23 451.41h0M69.17 442.8h0M69.56 442.56h0M70.77 444.57h0M67.42 440.56h0M71.08 445.65h0M70.21 443.17h0M71.79 445.31h0M70.5 444.67h0M66.37 439.35h0M67.69 439.78h0M68.14 440.75h0M72.11 447.23h0M70.41 443.97h0M72.73 446.77h0M67.54 440.75h0M73.65 446.61h0M70.62 444.91h0M73.5 447.15h0M72.79 447.44h0M72.16 446.31h0M67.56 439.43h0M67.91 438.33h0M69.71 443.13h0M66.42 437.91h0M64.77 434.36h0M65.35 436.18h0M65.82 436.25h0M65.56 437.96h0M65.79 436.2h0M64.1 435.68h0M65.63 436.37h0M66.75 436.61h0M62.63 430.37h0M62.29 427.84h0M60.45 421.73h0M61.57 427.42h0M62.01 426.39h0M61.14 424.34h0M61.89 427.46h0M63.71 431.44h0M59.24 421.23h0M60.93 425.79h0M62.36 428.14h0M62.01 427.27h0M62.03 429.61h0M60.49 423.66h0M63.87 431.13h0M61.27 421.92h0M59.61 421.62h0M63.14 430.94h0M60.69 425.12h0M61.66 430.57h0M61.67 427.28h0M63.32 433.05h0M60.24 424.29h0M60.85 427.17h0M62.04 427.85h0M61.83 429.27h0M60.62 422.38h0M60.46 423.12h0M59.33 416.67h0M58.67 417.04h0M57.29 413.87h0M58.32 414.74h0M57.68 414.76h0M57.44 412.12h0M57.82 409.97h0M60.38 414.34h0M58.45 405.06h0M58.6 409.18h0M58.64 415.05h0M58.02 413.93h0M57.82 411.89h0M57.06 407.53h0M56.8 407.88h0M59.02 416.68h0M58.98 410.24h0M57.81 404.67h0M58.14 408.56h0M57.03 407.54h0M57.8 407.46h0M58.69 407.21h0M58.25 406.5h0M58.43 414.84h0M58.88 408.29h0M58.59 407.47h0M58.93 415.75h0M58.3 417.27h0M58.88 398.76h0M57.76 399.62h0M57.26 399.99h0M59.07 395.01h0M60.21 392.78h0M57.58 396.07h0M59.04 398.77h0M58.8 399.52h0M60.32 389.45h0M58.64 392.81h0M57.79 399.82h0M59.13 399.25h0M57.69 400.81h0M59.1 394.81h0M59.65 390.1h0M59.36 391.01h0M60.28 391.06h0M58.92 393.58h0M57.96 397.87h0M58.42 396.36h0M61.11 392.29h0M58.21 397.64h0M58.88 396.93h0M58.82 400.95h0M59.69 391.6h0M58.54 395.87h0M63.41 376.38h0M63.55 378.37h0M60.92 384.37h0M63.39 378.41h0M63.99 376.56h0M63.07 379.36h0M62.9 382.82h0M62.97 381.74h0M61.93 381.26h0M64.28 375.81h0M61.65 382.87h0M63.49 376.12h0M64.54 376.43h0M61.25 382.6h0M61.93 384.29h0M61.61 384.09h0M62.71 380.91h0M63.31 381.9h0M60.46 384.23h0M60.75 383.88h0M63.29 380.03h0M60.25 384.03h0M63.58 377h0M61.41 384.25h0M66.77 371.16h0M66.8 373.54h0M67.25 371.79h0M65.96 373.62h0M65.73 373.43h0M67.43 370.34h0M67.12 374.56h0M69.06 371.35h0M68.52 370.57h0M68.06 370.58h0M69.97 366.5h0M70.71 364.94h0M71.57 365.8h0M69.96 367.01h0M69.65 365.88h0M69.65 368.58h0M72.76 364.6h0M70.55 367.15h0M70.92 365.54h0M72.78 365.18h0M71.44 366.35h0M70.86 367.63h0M72.99 362.45h0M72.4 362.56h0M73.07 362.61h0M74.99 363.68h0M72.94 362.87h0M72.39 362.38h0M79.27 355.9h0M79.95 356.75h0M79.4 358.02h0M75.91 359.6h0M79.91 356.18h0M78.16 357.79h0M79.09 356.57h0M79.07 357.74h0M80.59 355.19h0M77.75 360.47h0M77.77 358.73h0M75.41 359.63h0M76.45 359.74h0M76.26 359.32h0M79.29 357.2h0M75.99 360h0M83.12 353.91h0M82.56 355.29h0M81.87 353.84h0M82.34 355.28h0M84.17 352.37h0M84.32 353.62h0M90.48 349.33h0M88.11 349.96h0M89.52 349.49h0M88.33 351.4h0M84.52 351.19h0M86.04 352.3h0M83.69 351.69h0M88.52 349.5h0M89.03 349.39h0M89.03 350.33h0M86.46 351.81h0M87.44 349.09h0M89.08 349.01h0M89.87 351.1h0M87.1 351.49h0M92.52 347.37h0M92.35 347.27h0M91.35 347.68h0M92.68 349.29h0M91.9 348.29h0M91.8 347.81h0M92.56 347.23h0M97.23 344.83h0M96.53 344.8h0M96.5 346.08h0M95.44 345.62h0M94.78 345.59h0M97.4 344.86h0M95.29 345.34h0M98 346.23h0M97.74 344.76h0M99.55 343.81h0M100.03 344.13h0M100.69 343.1h0M101.16 343.19h0M100.51 343.78h0M100.5 343.74h0M101.71 344.17h0M104.67 342.55h0M105.6 342.21h0M104.2 343.91h0M106.74 342.02h0M104.88 342.91h0M103.5 341.99h0M103.23 342.61h0M104.49 342.75h0M107.25 341.64h0M113.12 340.12h0M111.14 340.18h0M111.01 340.67h0M113.56 340.72h0M111.94 340.45h0M114.71 339.23h0M111.11 339.91h0M112.72 341.8h0M113 340.76h0M120.21 338.49h0M119.86 339.8h0M122.02 341.09h0M119.91 340.46h0M119.21 340.59h0M122.26 338.84h0M119.19 340.87h0M121.1 340.5h0M121.05 339.13h0" stroke="#1ba8d3" stroke-width="0.9" stroke-linecap="round" stroke-opacity="0.8" fill="none"/>
</g>
<g id="panelC">
<path d="M432.25 332.35A73.3 73.3 0 0 1 438.75 332.64L438.2 338.91A67 67 0 0 0 432.25 338.65Z" fill="#c2c6cd"/>
<path d="M441.53 332.94A73.3 73.3 0 0 1 452.23 335.13L450.51 341.19A67 67 0 0 0 440.73 339.19Z" fill="#c2c6cd"/>
<path d="M459.06 337.43A73.3 73.3 0 0 1 462.28 338.78L459.7 344.53A67 67 0 0 0 456.76 343.29Z" fill="#e3e5e9"/>
<path d="M468.7 342.05A73.3 73.3 0 0 1 482.66 352.44L478.33 357.01A67 67 0 0 0 465.57 347.52Z" fill="#111111"/>
<path d="M486.72 356.6A73.3 73.3 0 0 1 493.15 364.85L487.91 368.36A67 67 0 0 0 482.04 360.82Z" fill="#7f838b"/>
<path d="M494.66 367.2A73.3 73.3 0 0 1 499.4 376.26L493.63 378.79A67 67 0 0 0 489.29 370.51Z" fill="#c2c6cd"/>
<path d="M501.82 382.56A73.3 73.3 0 0 1 504.31 392.23L498.12 393.39A67 67 0 0 0 495.84 384.54Z" fill="#7f838b"/>
<path d="M505.51 408.21A73.3 73.3 0 0 1 505.26 412.15L498.99 411.6A67 67 0 0 0 499.21 407.99Z" fill="#e3e5e9"/>
<path d="M504.67 417A73.3 73.3 0 0 1 502.51 426.52L496.48 424.73A67 67 0 0 0 498.44 416.03Z" fill="#c2c6cd"/>
<path d="M498.23 437.57A73.3 73.3 0 0 1 490.86 449.67L485.82 445.89A67 67 0 0 0 492.56 434.83Z" fill="#c2c6cd"/>
<path d="M484.16 457.4A73.3 73.3 0 0 1 474.2 465.76L470.59 460.59A67 67 0 0 0 479.7 452.95Z" fill="#7f838b"/>
<path d="M466.87 470.26A73.3 73.3 0 0 1 459.06 473.87L456.76 468.01A67 67 0 0 0 463.89 464.71Z" fill="#7f838b"/>
<path d="M457.54 474.45A73.3 73.3 0 0 1 444.06 477.99L443.05 471.77A67 67 0 0 0 455.37 468.54Z" fill="#e0452f"/>
<path d="M444.06 477.99A73.3 73.3 0 0 1 433.88 478.93L433.74 472.63A67 67 0 0 0 443.05 471.77Z" fill="#e8e8ea"/>
<path d="M429.92 478.91A73.3 73.3 0 0 1 427.83 478.82L428.21 472.53A67 67 0 0 0 430.12 472.62Z" fill="#e3e5e9"/>
<path d="M423.43 478.42A73.3 73.3 0 0 1 415.65 477.05L417.07 470.91A67 67 0 0 0 424.19 472.16Z" fill="#7f838b"/>
<path d="M411.82 476.05A73.3 73.3 0 0 1 404.36 473.44L406.76 467.61A67 67 0 0 0 413.58 470Z" fill="#c2c6cd"/>
<path d="M399.7 471.33A73.3 73.3 0 0 1 392.04 466.93L395.49 461.67A67 67 0 0 0 402.5 465.68Z" fill="#7f838b"/>
<path d="M388.79 464.68A73.3 73.3 0 0 1 383.55 460.43L387.74 455.72A67 67 0 0 0 392.53 459.6Z" fill="#7f838b"/>
<path d="M380.34 457.4A73.3 73.3 0 0 1 377.16 454L381.89 449.85A67 67 0 0 0 384.8 452.95Z" fill="#e3e5e9"/>
<path d="M372.27 447.79A73.3 73.3 0 0 1 366.89 438.82L372.5 435.97A67 67 0 0 0 377.43 444.17Z" fill="#e3e5e9"/>
<path d="M364.91 434.61A73.3 73.3 0 0 1 362.47 428.08L368.46 426.15A67 67 0 0 0 370.7 432.12Z" fill="#e3e5e9"/>
<path d="M360.15 418.84A73.3 73.3 0 0 1 358.96 404.72L365.26 404.8A67 67 0 0 0 366.34 417.7Z" fill="#111111"/>
<path d="M359.43 397.29A73.3 73.3 0 0 1 360.5 390.64L366.67 391.93A67 67 0 0 0 365.69 398.01Z" fill="#c2c6cd"/>
<path d="M361.6 386.12A73.3 73.3 0 0 1 362.98 381.68L368.93 383.74A67 67 0 0 0 367.67 387.8Z" fill="#c2c6cd"/>
<path d="M364.37 377.98A73.3 73.3 0 0 1 372.01 363.89L377.18 367.48A67 67 0 0 0 370.21 380.35Z" fill="#111111"/>
<path d="M376.7 357.82A73.3 73.3 0 0 1 384.6 349.95L388.7 354.74A67 67 0 0 0 381.48 361.94Z" fill="#7f838b"/>
<path d="M390.68 345.27A73.3 73.3 0 0 1 398.04 340.82L400.98 346.39A67 67 0 0 0 394.26 350.46Z" fill="#7f838b"/>
<path d="M401.8 338.97A73.3 73.3 0 0 1 405.01 337.6L407.35 343.45A67 67 0 0 0 404.42 344.7Z" fill="#e3e5e9"/>
<path d="M409.16 336.08A73.3 73.3 0 0 1 419.06 333.55L420.2 339.74A67 67 0 0 0 411.14 342.06Z" fill="#c2c6cd"/>
<circle cx="432.25" cy="405.65" r="75.5" fill="none" stroke="#1a1a1a" stroke-width=".9"/>
<circle cx="432.25" cy="405.65" r="73.3" fill="none" stroke="#1a1a1a" stroke-width=".9"/>
<circle cx="432.25" cy="405.65" r="67" fill="none" stroke="#1a1a1a" stroke-width=".9"/>
<path d="M432.25 330.15L432.25 327.55M455.81 333.92L456.28 332.49M477.01 344.85L477.9 343.64M493.75 361.86L494.97 360.99M504.35 383.23L505.78 382.79M507.74 406.85L510.34 406.89M503.6 430.34L505.02 430.83M492.33 451.37L493.52 452.28M475.06 467.84L475.91 469.07M453.52 478.09L453.94 479.53M429.85 481.11L429.77 483.71M406.43 476.6L405.91 478.01M385.58 465L384.65 466.18M369.39 447.47L368.14 448.3M359.48 425.77L358.03 426.17M356.84 402.06L354.24 401.93M361.72 378.71L360.32 378.17M373.65 358.04L372.49 357.1M391.43 342.14L390.62 340.87M413.29 332.57L412.91 331.12" stroke="#1a1a1a" stroke-width=".6" fill="none"/>
</g>
<path d="M432.25 327.35V339.15" stroke="#1a1a1a" stroke-width=".9"/>
<path d="M448.95 459.8h0M481.26 386.21h0M482.61 423.21h0M419.6 349.45h0M452.45 354.22h0M401.76 453.06h0M432.32 458.11h0M378.62 420.21h0M442.93 349.16h0M417.42 350.71h0M470.99 444.62h0M481.59 435.63h0M490 404.34h0M449.95 457.26h0M467.59 451.13h0M487.08 425.06h0M447.34 349.94h0M468.74 447.65h0M471.01 442.84h0M486.11 381.46h0M475.92 377.35h0M400.3 447.63h0M374.24 409.36h0M435.39 461.13h0M411.39 458.96h0M487.59 392.33h0M452.69 354.45h0M476.43 368.35h0M402.65 452.37h0M440.01 347.9h0M457.91 355.49h0M377.13 390.29h0M441.84 462.23h0M407.05 456.83h0M436.49 351.5h0M375.94 413.41h0M461.19 355.85h0M417.09 350.37h0M474.53 444.34h0M387.46 434.08h0M462.38 449.84h0M395.93 366.84h0M478.84 439.83h0M467.58 364.46h0M382.73 432.01h0M449.24 460.86h0M482.67 415.62h0M446.95 456.04h0M375.34 395.07h0M386.16 436.95h0M487.23 387.04h0M484.89 380.52h0M466.63 449.13h0M473.74 366.64h0M445.21 461.51h0M406.34 355.41h0M419.15 461.04h0M389.63 372.25h0M436.72 462.2h0M420.95 459.17h0M473.61 375.07h0M405.29 455.47h0M410.22 459.76h0M489.32 407.99h0M384.98 370.95h0M431.14 461.42h0M417.76 456.72h0M379.36 426.21h0M482.69 411.77h0M423.68 459.82h0M405.73 353.38h0M436.36 350.42h0M375.07 412.55h0M391.71 363.17h0M389.18 368.23h0M485.18 399.86h0M395.41 360.75h0M475.36 366.44h0M483.67 389.17h0M401.6 356.42h0M377.78 386.87h0M396.17 447.43h0M386.72 376.67h0M459.54 354.19h0M400.11 449.35h0M484.9 381.38h0M463.14 360.07h0M407.72 458.05h0M404.02 360.35h0M393.1 364.04h0M456.74 354.08h0M490.59 399.06h0M420.03 463.58h0M489.01 392.29h0M374.87 409.7h0M435.8 353.35h0M420.25 348.36h0M415.7 457.23h0M407.51 352.94h0M456.67 457.2h0M485.2 417.75h0M441.05 353.99h0M450.84 351.67h0M458.23 353.46h0M448.81 349.24h0M397.36 451.45h0M470.75 363.59h0M382.78 433.71h0M421.19 462.15h0M472.22 367.58h0M487.09 414.25h0M373.06 404.4h0M446.4 349.81h0M488.76 395.81h0M393.4 441.62h0M475.94 432.71h0M379.95 385.25h0M468.4 449.42h0M416.19 456.58h0M445.29 459.24h0M412.31 452.35h0M483.17 425.86h0M488.06 417.36h0M482.98 430.48h0M453.68 457.84h0M486.56 395.72h0M440.77 349.84h0M379.37 389.53h0M394.08 364.55h0M420.16 349.22h0M481.87 434.79h0M463.55 361.08h0M377.56 400.58h0M386.96 429.67h0M459.27 448.58h0M377.13 385.45h0M476.45 443.18h0M380.68 408.49h0M483.51 430.12h0M486.91 426.67h0M376.71 404.56h0M485.16 382.57h0M452.65 459.09h0M392.7 444.34h0M402.98 356.68h0M465.43 450.97h0M423.81 350.01h0M398.49 363.67h0M396.81 450.71h0M474.47 366.56h0M432.71 352.29h0M394.39 448.67h0M443.17 460.37h0M460.44 454.69h0M487.56 390.86h0M484.46 428.67h0M476.75 442.33h0M384.95 438.26h0M470.03 361.88h0M483.62 418.97h0M412.8 459.05h0M373.48 412.53h0M451.21 460.3h0M462.97 360.07h0M401.12 452.89h0M373.92 397.83h0M471.96 372.4h0M395.14 443.69h0M385.11 435.47h0M483.15 385.04h0M379.67 392.66h0M415.51 459.17h0M407.61 454.64h0M410.29 454.4h0M474.17 369.29h0M490.32 411.57h0M410.38 460.53h0M476.44 371.66h0M381.56 377.47h0M379.67 394.69h0M485.79 425.94h0M477.04 376.65h0M483.05 379.24h0M378.6 415.32h0M460.97 451.81h0M375.82 405.04h0M383.42 380.72h0M460.66 457.59h0M378.32 413.99h0M395.82 365.56h0M422.78 351.27h0M413.13 357.13h0M390.3 367.96h0M400.93 360.54h0M432.44 352.41h0M379.06 382.46h0M447.14 456.74h0M408.62 352.04h0M485.91 386.52h0M420.03 463.57h0M378.12 413.95h0M378.39 418.35h0M482.85 377.58h0M431.73 463.86h0M423.83 460.12h0M386.33 432.02h0M445.49 461.16h0M398.13 452.79h0M462.21 356.52h0M481.87 384.68h0M433.22 347.63h0M484.26 430.45h0M400.82 452.61h0M378.27 397.78h0M489.32 409.12h0M401.97 449.13h0M396.59 449.71h0M453.45 460.89h0M388.37 442.01h0M475.99 372.26h0M381.59 400.77h0M477.5 376.86h0M443.19 457.38h0M474.01 365.64h0M433.4 351.05h0M459.2 458.09h0M397.56 446.29h0M460.18 455.22h0M489.27 394.15h0M444.76 457.91h0M472.19 447.51h0M439.35 462.39h0M429.86 348.69h0M449.53 349.06h0M428.29 457.5h0M489.81 412.42h0M379.19 414.58h0M387.48 371.13h0M464.17 446.26h0M427.29 462.26h0M475.57 367.94h0M395.1 366.03h0M489.51 396.96h0M374.65 406.7h0M486.71 422.63h0M417.51 354.75h0M471.11 364.17h0M488.7 395.48h0M425.5 457.95h0M383.07 421.16h0M401.88 362.42h0M433.69 457.39h0M444.86 349.8h0M389.38 440.07h0M442.66 352.94h0M395.65 448.33h0M446.01 349.33h0M479.48 371.27h0M406.69 354.32h0M394.65 443.54h0M484.52 410.28h0M381.22 427.14h0M379.96 386.83h0M380.05 405.99h0M406 359.68h0M466.45 365.75h0M395.29 371.02h0M489.33 406.71h0M386.99 375.83h0M377.09 387.25h0M486.16 420.2h0M490.08 412.23h0M449.64 350.61h0M464.03 452.14h0M481.78 424.97h0M375.01 400.1h0M484.4 394.54h0M392.83 363.39h0M488.24 414.08h0M412.84 455.64h0M481.88 383.24h0M443.72 349.57h0M489.04 415.42h0M482.23 380.52h0M440.96 348.32h0M418.44 352.88h0M462.14 446.4h0M410.19 353.67h0M435.56 350.22h0M381.11 385.12h0M402.47 449.95h0M416.78 457.39h0M479.92 373.52h0M462.22 448.79h0M484.24 430.47h0M432.5 462.25h0M456.33 354.44h0M476.52 372.68h0M394.35 361.2h0M469.71 366.47h0M431.69 464.85h0M390.68 446.02h0M450.85 353.58h0M483.04 384.91h0M469.78 360.89h0M375.8 388.22h0M477.04 435.04h0M484.42 387.23h0M391.56 364.04h0M379.84 389.79h0M479.63 433.17h0M483.86 382.03h0M462.17 357.36h0M410.87 459.68h0M413.16 351.62h0M379.27 425.19h0M489.42 408.74h0M382.44 424.77h0M457.22 353.83h0M429.91 462.94h0M458.21 451.4h0M385.09 429.05h0M484.37 388.25h0M489.45 417.04h0M437.63 349.18h0M481.24 437.42h0M449.03 460.96h0M385.46 431.69h0M383.1 433.49h0M383.58 432.06h0M429.61 348.95h0M455.72 352.84h0M433.16 460.19h0M478.56 378.98h0M380.82 397.17h0M470.66 442.14h0M419.34 461.95h0M409.61 458.88h0M459.82 361.19h0M443.97 460.3h0M384.81 370.85h0M464.11 453.45h0M462.36 455.39h0M471.99 446.18h0M464.96 445.07h0M482.91 433h0M466.26 449.19h0M485.58 395.49h0M450.04 461.39h0M480.62 429.42h0M437.9 461.67h0M375.14 411.72h0M418 348.96h0M485.68 428.82h0M485.25 393.21h0M462.55 448.65h0M464.72 448.44h0M378.18 392.38h0M449.22 351.05h0M395.33 446.49h0M458.03 451.41h0M481.36 379.64h0M378.09 387.61h0M388.92 430.82h0M463.89 447.61h0M460.75 453.71h0M480.57 372.84h0M383.13 430.92h0M465.99 362.27h0M383.61 381.54h0M406.62 456.53h0M478.04 371.42h0M479 440.01h0M468.5 443.09h0M401.58 357.57h0M384.85 428.16h0M414.58 458.34h0M378.05 385.85h0M377.74 409.91h0M403.87 455.45h0M381.85 386.82h0M468.95 361.52h0M487.88 406.65h0M411.98 351.04h0M396.43 449.28h0M376.98 396.82h0M390.23 435.45h0M412.41 351.99h0M405.87 457.54h0M398.17 357.65h0M474.2 437.61h0M407.05 458.4h0M418.84 454.87h0M422.66 462.24h0M477.47 368.01h0M475.26 367.68h0M389.04 370.52h0M408.69 352.8h0M486.55 422.51h0M379.02 427.32h0M381.61 386.4h0M459.39 447.04h0M399.94 362.05h0M448.77 462.38h0M448.62 457.54h0M489.59 401.41h0M485.29 382.51h0M381.14 392.42h0M448.2 350.64h0M428.88 349.46h0M429.61 349.1h0M440.73 461.11h0M444.02 349.51h0M392.65 364.45h0M381.97 388.05h0M392.63 362.09h0M405.52 354.18h0M469.43 367.59h0M376.75 401.36h0M383.59 439.36h0M430.86 463.84h0M464.47 364.02h0M444.84 462.04h0M463.52 448.99h0M462.83 448.41h0M395.76 448.54h0M437.55 350.23h0M378.8 427.7h0M405.76 453.14h0M489.51 407.95h0M443.06 459.31h0M488.18 400.4h0M392.73 441h0M433.21 460.8h0M465.85 452.46h0M445.24 459.39h0M485.15 415.78h0M375.72 388.08h0M466.92 359.38h0M487.22 419.99h0M383.88 424.94h0M381.89 390.18h0M471.49 362.6h0M441.67 456.62h0M423.85 349.56h0M484.82 383.26h0M377.03 405.97h0M376.77 399.12h0M406.31 355.21h0M380.07 390.25h0M378.19 425.32h0M490.17 411.81h0M485.69 419.56h0M468.67 361.13h0M441.33 458.71h0M409.79 355.69h0M486.33 421.59h0M378.27 391.92h0M375.21 401.19h0M398.57 357.7h0M484.37 381.87h0M489.73 412.24h0M414.98 350.3h0M488.62 412.56h0M465.11 452.73h0M410.32 457.24h0M438.37 348.02h0M386.69 371.62h0M476.41 432.02h0M390.06 366.15h0M473.74 442.59h0M395.44 369.96h0M383.27 437.04h0M455.75 359.5h0M452.88 453.41h0M418.66 459.8h0M478.73 437.02h0M429.94 347.51h0M383.63 375.93h0M404.25 457.41h0M463.86 453.83h0M428.94 464.06h0M422.27 461.17h0M436.74 461.91h0M477.48 370.66h0M415.34 349.46h0M378.77 426.74h0M427.58 459.99h0M479.76 370.49h0M441.58 347.75h0M435.9 458.88h0M396.78 441.26h0M384.48 372.85h0M397.52 448.01h0M385.62 440.7h0M482.19 380.45h0M487.48 393.7h0M434.8 463.15h0M418.72 454.23h0M402.51 450.31h0M460.46 455.18h0M486.8 413.47h0M490.25 394.98h0M490.51 409.66h0M479.45 376.71h0M379.88 425.48h0M451.15 457.15h0M484.11 417.25h0M487.73 418.24h0M376.24 407.57h0M405.55 359.19h0M426.76 464.48h0M475.79 440.21h0M374.49 418.61h0M379.16 401.52h0M454.19 357.94h0M428.56 348.69h0M396.78 451.97h0M466.25 359.66h0M452.22 352.51h0M374.73 409.19h0M379.65 386.7h0M410 353.95h0M467.69 447.24h0M485.28 412.5h0M486.36 419.51h0M409.39 352.71h0M421.1 462.22h0M474.21 445.68h0M481.83 390.89h0M485.46 384.45h0M469.14 446.72h0M376.41 415.44h0M397.27 359.81h0M387.9 374.94h0M484.61 380.99h0M482.99 377.19h0M468.39 448.25h0M409.74 353.34h0M411.1 352.36h0M401.09 357.74h0M378.24 423.4h0M392.37 370.42h0M388.45 366.58h0M431.91 352.37h0M433.44 462.76h0M488.44 416.26h0M488.86 410.13h0M469.39 445.36h0M389.33 440.55h0M453.69 356.31h0M410.76 355.75h0M420.15 454.75h0M394.66 447.44h0M384.72 373.54h0M472.77 443.32h0M416.1 457.78h0M440.53 460.21h0M480.95 374.85h0M473.08 445.39h0M389.66 369.01h0M443.59 462.03h0M481.21 373.19h0M429 351.06h0M467.64 450.99h0M378.96 429.83h0M459.72 355.25h0M377.63 400.97h0M470.21 448.07h0M475.74 365.97h0M489.65 392.38h0M378.21 421.32h0M441.95 456.64h0M385.09 380.3h0M487.66 390.85h0M482.77 429.56h0M475.77 369.62h0M391.69 365.24h0M445.07 460.63h0M385.33 373.16h0M469.43 370.13h0M462.74 451.58h0M376.59 394.36h0M380.19 388.83h0M382.07 428.66h0M405.18 355.46h0M420.71 458.58h0M394.18 366.28h0M378.17 385.78h0M433.48 461.4h0M378.36 391.03h0M485.01 429.92h0M473.63 364.77h0M481.84 381.83h0M416.51 349.48h0M474.95 377.79h0M463.04 358.7h0M469.28 363.04h0M466.88 360.15h0M453.99 358.96h0M479.87 431.21h0M468.21 360.32h0M419.63 354.97h0M483.74 380.67h0M474.15 442.83h0M401.45 358.38h0M453.2 455.83h0M375.36 389.58h0M476.89 371.04h0M397.11 360.36h0M469.66 440.2h0M481.81 435.57h0M378.42 414.53h0M468.98 443.99h0M476.17 439.76h0M398.1 452.04h0M407.8 353.8h0M484.11 390.17h0M402.86 357.64h0M457.56 352.97h0M377.35 396.98h0M464.91 450.53h0M404.17 455.56h0M449.43 354.71h0M402.19 449.86h0M440.88 349.04h0M469.96 449.06h0M380.9 432.25h0M384.53 376.89h0M399.46 451.21h0M474.29 372.76h0M434.82 347.66h0M418.29 350.42h0M443.98 350.75h0M471.74 365.7h0M470.43 448.65h0M409.86 356.88h0M401.98 355.8h0M475.28 364.99h0M464.45 361.16h0M420.8 351.44h0M417.29 353.25h0M421.81 349.31h0M385.53 372.34h0M445.78 357.39h0M386.4 370.28h0M378.11 401.82h0M444.95 458.19h0M477.11 375.69h0M380.49 381.21h0M377.67 411.93h0M393.59 437.92h0M385.4 432.22h0M446.45 460.41h0M471.56 440.71h0M401.58 451.75h0M445.18 459.2h0M452.79 354.33h0M375.04 407.73h0M459.3 457.1h0M486.67 423.67h0M436.43 463h0M477.85 442.33h0M389.6 367.34h0M383.88 380.63h0M428.51 462.9h0M440.53 348.24h0M394.98 361.19h0M438.12 458.13h0M375.79 417.45h0M433.6 463.3h0M482.43 411.6h0M378.43 415.55h0M426.79 461.61h0M395.54 361.92h0M462.69 363.89h0M477.82 378.04h0M484.49 412.81h0M460.63 452.86h0M467.58 358.8h0M488.92 399.39h0M431.19 457.8h0M417.84 460.24h0M383.8 427.48h0M389.07 366.69h0M462.68 361.74h0M453.48 459.5h0M414.85 454.9h0M378.72 425.11h0M428.01 347.94h0M409.05 351.88h0M453.26 355.15h0M461.21 355.65h0M476.45 367.61h0M402.71 455.38h0M442.3 349.84h0M381.96 375.95h0M451.3 458.75h0M373.79 403.11h0M486.02 424.09h0M413.36 458.03h0M379.67 381.77h0M413.29 350.84h0M475.43 368.66h0M397.81 447.29h0M379.46 380.13h0M440.36 348.6h0M490.04 409.09h0M443.23 462.09h0M478.3 373.83h0M376.8 413.37h0M490.69 408.64h0M489.24 408.25h0M489.45 402.74h0M485.67 384.16h0M398.81 449.53h0M398.78 449.35h0M391.7 370.34h0M475.97 367.54h0M382.47 429.79h0M483.19 426.65h0M442.56 462.02h0M489.82 397.62h0M405.62 450.57h0M486.23 421.56h0M396.51 445.53h0M485.63 426.12h0M417.02 354.43h0M452.78 456.3h0M375.37 393.75h0M383.3 375.51h0M456.61 455.71h0M487.67 422.93h0M431.08 347.76h0M456.66 359.57h0M394.65 370.45h0M484.16 431.43h0M404.28 355.23h0M452.98 455.73h0M444.49 462.4h0M424.52 352.79h0M433.42 463.19h0M486.75 410.61h0M411.32 457.94h0M422.92 461.31h0M378.22 392.18h0M436.9 347.58h0M403.22 450.91h0M440.2 456.68h0M487.61 387.75h0M394.76 448.94h0M382.44 426.22h0M481.78 434.26h0M378.87 407.98h0M460.62 357.11h0M483.43 432.88h0M379.5 421.79h0M386.46 368.42h0M412.26 351.82h0M435.07 463.42h0" stroke="#35aae0" stroke-width="1.15" stroke-linecap="round" stroke-opacity="0.95" fill="none"/>
<path d="M367.6 398.93Q432.25 405.65 368.65 392.22M368.11 416.19Q432.25 405.65 367.6 412.35M367.99 395.87Q432.25 405.65 370.82 384.39M370.16 424.88Q432.25 405.65 368.43 417.99M367.7 398.05Q432.25 405.65 368.78 391.65M367.93 396.26Q432.25 405.65 369.65 388.15M367.29 407.89Q432.25 405.65 368.15 394.85M373.64 433.76Q432.25 405.65 371.06 427.57M367.46 410.85Q432.25 405.65 367.53 399.66M367.39 409.87Q432.25 405.65 367.42 400.88M368.43 417.99Q432.25 405.65 367.26 406.87M367.58 412.21Q432.25 405.65 367.34 402.27M367.52 399.73Q432.25 405.65 368.73 391.86M367.27 407.3Q432.25 405.65 367.29 403.32M368.56 418.62Q432.25 405.65 367.34 409.11" fill="none" stroke="#5b2d91" stroke-width="0.75" stroke-opacity="0.9"/>
<path d="M367.28 407.72Q432.25 405.65 432.78 470.65M367.46 410.83Q432.25 405.65 424.03 470.13M381.09 445.75Q432.25 405.65 428.77 470.56M376.1 438.39Q432.25 405.65 424.56 470.19M367.95 415.13Q432.25 405.65 430.29 470.62" fill="none" stroke="#6a3fa6" stroke-width="0.65" stroke-opacity="0.9"/>
<path d="M380.53 445.01Q432.25 405.65 395.39 459.19M374.96 436.35Q432.25 405.65 390.47 455.44M370.82 426.91Q432.25 405.65 398.86 461.42M392.07 456.74Q432.25 405.65 413.94 468.02" fill="none" stroke="#4a3f9f" stroke-width="0.65" stroke-opacity="0.85"/>
<path d="M369.88 387.34Q432.25 405.65 486.82 440.96M470.79 457.99Q432.25 405.65 486.82 440.96" fill="none" stroke="#55399b" stroke-width="0.65" stroke-opacity="0.95"/>
<path d="M367.32 402.56Q432.25 405.65 367.97 395.99" fill="none" stroke="#2d9467" stroke-width="0.9" stroke-opacity="0.95"/>
<path d="M368.24 416.94Q432.25 405.65 367.45 410.8M411.97 467.4Q432.25 405.65 404.31 464.34" fill="none" stroke="#2e7f8f" stroke-width="0.7" stroke-opacity="0.9"/>
<path d="M433.49 340.36A65.3 65.3 0 0 1 487.52 440.43L483.2 437.71A60.2 60.2 0 0 0 433.4 345.46Z" fill="#edb6b1"/>
<path d="M487.52 440.43A65.3 65.3 0 0 1 486.62 441.82L482.37 439A60.2 60.2 0 0 0 483.2 437.71Z" fill="#8e1838"/>
<path d="M486.62 441.82A65.3 65.3 0 0 1 472.13 457.36L469.01 453.32A60.2 60.2 0 0 0 482.37 439Z" fill="#edb6b1"/>
<path d="M472.13 457.36A65.3 65.3 0 0 1 448.85 468.8L447.55 463.87A60.2 60.2 0 0 0 469.01 453.32Z" fill="#b5203f"/>
<path d="M443.59 469.96A65.3 65.3 0 0 1 412.86 468.01L414.38 463.14A60.2 60.2 0 0 0 442.7 464.94Z" fill="#b5203f"/>
<path d="M412.86 468.01A65.3 65.3 0 0 1 371.78 430.3L376.51 428.38A60.2 60.2 0 0 0 414.38 463.14Z" fill="#c4545a"/>
<path d="M371.78 430.3A65.3 65.3 0 0 1 370.28 385.08L375.12 386.68A60.2 60.2 0 0 0 376.51 428.38Z" fill="#b5203f"/>
<path d="M370.28 385.08A65.3 65.3 0 0 1 396.08 351.28L398.9 355.53A60.2 60.2 0 0 0 375.12 386.68Z" fill="#edb6b1"/>
<path d="M396.08 351.28A65.3 65.3 0 0 1 431.01 340.36L431.1 345.46A60.2 60.2 0 0 0 398.9 355.53Z" fill="#f8efee"/>
<text x="431.95" y="326.35" text-anchor="middle">0 Mb</text>
<text transform="translate(518.3 407.05) rotate(-90)" text-anchor="middle">50 Mb</text>
<text x="430.3" y="492.4" text-anchor="middle">100 Mb</text>
<text x="430.1" y="499.6" text-anchor="middle">3</text>
<text transform="translate(352.0 403.35) rotate(-90)" text-anchor="middle">150 Mb</text>
<g id="panelD">
<path d="M127.55 532.21A73.5 73.5 0 0 1 129.56 532.34L129.04 538.72A67.1 67.1 0 0 0 127.21 538.6Z" fill="#e3e5e9"/>
<path d="M132.86 532.69A73.5 73.5 0 0 1 140.43 534.05L138.96 540.28A67.1 67.1 0 0 0 132.05 539.03Z" fill="#111111"/>
<path d="M143.52 534.85A73.5 73.5 0 0 1 148.48 536.44L146.32 542.46A67.1 67.1 0 0 0 141.79 541.01Z" fill="#111111"/>
<path d="M153.53 538.47A73.5 73.5 0 0 1 156.21 539.73L153.37 545.47A67.1 67.1 0 0 0 150.93 544.32Z" fill="#c2c6cd"/>
<path d="M157.06 540.16A73.5 73.5 0 0 1 163.41 543.82L159.95 549.2A67.1 67.1 0 0 0 154.14 545.85Z" fill="#7f838b"/>
<path d="M165.58 545.27A73.5 73.5 0 0 1 171.29 549.68L167.14 554.55A67.1 67.1 0 0 0 161.92 550.52Z" fill="#7f838b"/>
<path d="M173.16 551.32A73.5 73.5 0 0 1 176.22 554.28L171.64 558.75A67.1 67.1 0 0 0 168.84 556.05Z" fill="#7f838b"/>
<path d="M177.44 555.57A73.5 73.5 0 0 1 180.18 558.68L175.25 562.77A67.1 67.1 0 0 0 172.76 559.93Z" fill="#7f838b"/>
<path d="M183.08 562.42A73.5 73.5 0 0 1 185.55 566.04L180.15 569.49A67.1 67.1 0 0 0 177.9 566.18Z" fill="#e0452f"/>
<path d="M188.69 571.47A73.5 73.5 0 0 1 191.32 577.03L185.42 579.52A67.1 67.1 0 0 0 183.03 574.44Z" fill="#c2c6cd"/>
<path d="M193.51 582.91A73.5 73.5 0 0 1 196.03 593.13L189.73 594.22A67.1 67.1 0 0 0 187.42 584.89Z" fill="#111111"/>
<path d="M196.37 595.24A73.5 73.5 0 0 1 196.77 598.65L190.4 599.25A67.1 67.1 0 0 0 190.03 596.14Z" fill="#7f838b"/>
<path d="M196.93 600.65A73.5 73.5 0 0 1 197.09 606.8L190.69 606.7A67.1 67.1 0 0 0 190.55 601.08Z" fill="#7f838b"/>
<path d="M196.66 613.65A73.5 73.5 0 0 1 196.56 614.48L190.21 613.7A67.1 67.1 0 0 0 190.3 612.95Z" fill="#c2c6cd"/>
<path d="M196.07 617.87A73.5 73.5 0 0 1 194.16 626.18L188.02 624.38A67.1 67.1 0 0 0 189.76 616.8Z" fill="#7f838b"/>
<path d="M193.16 629.34A73.5 73.5 0 0 1 191.62 633.44L185.7 631.01A67.1 67.1 0 0 0 187.1 627.27Z" fill="#7f838b"/>
<path d="M190.35 636.37A73.5 73.5 0 0 1 188.62 639.87L182.96 636.89A67.1 67.1 0 0 0 184.54 633.69Z" fill="#7f838b"/>
<path d="M187.43 642.05A73.5 73.5 0 0 1 186.71 643.28L181.21 640A67.1 67.1 0 0 0 181.87 638.88Z" fill="#e3e5e9"/>
<path d="M185.33 645.49A73.5 73.5 0 0 1 181.49 650.89L176.45 646.94A67.1 67.1 0 0 0 179.96 642.02Z" fill="#c2c6cd"/>
<path d="M177.74 655.31A73.5 73.5 0 0 1 173.74 659.34L169.37 654.66A67.1 67.1 0 0 0 173.03 650.98Z" fill="#7f838b"/>
<path d="M169.53 662.98A73.5 73.5 0 0 1 167.18 664.78L163.39 659.63A67.1 67.1 0 0 0 165.53 657.99Z" fill="#e3e5e9"/>
<path d="M158.84 670.1A73.5 73.5 0 0 1 154.61 672.24L151.91 666.44A67.1 67.1 0 0 0 155.77 664.49Z" fill="#7f838b"/>
<path d="M147.48 675.11A73.5 73.5 0 0 1 140.31 677.17L138.86 670.94A67.1 67.1 0 0 0 145.4 669.06Z" fill="#111111"/>
<path d="M135.32 678.16A73.5 73.5 0 0 1 130.51 678.77L129.9 672.4A67.1 67.1 0 0 0 134.3 671.84Z" fill="#c2c6cd"/>
<path d="M128.85 678.91A73.5 73.5 0 0 1 119.74 679L120.08 672.61A67.1 67.1 0 0 0 128.4 672.53Z" fill="#7f838b"/>
<path d="M117.62 678.86A73.5 73.5 0 0 1 115.97 678.7L116.63 672.34A67.1 67.1 0 0 0 118.14 672.48Z" fill="#e3e5e9"/>
<path d="M111.98 678.18A73.5 73.5 0 0 1 106.18 677.01L107.69 670.79A67.1 67.1 0 0 0 112.99 671.86Z" fill="#e0452f"/>
<path d="M101.5 675.7A73.5 73.5 0 0 1 101.05 675.56L103.02 669.46A67.1 67.1 0 0 0 103.43 669.6Z" fill="#7f838b"/>
<path d="M97.81 674.43A73.5 73.5 0 0 1 91.18 671.57L94.01 665.82A67.1 67.1 0 0 0 100.06 668.43Z" fill="#c2c6cd"/>
<path d="M90.55 671.25A73.5 73.5 0 0 1 86.59 669.1L89.82 663.57A67.1 67.1 0 0 0 93.43 665.53Z" fill="#c2c6cd"/>
<path d="M84.57 667.88A73.5 73.5 0 0 1 82.09 666.26L85.71 660.98A67.1 67.1 0 0 0 87.97 662.46Z" fill="#c2c6cd"/>
<path d="M78.83 663.9A73.5 73.5 0 0 1 74.82 660.58L79.07 655.79A67.1 67.1 0 0 0 82.73 658.82Z" fill="#111111"/>
<path d="M73.25 659.14A73.5 73.5 0 0 1 69.5 655.35L74.21 651.02A67.1 67.1 0 0 0 77.63 654.48Z" fill="#7f838b"/>
<path d="M67.7 653.32A73.5 73.5 0 0 1 63.08 647.31L68.35 643.68A67.1 67.1 0 0 0 72.56 649.16Z" fill="#111111"/>
<path d="M59.51 641.59A73.5 73.5 0 0 1 58.06 638.87L63.77 635.98A67.1 67.1 0 0 0 65.09 638.45Z" fill="#e3e5e9"/>
<path d="M55.78 633.93A73.5 73.5 0 0 1 53.98 629.17L60.04 627.12A67.1 67.1 0 0 0 61.68 631.46Z" fill="#7f838b"/>
<path d="M53.4 627.37A73.5 73.5 0 0 1 51.72 620.96L57.98 619.62A67.1 67.1 0 0 0 59.51 625.47Z" fill="#111111"/>
<path d="M51.37 619.21A73.5 73.5 0 0 1 50.75 615.36L57.09 614.51A67.1 67.1 0 0 0 57.66 618.03Z" fill="#c2c6cd"/>
<path d="M50.21 609.7A73.5 73.5 0 0 1 50.11 604.73L56.5 604.81A67.1 67.1 0 0 0 56.6 609.35Z" fill="#c2c6cd"/>
<path d="M50.4 598.94A73.5 73.5 0 0 1 50.89 594.83L57.22 595.77A67.1 67.1 0 0 0 56.78 599.52Z" fill="#7f838b"/>
<path d="M54.15 581.55A73.5 73.5 0 0 1 55.93 576.91L61.82 579.4A67.1 67.1 0 0 0 60.19 583.64Z" fill="#c2c6cd"/>
<path d="M56.6 575.39A73.5 73.5 0 0 1 57.81 572.82L63.54 575.68A67.1 67.1 0 0 0 62.43 578.02Z" fill="#e3e5e9"/>
<path d="M60.36 568.14A73.5 73.5 0 0 1 62.64 564.54L67.95 568.12A67.1 67.1 0 0 0 65.87 571.4Z" fill="#e0452f"/>
<path d="M66.88 558.85A73.5 73.5 0 0 1 73.1 552.19L77.5 556.84A67.1 67.1 0 0 0 71.82 562.92Z" fill="#111111"/>
<path d="M77.1 548.68A73.5 73.5 0 0 1 83.11 544.26L86.63 549.6A67.1 67.1 0 0 0 81.15 553.63Z" fill="#7f838b"/>
<path d="M87.86 541.37A73.5 73.5 0 0 1 93.79 538.42L96.39 544.27A67.1 67.1 0 0 0 90.97 546.97Z" fill="#7f838b"/>
<path d="M96.41 537.31A73.5 73.5 0 0 1 99.52 536.16L101.61 542.2A67.1 67.1 0 0 0 98.78 543.26Z" fill="#c2c6cd"/>
<path d="M102.45 535.21A73.5 73.5 0 0 1 108.41 533.69L109.73 539.95A67.1 67.1 0 0 0 104.29 541.34Z" fill="#111111"/>
<path d="M110.62 533.26A73.5 73.5 0 0 1 115.77 532.52L116.45 538.88A67.1 67.1 0 0 0 111.75 539.56Z" fill="#e3e5e9"/>
<circle cx="123.6" cy="605.6" r="75.25" fill="none" stroke="#1a1a1a" stroke-width=".9"/>
<path d="M124.24 532.1A73.5 73.5 0 0 1 163.28 667.47" fill="none" stroke="#1a1a1a" stroke-width="0.9"/>
<path d="M124.19 538.5A67.1 67.1 0 0 1 159.83 662.08" fill="none" stroke="#1a1a1a" stroke-width="0.9"/>
<path d="M161.1 668.81A73.5 73.5 0 0 1 52.42 587.29" fill="none" stroke="#1a1a1a" stroke-width="0.9"/>
<path d="M157.83 663.31A67.1 67.1 0 0 1 58.62 588.88" fill="none" stroke="#1a1a1a" stroke-width="0.9"/>
<path d="M53.1 584.82A73.5 73.5 0 0 1 121.68 532.13" fill="none" stroke="#1a1a1a" stroke-width="0.9"/>
<path d="M59.24 586.63A67.1 67.1 0 0 1 121.84 538.52" fill="none" stroke="#1a1a1a" stroke-width="0.9"/>
<path d="M124.19 538.5L124.24 532.1M159.83 662.08L163.28 667.47M124.26 530.35L124.28 527.75M136.32 531.43L136.57 529.95M148.05 534.43L148.53 533.01M159.14 539.27L159.85 537.95M169.32 545.83L170.23 544.64M178.31 553.94L180.2 552.15M185.89 563.38L187.13 562.54M191.85 573.92L193.21 573.28M196.05 585.27L197.5 584.87M198.37 597.15L199.86 596.99M198.76 609.25L201.36 609.38M197.2 621.26L198.67 621.57M193.74 632.86L195.14 633.41M188.46 643.76L189.75 644.52M181.5 653.66L182.65 654.62M173.04 662.33L174.75 664.29M157.83 663.31L161.1 668.81M58.62 588.88L52.42 587.29M161.99 670.32L163.32 672.56M151.12 675.64L151.66 677.03M139.53 679.14L139.85 680.61M127.53 680.75L127.61 682.25M115.43 680.4L115.26 681.9M103.53 678.13L102.84 680.63M92.16 673.97L91.54 675.33M81.61 668.04L80.77 669.29M72.14 660.5L71.11 661.59M64 651.54L62.81 652.45M57.4 641.38L55.11 642.62M52.52 630.3L51.1 630.8M49.48 618.58L48 618.84M48.36 606.53L46.86 606.55M49.18 594.45L47.7 594.23M59.24 586.63L53.1 584.82M121.84 538.52L121.68 532.13M51.42 584.32L48.93 583.59M55.77 573.02L54.42 572.37M61.87 562.56L60.64 561.71M69.57 553.22L68.49 552.18M78.67 545.24L77.78 544.03M88.93 538.81L87.74 536.5M100.09 534.12L99.62 532.69M111.86 531.27L111.63 529.79" stroke="#1a1a1a" stroke-width=".6" fill="none"/>
</g>
<path d="M124.17 540.8A64.8 64.8 0 0 1 158.59 660.14L155.62 655.51A59.3 59.3 0 0 0 124.12 546.3Z" fill="#f1f2f8"/>
<path d="M156.66 661.33A64.8 64.8 0 0 1 60.84 589.46L66.17 590.83A59.3 59.3 0 0 0 153.85 656.6Z" fill="#f1f2f8"/>
<path d="M162.25 646.03h0M169.78 574.65h0M174.64 582.63h0M179.25 589.28h0M166.3 573.67h0M153.71 557.82h0M158.03 650.81h0M175.88 620.5h0M146.18 556.1h0M140.48 551.34h0M161.98 649.03h0M163.95 565.6h0M145.09 553.61h0M180.59 596.15h0M147.93 553.57h0M179.75 616.92h0M179.15 595.38h0M176.63 588.91h0M150.8 557.27h0M180.82 611.47h0M158.8 559.99h0M173.67 634.48h0M134.03 550.5h0M170.03 579.48h0M131.73 548.22h0M172.5 637.53h0M166.68 569.59h0M155.26 651.85h0M175.87 630.92h0M179.76 612.11h0M175.51 617.79h0M179.47 594.41h0M166.76 640.81h0M172.72 578.34h0M161.67 561.31h0M176.32 587.08h0M180.35 617.62h0M139.55 552.45h0M174.46 627.72h0M181.83 609.28h0M151.28 557.51h0M172.05 576.03h0M179.64 607.77h0M149.89 554.7h0M162.06 647.38h0M171.13 634.31h0M128.38 548.72h0M176.39 626.63h0M179.52 613.36h0M166.67 642.59h0M168.64 571.48h0M177.99 622.04h0M165.22 566.62h0M179.48 602.7h0M129.35 547.51h0M157.19 649.46h0M173.42 634.34h0M177.21 583.41h0M132.54 548.4h0M156.75 651.99h0M181.65 604.53h0M162.28 646.69h0M171.58 630.85h0M150.67 557.7h0M179.47 619.35h0M157.99 649.41h0M174.74 630.69h0M178.63 618.07h0M135.08 552.28h0M129.19 549.39h0M154.82 652.26h0M181.01 615.66h0M176.05 588.82h0M169.99 631.69h0M172.73 579.86h0M177.92 602h0M125.3 549.2h0M172.65 637.09h0M144.7 551.99h0M176.11 625.69h0M177.96 595.34h0M179.12 612.35h0M140.58 551.44h0M176.15 628.23h0M180.43 608.71h0M129.66 549.17h0M178.24 623.98h0M173.34 634.83h0M177.51 624.08h0M162.73 643.64h0M179.39 613.79h0M127.29 552.59h0M144.38 554.24h0M159.99 648.26h0M169.98 579.49h0M177.2 600.09h0M177.12 624.1h0M166.26 643.24h0M177.61 586.93h0M161.4 561.86h0M164.79 644.09h0M178.61 593.29h0M157.12 650.71h0M165.55 567.4h0M178.38 596.21h0M180.95 602.9h0M140.92 550.5h0M164.43 644.38h0M171.19 632.65h0M163.21 642.3h0M129.39 549.79h0M179.14 595.74h0M125.9 552.12h0M166.37 642.15h0M161.73 562.78h0M174.34 633.61h0M169.89 638.08h0M156.18 649.55h0M167.56 639.46h0M180.26 616.58h0M174.12 577.53h0M176.72 621.09h0M179.48 600.47h0M166.48 642.45h0M124.68 548.1h0M178.15 617.68h0M178.96 590.9h0M166.04 566.82h0M177.88 600.18h0M179.58 596.79h0M178.33 587.86h0M179.21 609.48h0M175.17 630.66h0M172.39 576h0M179.47 601.35h0M136.95 550.9h0M134.8 551.24h0M173.32 633.12h0M179.88 619.79h0M169.04 639.52h0M178.81 624.63h0M130.38 551.79h0M154.34 557.44h0M179.01 604.21h0M172.83 634.09h0M174.74 632h0M177.83 627.01h0M126.35 551.1h0M157.43 559.31h0M135.53 549.86h0M179.64 593.51h0M142.57 551.77h0M164.34 565.57h0M179.91 603.02h0M177.72 590.39h0M180.29 603.59h0M171.38 575.86h0M124.45 548.6h0M141.5 554.23h0M168.79 568.98h0M179.93 617.77h0M179.56 619.52h0M170.95 574.81h0M178.92 619.18h0M178.29 599.34h0M156.51 558.42h0M173.23 633.97h0M169.44 571.72h0M177.28 616.85h0M178.86 622.19h0M126.32 552.99h0M167.48 571.8h0M142.41 550.62h0M170.01 573.83h0M154.71 558.08h0M165.78 638.28h0M171.07 635.06h0M154.51 557.83h0M141.49 551.77h0M162.95 563.61h0M138.34 551.68h0M157.8 651.52h0M179.86 616.18h0M161.94 648.5h0M179.34 594.89h0M176.79 585.63h0M176.41 589.22h0M155.96 558.5h0M178.44 623.43h0M176.96 613.98h0M175.91 583.47h0M180.68 605.08h0M165.06 568.07h0M180.5 603.81h0M143.42 552.33h0M167.72 641.15h0M180.51 611.8h0M162.5 562.78h0M166.97 642.36h0M179.47 622.62h0M126.82 549.91h0M177.34 591.03h0M178.24 587.93h0M168 643.45h0M178.84 622.04h0M164.28 568.36h0M178.02 597.35h0M168.4 641.26h0M168.27 636.38h0M151.61 561.27h0M178.46 589.92h0M162.02 648.41h0M179.02 594.16h0M164.5 643.09h0M126.07 550.54h0M158.47 563.53h0M178.9 614.89h0M161.27 563.26h0M179.13 596.32h0M176.41 624.24h0M127.04 549.53h0M164.51 644.38h0M175.12 625.56h0M153.29 557.22h0M127.42 552.56h0M168.68 639.36h0M174.65 624.39h0M164.31 568.16h0M180.2 596.27h0M181.41 613.25h0M177 586.56h0M176.69 623.13h0M163.03 566.42h0M172.11 575.86h0M177.19 620.61h0M179.26 606.13h0M178.22 620.16h0M179.41 616.7h0M145.75 552.77h0M126.07 548.08h0M128.67 549.29h0M162.79 642.35h0M179.86 610.84h0M128.74 548.19h0M159.39 564.25h0M175.29 622.14h0M178.74 595.51h0M178.87 594.72h0M171.05 634.63h0M163.86 645.45h0M124.47 550.42h0M177.37 624.65h0M175.08 585.48h0M180.12 595.96h0M157.14 559.91h0M126.42 548.29h0M180.01 593.74h0M175.24 628.79h0M147.08 552.74h0M178.09 600.86h0M173.16 632.42h0M174.77 632.91h0M163.85 643.36h0M142.66 552.1h0M162.36 565.95h0M179.13 596.5h0M150.66 556.35h0M126.52 550.14h0M174.8 617.52h0M176.81 588.69h0M174.32 583.05h0M175.25 585.16h0M133.62 548.91h0M173.41 576.07h0M178.68 611.56h0M167.79 569.24h0M179.03 593.39h0M124.65 548.31h0M166.44 637.93h0M151.69 556.25h0M126.82 548.72h0M158.23 560.18h0M174.83 627.28h0M169.04 637.46h0M173.11 636.57h0M151.38 554.93h0M131.28 548.93h0M124.52 550.97h0M171.99 577.71h0M162.15 568.57h0M178.27 621.66h0M124.73 547.21h0M168.42 574.36h0M158.09 648.38h0M177.95 606.06h0M153.79 558.04h0M176.71 583.67h0M157.2 561.13h0M160.08 650.11h0M180.69 599.92h0M177.72 619.72h0M173.17 577.05h0M141.43 554.81h0M155.39 650.78h0M139.8 550.58h0M175.43 593.15h0M158.47 560.08h0M174.54 628.13h0M176.09 591.9h0M162.81 647.43h0M168.99 574.17h0M167.7 570.15h0M181.35 604.53h0M142.01 554.62h0M177.73 593.79h0M170.17 572.57h0M143.93 552.09h0M161.95 563.26h0M181.21 604.31h0M177.44 595.24h0M139.68 553.7h0M144.39 552.17h0M124.23 549.72h0M168.98 570.03h0M162 567.27h0M178.39 597.46h0M164.44 640.34h0M171.34 573.88h0M178.66 596.27h0M180.75 601.28h0M168.68 568.48h0M145.88 553.83h0M169.76 634.35h0M167.31 641.99h0M150.1 554.9h0M170.94 637.04h0M168.98 640.79h0M155.66 650.16h0M180.31 606.16h0M169.57 638.72h0M165.88 638.74h0M176.09 622.13h0M175.99 588.03h0M167.65 571.44h0M149.34 554.56h0M134.92 550.01h0M124.68 547.41h0M168.17 642.2h0M157.29 649.99h0M134.02 550.64h0M172.4 634.6h0M139.73 553.74h0M174.39 633.29h0M146.95 556.28h0M175.73 626.89h0M181.09 601.3h0M180.63 605.45h0M140.79 553.56h0M132.92 549.35h0M180.74 594.5h0M167.18 568.49h0M150.85 554.07h0M177.97 594.51h0M181.95 603.15h0M161.04 644.4h0M162.86 564.72h0M177.38 583.15h0M179.82 611.46h0M127.32 547.32h0M169.08 641.02h0M180.69 597.38h0M166.09 568.72h0M134.91 553.05h0M145.8 555.36h0M176.55 622.28h0M173.08 630.07h0M165.28 573.55h0M175 583.67h0M180.06 611.08h0M172.24 575.76h0M167.1 639.41h0M150.87 554.89h0M166.33 569.58h0M178.27 611.77h0M178.2 589.8h0M176.43 610.45h0M177 581.96h0M178.86 619.34h0M176.92 593.43h0M179.28 591.9h0M130.38 555.48h0M167.18 569.57h0M175.69 579.2h0M172.45 621.27h0M180.09 620.01h0M179.12 589.03h0M178.94 614.67h0M178.92 619.67h0M152.84 560.03h0M176.26 583.97h0M165.21 645.17h0M148.97 553.7h0M156.73 653.69h0M163.27 645.62h0M177.57 589.3h0M161.16 563.33h0M178.11 624.12h0M167.16 640.51h0M176.66 584.85h0M160.24 560.13h0M136.99 548.8h0M170.84 637.69h0M155 557.96h0M171.59 634.62h0M125.01 549.26h0M178.62 606.07h0M177.59 619.49h0M138.35 550.14h0M180.87 613.89h0M139.45 550.23h0M157.53 558.07h0M178.39 608.55h0M181.86 605.82h0M174.7 578.08h0M175.79 590.36h0M149.83 555.92h0M179.8 596.6h0M138.27 550.57h0M174.48 633.82h0M139.85 551.95h0M175.94 583.11h0M165.82 639.54h0M132.62 549.32h0M177.44 592.61h0M179.26 604.62h0M164.22 645.42h0M175.35 630.65h0M173.86 631.4h0M175.69 629.12h0M177.03 626.39h0M178.16 587.83h0M125.22 550.48h0M172.17 636.89h0M161.58 565.32h0M155.68 653.31h0M141.98 552.18h0M134.33 549.84h0M181.32 605.28h0M177.58 587.74h0M127.18 553.03h0M149.53 554.27h0M166.53 566.96h0M179.13 594.67h0M142.7 551.06h0M173.39 577.46h0M124.78 547.21h0M174.85 582.25h0M180.23 619.03h0M180.51 602.03h0M138.84 552.22h0M175.45 580.01h0M154.01 652.05h0M162.8 646.52h0M174.23 633.33h0M166.41 639.71h0M153.74 557.04h0M140.71 552.11h0M133.57 550.12h0M154.78 556.22h0M157.68 651.59h0M152.65 650.17h0M177.45 626.88h0M140.9 551.32h0M179.21 610.92h0M180.57 609.19h0M146.12 555.45h0M179.09 621.4h0M175.75 593.93h0M169.97 636.8h0M180.37 607.1h0M160.9 649.92h0M152.63 558.45h0M169.41 640.67h0M146.13 551.8h0M175.22 629.4h0M156.1 561.66h0M174.1 579.46h0M142.55 551.52h0M126.57 551.51h0M169.38 636.21h0M177.44 599.14h0M155.51 652.23h0M159.82 650.51h0M165.31 565.71h0M179.11 587.77h0M136.18 551.05h0M175.66 628.64h0M178.26 624.21h0M156.87 648.32h0M180.21 601.68h0M179.94 606.5h0M135.1 550.08h0M158.97 561.55h0M152.64 554.93h0M143.85 551.92h0M180.07 599.71h0M176.67 600.59h0M124.54 548.47h0M147.46 555.01h0M168.68 636.26h0M140.56 550.5h0M155.56 561.09h0M181.48 598.05h0M148.98 559.01h0M147.72 552.41h0M157.37 649.19h0M130.21 547.98h0M163.62 563.06h0M136.18 551.11h0M168.56 639.46h0M159.53 563.52h0M168.38 572.03h0M179.59 600h0M168 570.11h0M178.28 586.94h0M178.44 591.22h0M171.12 638.28h0M175.23 580.29h0M176.95 621.95h0M151.44 554.99h0M177.53 623.57h0M179.42 601.21h0M170.39 635.14h0M135.63 550.35h0M148.8 555.24h0M179.12 594.38h0M164.65 566.5h0M171.24 635.41h0M145.66 555.34h0M178.82 619.21h0M172.75 637.02h0M180.49 611.63h0M174.6 581.71h0M161.02 562.44h0M131.85 547.79h0M167.66 568.64h0M175.6 580.73h0M154.92 654.16h0M174.28 631.69h0M142.91 552.49h0M158.47 561.2h0M134.54 551.95h0M133.5 549.04h0M179.23 616.26h0M157.44 651.07h0M174.55 610.99h0M159.06 651.62h0M168.77 639.78h0M177.59 625.78h0M180.26 595.62h0M177.08 590h0M151.81 559.21h0M180.64 607.51h0M172.06 578.85h0M180.26 607.46h0M157.93 651.91h0M170.82 638.83h0M176.61 586.4h0M166.06 567.19h0M153.79 649.84h0M179.28 600.06h0M130.43 548.12h0M175.09 619.33h0M169.38 571.25h0M133.78 550.66h0M172.37 578.17h0M160.16 561.76h0M129.08 548.6h0M178.8 594.45h0M165.08 645.85h0M140.47 549.69h0M171.09 579h0M140.65 552.07h0M169.39 571.08h0M156.41 564.7h0M169.5 571.76h0M174.03 578.66h0M138.72 550.28h0M162.46 562h0M179.38 615.35h0M159.57 561.16h0M159.6 564.67h0M180.69 605.11h0M179.08 590.88h0M145.12 552.99h0M166.86 643.88h0M131.2 551.49h0M155.38 558.42h0M130.62 550.13h0M175.37 625.99h0M156.35 561h0M174.51 624.74h0M160.52 562.36h0M178.89 597.45h0M160.39 649.64h0M159.21 561.64h0M180.41 596.24h0M167.58 640.87h0M126.34 547.91h0M170.29 632.88h0M178.13 611.47h0M173.26 631.79h0M144.07 555.57h0M159.87 563.74h0M149.19 555.78h0M179.25 593.58h0M177 621.14h0M164.15 645.2h0M165.58 644.14h0M178.45 620.49h0M172.64 633.17h0M141.86 553.72h0M178.25 617.43h0M130.55 549.53h0M179.89 606.12h0M156.67 652.01h0M178.66 615.22h0M161.68 646h0M136.15 554.52h0M158.82 650.52h0M180.59 606.87h0M162.28 563.08h0M179.02 615.13h0M179.46 621.58h0M179.47 611.17h0M145.44 557.48h0M167.35 573.05h0M173.9 582.18h0M176.52 627.54h0M176.65 585.47h0M175.15 628.56h0M167.08 636.36h0M173.48 583.03h0M134.84 549.48h0M155.34 560.69h0M176.18 580.9h0M176.88 623.54h0M134.52 548.87h0M126.7 548.73h0M168.21 640.01h0M178.34 619.48h0M162.37 563.79h0M181 606.9h0M139.59 555.61h0M170.09 579.86h0M163.42 644.61h0M161.94 564.05h0M175.51 578.85h0M175.92 602.71h0M173.82 584.94h0M174.2 632.49h0M173.11 634.46h0M165.42 643.94h0M137.47 551.06h0M133.37 548.3h0M169.98 633.86h0M151.61 559.19h0M158.93 652.1h0M165.36 571.07h0M177.75 625.81h0M178.88 591.42h0M175.57 623.13h0M175.99 626.11h0M162.56 569.27h0M161.7 647.8h0M136.19 550.72h0M134.93 550.89h0M176.77 624.23h0M150.44 557.02h0M180.78 604h0M124.33 548.76h0M125.99 552.72h0M132.9 552.49h0M172.76 574.89h0M173.36 583h0M152.54 554.87h0M172.81 577.55h0M141.3 550.55h0M171.43 575.01h0M155.68 559.73h0M161.19 641.4h0M180.4 603.21h0M170.13 635.83h0M180.53 607.69h0M170.08 637.08h0M145.86 554.06h0M143.95 554.95h0M176.2 607.95h0M173.54 635.08h0M168.61 573.81h0M156.5 652.52h0M156.87 651.78h0M163.93 638.97h0M157.32 651.16h0M147.36 555.15h0M137.67 553.89h0M125.22 549.22h0M162.19 568.01h0M142.77 551.13h0M167.94 574.19h0M180.45 607.89h0M174.15 582.24h0M167.03 641.97h0M159.56 563.17h0M171.07 636.67h0M174.35 628.17h0M179.5 594.87h0M140.07 551.24h0M177.02 607.95h0M169.77 638.76h0M179.12 587.48h0M140.36 551.78h0M177.52 595.32h0M145.46 553.72h0M128.18 547.83h0M180.19 615.32h0M180.36 598.6h0M170.34 638.36h0M175.28 611.11h0M156.58 652.28h0M175.63 588.12h0M177.79 623.02h0M163.44 644.57h0M159.95 564.35h0M168.01 569.06h0M135.94 552.05h0M170.61 640.24h0M181.95 603.86h0M138.8 552.95h0M148.87 554.27h0M128.46 549.14h0M164.27 645.51h0M130.77 548.31h0M158.12 558.49h0M175.93 583.61h0M175.25 624.98h0M156.21 652.38h0M177.8 600.46h0M176.42 615.54h0M175.84 626.74h0M180.87 600.76h0M162.15 643.45h0M175.28 629.3h0M178.25 621.88h0M138.71 550.85h0M180.68 602.31h0M167.43 640.5h0M174.82 628.44h0M161.37 647.2h0M159.44 561.91h0M168.64 642.78h0M159.93 561.21h0M179.99 615.96h0M151.79 558.94h0M177.12 620.72h0M143.2 552.98h0M153.95 557.05h0M156.79 560.55h0M180.82 605.24h0M156.99 649.98h0M147.11 552.14h0M167.51 569.43h0M170.24 574.28h0M158.62 560.97h0M154.4 557.88h0M161.45 561.13h0M180.92 611.1h0M174.73 581.92h0M155.74 563.57h0M154.32 557.06h0M170.88 636.6h0M164.36 564.48h0M146.86 553.23h0M174.52 581.15h0M179.23 616.71h0M180.15 613.54h0M179.48 597.38h0M161.97 567.25h0M155.19 560.49h0M177.68 585.02h0M145.84 554.93h0M149.77 554.74h0M177.75 621.67h0M179.9 590.07h0M167.15 573.96h0M180.21 619.78h0M180.1 596.68h0M171.06 638.59h0M152.21 556.69h0M162.32 648.56h0M137.95 551.88h0M171.26 574.18h0M163.96 645.47h0M178.62 590.87h0M172.61 632.88h0M145.44 552.09h0M130.97 549.07h0M180.15 611.62h0M169.43 569.47h0M136.75 549.83h0M179.41 618.41h0M166.92 568.68h0M169.58 581.11h0M178.16 610.7h0M178.1 619.41h0M161.4 643.85h0M160.55 648.63h0M172.89 580.71h0M166.84 567.24h0M168.58 575.87h0M125.8 551.09h0M177.03 594.26h0M155.98 653.04h0M165.74 643.32h0M180.11 614.69h0M150.56 554.44h0M176.1 614.39h0M157.24 560.12h0M131.64 550.77h0M177.07 626.06h0M155.69 653.84h0M180.68 597.93h0M176.42 580.69h0M179.25 591.46h0M173.42 634.2h0M176.28 600.03h0M169.16 638.63h0M161.63 563.67h0M159.32 561.76h0M165.95 643.7h0M169.34 571.67h0M162.48 647.76h0M156.83 652.19h0M176.77 584.79h0M134.57 550.85h0M165.56 566.53h0M124.11 549.68h0M163.7 565.38h0M159.1 562.3h0M160.52 564.04h0M156.74 564.6h0M152.73 557.1h0M131.23 550.53h0M168 572.37h0M169.06 569.65h0M155.01 559.35h0M177.31 626.02h0M144.27 554.04h0M160.76 646.3h0M165.5 644.39h0M179.26 620.84h0M178.38 604.23h0M155.6 650.94h0M167.93 573.5h0M175.38 579.14h0M145.13 551.53h0M179.31 615.53h0M143.7 554.76h0M169.28 640.95h0M152.12 556.57h0M159.29 648.9h0M156.96 644.42h0M178.71 614.21h0M167.09 643.74h0M174.43 579.56h0M161.47 562.6h0M177.36 593.82h0M158.64 646.9h0M166.62 642.08h0M178.23 588.53h0M146.92 552.79h0M176.57 585.42h0M179.55 615.94h0M179.61 617.31h0M159.13 650.94h0M179.52 616.45h0M171.98 579.63h0M165.17 642.33h0M144.74 554.94h0M162.99 564.66h0M158.18 561.72h0M125.03 550.88h0M178.87 592.94h0M149.06 554.71h0M175.92 585.54h0M171.1 573.3h0M160.84 563.28h0M178.47 588.54h0M179.96 607.47h0M131.81 548.79h0M159.77 648.45h0M177.22 600.04h0M152.19 555.52h0M143.04 551.18h0M140.11 550.34h0M146.05 556.21h0M167.73 641.56h0M170.12 633.61h0M125.02 548.87h0M181.49 597.86h0M178.34 585.25h0M179.18 604.14h0M162.1 646.93h0M171.91 580.01h0M140.19 553.15h0M137.11 550.2h0M163.72 639.81h0M167.9 569.76h0M180.46 606.64h0M170.68 572.76h0M159.48 648.93h0M143.8 552.12h0M179.23 610.14h0M175.73 585.3h0M177.12 600.35h0M174.97 585.12h0M126.21 549.88h0M157.62 650.53h0M175.22 625.85h0M178.81 610.05h0M179.85 608.92h0M180.46 595.65h0M180.33 614.24h0M130.31 549.51h0M168.31 574.03h0M174.05 586.85h0M173.1 580.02h0M145.79 554.25h0M166.62 640.1h0M176.76 625.49h0M178.07 591.38h0M180.39 613.96h0M181.22 602.35h0M137.6 551.36h0M179.26 623.29h0M157.94 564.37h0M168.78 571.54h0M149.63 554.62h0M179.86 596.85h0M170.42 638.74h0M165.3 644.35h0M178.75 598.83h0M160.47 650.11h0M177.12 620.52h0M163.91 646.14h0M140.23 551.25h0M179.85 596.75h0M147.96 554.47h0M177.08 591.57h0M176.17 592.96h0M161.91 643.91h0M144.57 554.1h0M141.13 558.48h0M170.59 574.58h0M136.9 550.93h0M178.45 606.69h0M153.7 651.1h0M169.51 570.56h0M177.64 626.58h0M166.58 642.84h0M133.61 550.21h0M170.38 570.65h0M168.14 569.96h0M151.77 556.4h0M176.14 603.47h0M177.62 601.94h0M150.89 555.62h0M178.61 615.08h0M176.2 602.89h0M156.84 651.76h0M142.91 554.51h0M129.7 548.85h0M154.47 557.65h0M173.12 575.66h0M147.49 553.54h0M151.23 555.25h0M162.04 565.85h0M172.64 633.06h0M176.31 589.57h0M150.54 554.46h0M170.62 636.76h0M128.07 550.04h0M163.68 566.47h0M165.64 571.28h0M130.82 549.68h0M163.11 647.64h0M176.91 582.57h0M175.24 587.58h0M155.73 652.64h0M177.42 586.51h0M153.93 651.63h0M161.14 568.52h0M163.59 645.18h0M145.83 553.63h0M180.79 602.25h0M154.66 651.58h0M180.76 604.68h0M162.76 564.32h0M178.61 620.82h0M168.81 570.97h0M177.1 629.02h0M178.83 592.71h0M175.76 591.22h0M146.21 552.19h0M177.74 587.95h0M142.21 553.84h0M175.44 584.21h0M125.91 548.73h0M167.41 571.82h0M177 626.33h0M167.58 640.98h0M178.8 586.58h0M177.46 625.76h0M175.65 579.12h0M153.29 556.16h0M161.58 646.67h0M174.59 597.49h0M172.38 575.92h0M128.86 550.36h0M177.3 623.98h0M140.54 550.51h0M136.73 550.89h0M173.36 623.98h0M135.69 549.49h0M172.45 580.19h0M135.66 549.58h0M176.44 628.47h0M180.02 604.51h0M179.26 617.04h0M159.03 651.77h0M179.77 610.12h0M177.72 619.15h0M158.37 650.9h0M163.06 641.95h0M176.21 624.83h0M179.81 596.84h0M174.68 626.58h0M180.57 603.46h0M147.26 552.99h0M179.36 595.37h0M162.31 643.81h0M163.42 641.66h0M157.41 651.73h0M174.23 632.51h0M178.09 620.79h0M179.72 610.03h0M177.6 612.49h0M168.64 641.06h0M139.19 551.9h0M126.4 549.35h0M156.38 561.38h0M180.6 608.5h0M128.05 548.82h0M172.66 634.4h0M159.56 651.29h0M176.9 585.47h0M148.08 554.07h0M174.69 626.81h0M180.52 601.58h0M178.97 616h0M178 597.43h0M177.55 587.21h0M170.53 638.05h0M177.79 585.74h0M161.2 563.62h0M139.97 553.41h0M163.05 648.66h0M141.12 552.58h0M156.5 563.23h0M167.4 567.83h0M179.52 619.12h0M176.84 611.1h0M179.14 623.64h0M174.32 632.58h0M181.45 609.79h0M180.74 602.01h0M180.24 611.37h0M126.5 548.72h0M153.19 556.25h0M128.83 549.29h0M171.71 637.12h0M181.91 602.88h0M181 595.37h0M163.55 564.09h0M173.46 578.85h0M177.47 621.12h0M157.39 560.83h0M150.03 557.13h0M155.23 645.13h0M180.46 603.02h0M158.79 650.26h0M175.29 625h0M179.26 623.29h0M163.83 645.01h0M138.79 551.38h0M144.22 552.47h0M176.55 584.85h0M164.49 566.22h0M149.17 556.33h0M164.03 569.8h0M169.18 571.07h0M169.63 638.47h0M179.24 617.05h0M179.74 603.88h0M164.52 565.1h0M177.79 589.88h0M178.19 611.63h0M172.05 629.08h0M164.44 564.91h0M153.57 648.95h0M170.88 637.59h0M155.8 653.54h0M131.61 550.32h0M127.49 550.42h0M167.33 641.27h0M173.16 577.36h0M179.4 594.04h0M178.63 615.89h0M138.44 549.21h0M144.37 551.85h0M179.59 610.99h0M142.3 552.15h0M179.39 612.73h0M157.86 651.41h0M151.59 556.09h0M176.4 622.13h0M169.67 631.27h0M130.29 549.21h0M159.1 647.78h0M155.99 650.21h0M164.13 564.63h0M159.78 648.17h0M145.96 553.9h0M178.64 591.65h0M175.6 625.73h0M145.46 553.99h0M174.98 629.87h0M166.79 572.1h0M127.89 548.27h0M177.07 627.75h0M149.27 554.45h0M180.47 609.25h0M177.1 587.79h0M178.02 586.96h0M161.43 648.31h0M148.98 554.2h0M178.98 603.21h0M144.52 552.62h0M165.03 566.22h0M132.44 550.23h0M175.03 588.55h0M175.84 617.4h0M179.59 596.41h0M164.02 568.28h0M159.86 560.23h0M177.76 619.15h0M134.95 550.72h0M169.63 636.5h0M162.19 647.11h0M173.34 632.79h0M179.69 611.39h0M162.47 643.78h0M141.26 554.84h0M180.7 595.84h0M179.96 608.99h0M177 588.36h0M180.6 609.2h0M155.46 557.76h0M169.54 637.58h0M165.43 643.55h0M171.95 629.07h0M161.69 644.17h0M175.87 613.99h0M176.63 629.2h0M178.57 615.87h0M162.08 646.01h0M137.52 550.76h0M149.51 554.63h0M158.25 560.02h0M179.61 602.92h0M162.35 649.26h0M169.92 632.31h0M181.16 597.15h0M75.48 637.27h0M132.67 660.68h0M135.84 660.34h0M117.91 662.41h0M145.47 658.6h0M133.25 659.86h0M67.1 592.82h0M139.55 656.92h0M91.67 653.52h0M68.85 621.54h0M145.73 657.32h0M148.47 658.17h0M115.63 663.45h0M90.11 651.49h0M73.68 634.46h0M151.9 653.49h0M114.1 661.14h0M67.72 607.03h0M118.78 662.62h0M68.14 606.84h0M79.91 639.66h0M114.56 658.78h0M71.58 626.86h0M103.57 658.94h0M130.52 658.8h0M69.92 593.67h0M66.9 603.07h0M85.99 646.1h0M66.92 606.6h0M119.23 661.88h0M151.89 654.03h0M107.63 660.67h0M139.45 659.46h0M117.36 661.65h0M109.07 661.91h0M111.22 660.52h0M70.23 617.6h0M148.16 657.35h0M134.44 661.74h0M116.65 660.29h0M66.24 602.22h0M118.91 659.39h0M142.1 659.66h0M73.56 624.84h0M114.5 662.38h0M150.79 654.92h0M68.47 592.97h0M104.77 659.08h0M83.27 646.35h0M116.77 662.59h0M67.28 611.46h0M97.22 653.78h0M83.15 641.93h0M132.25 661.42h0M98.3 655.58h0M89.8 650.7h0M133.33 660.81h0M112.9 663.01h0M124.33 660.84h0M100.02 655.85h0M119.63 662.17h0M108.55 660.82h0M78.17 637.41h0M75.41 636.63h0M67.71 617.12h0M80.91 639.86h0M67.74 597.88h0M130.4 659.46h0M67.23 614.18h0M105.23 659.74h0M106.09 657.96h0M92.96 653.88h0M68.52 619.79h0M112.73 660.85h0M132 660.66h0M67.62 593.48h0M68.68 592.65h0M66.95 608.96h0M77.45 633.98h0M150.31 655.75h0M133.03 662.29h0M128.41 663.04h0M81.54 643.27h0M86.29 648.28h0M89.15 652.31h0M71.38 626.98h0M149.61 657.41h0M72.24 630.8h0M69.26 595h0M72.47 623.13h0M68.4 596h0M141.21 659.78h0M113.51 663.12h0M137.83 659.13h0M111.4 661.35h0M70.12 625.69h0M81.25 644.36h0M72.17 624.48h0M114.8 662h0M111.59 661.09h0M79.41 643.11h0M97.84 657.35h0M66.71 609.9h0M94.99 654.94h0M65.84 606.64h0M91.34 651.88h0M126.58 662.07h0M78.49 641.41h0M86.79 649.92h0M128.22 661.15h0M113.67 659.89h0M129.92 662.25h0M150.25 655.7h0M93.42 654.82h0M143.66 656.3h0M111.49 660.39h0M69.44 618.38h0M72.17 630.38h0M135.18 660.25h0M123.05 661.87h0M66.1 604.66h0M139.4 661.82h0M86.22 645.58h0M147.82 657.52h0M138.87 661.45h0M120.86 661.07h0M119.21 662.27h0M120.67 662.74h0M91 651.59h0M92.5 652.51h0M68.7 619.82h0M71.84 628.67h0M131.92 661.74h0M68.72 613.83h0M78.29 640.23h0M143.66 658.68h0M126.41 662.62h0M123.12 660.12h0M69.3 608.59h0M106.82 660.34h0M108.43 660.61h0M69.09 623.38h0M136.37 661.73h0M107.81 660.06h0M142.9 660.2h0M102.42 658.09h0M95.54 654.29h0M128.44 663.8h0M139.52 659.79h0M69.19 612.02h0M150.51 655.97h0M111.41 658.68h0M103.97 657.06h0M116.39 661.68h0M141.06 658.33h0M80.8 645.03h0M112.46 662.93h0M67.11 610.26h0M137.89 660.11h0M69.98 611.91h0M106.92 657.52h0M152.16 655.99h0M113.83 657.31h0M85.49 648.46h0M68.37 594.44h0M69.55 624.23h0M112.17 660.25h0M145.39 658.14h0M113.59 660.3h0M69.28 593.61h0M70.79 626.04h0M139.23 659.34h0M68.57 607.1h0M81.91 645.25h0M69.31 609.52h0M68.72 607.55h0M111.49 661.1h0M88.12 650.24h0M123.24 661h0M127.05 660.54h0M134.86 656.37h0M146.6 658.07h0M149.38 656.36h0M89.38 647.4h0M139.32 659.57h0M134.81 661.43h0M112.06 661.57h0M137.42 658.4h0M120.97 660.46h0M73.22 630.93h0M132.28 661.45h0M92.35 654.94h0M124.57 661.33h0M136.75 654.2h0M75.7 636h0M110.07 661.55h0M118.32 663.37h0M118.28 661.78h0M117.05 661.51h0M108.83 658.94h0M139.29 660.47h0M150.43 655.99h0M106.69 660.62h0M69.16 609.49h0M67.76 607.99h0M93.23 653.25h0M103.67 657.25h0M122.35 662.85h0M67.06 599.55h0M150.37 656.74h0M138 660.09h0M105.06 658.06h0M88.31 650.16h0M124.32 663.24h0M128.21 662.8h0M67.45 597.35h0M79.87 638.18h0M95.11 655.69h0M75.39 637.1h0M68.56 599.78h0M139.11 659.49h0M71.6 629.59h0M67.95 600.84h0M78.33 636.47h0M130.87 660.49h0M106.12 656.36h0M67.2 601.43h0M123.77 661.64h0M67.21 602.34h0M67.05 615.66h0M85.87 648.55h0M146.2 658.36h0M69.8 614.97h0M106.94 659.06h0M152.49 654.38h0M66.79 612.36h0M98.87 656.67h0M85.81 648.28h0M131.11 660.29h0M136.8 659.75h0M139 661.27h0M129.26 662.46h0M114.24 660.98h0M66.33 602.47h0M74.26 628.74h0M93.2 651.53h0M133.5 661.21h0M133.55 662.38h0M97.18 654.93h0M109.84 660.72h0M87.51 650.55h0M127.25 662.23h0M65.68 612.47h0M111.83 659.81h0M146.3 654.21h0M123.17 661.76h0M108.63 660.75h0M146.49 658.53h0M139.14 659.87h0M119.68 661.28h0M139.76 659.82h0M110.53 659.58h0M102.2 658.06h0M143.61 658.69h0M123.41 662.2h0M66.94 603.3h0M138.68 660.1h0M124.21 661.11h0M80.79 641.09h0M150.57 656.73h0M79.17 641.71h0M78.45 640.4h0M67.75 592.63h0M139.38 661.49h0M123.92 662.87h0M124.2 663.28h0M136.85 659.74h0M75.98 638.04h0M122.18 661.79h0M108.95 660.59h0M81.63 644.24h0M123.04 661.84h0M67.88 597.57h0M71.72 628.43h0M90.4 653.04h0M67.18 602.78h0M70.6 630.14h0M67.96 613.21h0M94.79 656.4h0M69.11 592.99h0M101.63 657.13h0M69.58 622.03h0M150.76 656.4h0M115.3 660.17h0M68.85 605.37h0M150.29 654.74h0M72.05 630.64h0M66.34 609.92h0M123.64 662.6h0M117.6 659.87h0M123.97 660.25h0M149.42 656.62h0M141.15 657.27h0M132.84 660.36h0M89.39 650.76h0M110.52 661.75h0M136.77 662.01h0M69.56 623.9h0M96.13 654.99h0M76.21 636.5h0M113.17 660.39h0M116.88 660.01h0M133.48 662.65h0M137.05 661.41h0M139.54 659.55h0M146.17 658.43h0M132.64 662.53h0M101.99 657.48h0M74.99 630.56h0M130.98 662.83h0M98.25 655.4h0M127.47 659.2h0M131.59 661.91h0M146.95 656.34h0M112.97 661.45h0M152.11 655.25h0M118.6 662.62h0M143.94 658.63h0M129.13 662.46h0M124.31 662.93h0M70.66 610.43h0M95.97 655.35h0M95.88 655.59h0M137.46 660.33h0M139.31 661.11h0M66.49 615h0M145.93 658h0M131.76 661.82h0M121.48 662.05h0M132.67 662.67h0M132.13 662.55h0M121.33 661.97h0M122.54 663.19h0M122.42 662.72h0M69.34 614.6h0M65.98 606.98h0M144.96 658.55h0M103.02 656.99h0M143.98 658.7h0M66.64 618.5h0M72.68 631.76h0M72.99 629.1h0M76.04 636.79h0M69.95 592.63h0M123.44 663.19h0M116.97 661.67h0M152.31 654.47h0M145.05 657.9h0M143.35 656.57h0M140.01 660.53h0M148.45 657.29h0M131.02 661.75h0M128.69 663.78h0M126.39 660.37h0M139.27 659.83h0M67.04 600.71h0M66.06 608.38h0M76.41 635.1h0M119.39 663.85h0M104.7 660.06h0M122.34 663.64h0M70.47 626.34h0M69.48 607.26h0M71.35 626.51h0M125.32 661.95h0M121.6 661.6h0M71.65 627.18h0M112.49 659.8h0M131.66 662.48h0M148.49 655.66h0M132.05 662.65h0M118.76 662.86h0M142.31 659.6h0M82.05 642.44h0M104.15 659.83h0M107.2 658.94h0M121.33 662.55h0M67.49 617.28h0M131.37 662.15h0M123.81 659.95h0M134.01 661.3h0M66.48 611.18h0M73.73 632.45h0M90.39 649.66h0M113.25 661.08h0M107.72 659.87h0M104.55 659.8h0M135.55 660.1h0M68.19 622.85h0M119.31 662.21h0M66.24 607.41h0M130.94 661.81h0M107.98 660.77h0M137.94 662.21h0M138.9 660.19h0M69.84 620.82h0M66.82 604.15h0M98.78 657.15h0M120.17 662.42h0M79.65 640.6h0M143.85 657.96h0M69.6 627.42h0M139 661.93h0M114.84 662.03h0M120.52 659.84h0M97.93 654.07h0M148.39 654.67h0M69.52 611.67h0M77.21 638.46h0M71.08 627.81h0M72.54 632.15h0M66.76 607.32h0M121.82 661.12h0M105.18 658.01h0M95.79 653.9h0M117.14 661.9h0M74.12 635.25h0M124.71 663.82h0M92.95 650.94h0M95.85 654.89h0M74.38 631.74h0M147.81 650.42h0M106.39 660.77h0M149.46 657.92h0M144.35 655.31h0M104.47 657.93h0M66.96 613.03h0M147.1 656.68h0M123.66 661.74h0M73.93 635.03h0M121.07 657.52h0M127.6 659.33h0M68.88 619.96h0M129.64 661.68h0M66.3 608.15h0M138.17 661.85h0M114.35 660.5h0M75.56 630.96h0M134.08 659.76h0M66.8 602.62h0M67.23 614.78h0M142.94 658.43h0M83.8 646.59h0M138.85 658.65h0M120.09 662.86h0M98.62 656.94h0M72.1 627.57h0M67.28 591.76h0M148.56 654.84h0M148.44 656.51h0M72.07 626.5h0M133.78 662.51h0M65.21 604.4h0M69.64 597.15h0M142.53 659.49h0M148.94 654.95h0M106.5 659.89h0M68.29 594.34h0M118.92 663.81h0M94.03 652.81h0M68.45 610.83h0M73.84 632.17h0M109.56 658.75h0M81.98 645.33h0M146.07 654.14h0M123.66 662.76h0M103.67 660.49h0M101.11 657.47h0M107.18 659.69h0M140.68 658.91h0M86.16 645.43h0M87.94 648.14h0M137.57 659.61h0M106.07 660.86h0M68.74 620.52h0M82.56 644.5h0M68.93 619.9h0M144.77 657.43h0M91.11 651h0M65.98 606.42h0M89.05 650.4h0M134.94 660.32h0M145.68 656.72h0M77.44 634.74h0M79.43 638.75h0M99.73 654.02h0M98 654.53h0M123.91 662.93h0M69.05 617.42h0M146.8 655.3h0M72.94 631.23h0M128.35 661.59h0M88.62 650.47h0M146.42 657.09h0M148.26 656.46h0M67.06 613.15h0M131.68 661.97h0M151.65 653.35h0M81.4 641.91h0M68.31 594.11h0M127.86 659.77h0M78.36 636.63h0M83.08 643.89h0M131.4 660.6h0M113.53 661.97h0M137.2 659.75h0M140.03 661.64h0M67.61 604.96h0M132.18 660.7h0M148.67 657.49h0M104.6 659.37h0M117.21 661.37h0M107.11 661.52h0M72.84 632.8h0M110.97 661.06h0M134.78 661.4h0M148.44 656.05h0M79.32 640.39h0M67.28 596.1h0M68.11 617.18h0M67.99 593.94h0M133.53 659.13h0M67.82 618.39h0M124.62 662.77h0M75.09 632.75h0M95.12 655.29h0M78.35 641.45h0M71.95 626.22h0M69.96 608.47h0M117.61 659.2h0M72.59 630.02h0M66.36 611.93h0M126.14 662.54h0M107.72 660.97h0M136.32 662.6h0M79.12 641.1h0M68.19 596.62h0M104.75 659.33h0M95.22 655.18h0M109.54 661.36h0M148.11 654.53h0M84.65 648.51h0M138.96 660.24h0M67.95 618.63h0M73.82 634.11h0M134.73 661.84h0M73.62 630.69h0M131.07 661.51h0M100.33 655.68h0M67.22 610.13h0M82.12 644.27h0M108.05 660.93h0M97.37 656.45h0M107.7 656.77h0M70.31 621.54h0M100.55 656.37h0M99.26 658.69h0M100.27 654.85h0M80.5 637.57h0M132.24 662.7h0M108.95 660.16h0M94.08 655.3h0M147.81 657.22h0M91.15 652.17h0M151.38 654.12h0M150.7 652.3h0M115.58 661.85h0M143.38 657.77h0M118.61 663.79h0M138.55 658.96h0M103.71 657.81h0M125.49 662.85h0M117.64 657.68h0M65.35 609.83h0M114.95 659.77h0M148.65 655.15h0M124.03 662.86h0M120.18 662.07h0M107.37 659.21h0M70.36 626h0M126.42 662.53h0M67.83 618.49h0M112.42 660.9h0M71.13 620.85h0M116.74 660.45h0M132.78 660.17h0M127.71 659.27h0M147.64 657.04h0M69.99 623.68h0M83.48 644.71h0M114.53 659.41h0M116.67 662.86h0M109.71 662.33h0M66.78 592.09h0M101.11 659.07h0M90.1 649.1h0M78.08 638.12h0M114.45 663.14h0M121.16 663.58h0M114.7 662.33h0M115.4 661.27h0M67.33 603.7h0M125.56 663.69h0M119.15 663.83h0M122.58 662.23h0M121.87 663.32h0M123.62 660.48h0M120.69 663.2h0M136.06 662.66h0M77.94 638.99h0M117.99 662.1h0M120.08 662.11h0M138.44 657.57h0M152.44 655.43h0M129.64 662.85h0M112.22 661.36h0M97.53 655.9h0M101.01 656.75h0M102.81 658.91h0M140.28 660.32h0M122.09 662.31h0M104.71 658.66h0M121.15 661.69h0M133.09 661.21h0M66.74 611.39h0M109.61 661.25h0M77.04 632.74h0M118.81 661.16h0M147.8 656.87h0M142.35 660.38h0M107.62 661.77h0M73.58 635.01h0M108.78 657.22h0M85.57 646.61h0M110.65 661.16h0M113.09 661.31h0M125.45 660.74h0M66.59 596.41h0M108.21 660.6h0M128.68 663.18h0M112.61 658.96h0M69.74 598.13h0M120.4 663.38h0M147.14 655h0M126.6 662.82h0M139.74 661.02h0M144.5 660.08h0M71.78 616.36h0M99.96 654.26h0M140.33 659.54h0M121.78 660.97h0M96.39 653.96h0M71.2 629.67h0M68.77 594.45h0M79.28 636.83h0M125.9 663.52h0M101.97 657.7h0M149.26 654.15h0M118.45 661.58h0M67.32 613.57h0M71.99 628.85h0M72.35 628.12h0M141.42 659.07h0M67.02 592.61h0M74.15 635.02h0M105.6 659.5h0M107.39 659.27h0M78.86 641.06h0M84.84 644.76h0M76.69 637.56h0M108.55 660.95h0M67.63 614.54h0M106.68 659.61h0M70.72 623.55h0M137.81 661h0M145.12 659.79h0M115.61 661.74h0M114.56 661.9h0M115.93 660.82h0M68.43 619.09h0M68.21 619.98h0M111.74 660.03h0M116.17 662.12h0M70.9 594.14h0M109.84 660.3h0M113.8 661.18h0M67.8 611.47h0M110.43 660.26h0M75.56 634.63h0M69.46 594.44h0M67.48 601.94h0M71.39 628.75h0M69.1 606.14h0M111.18 662.55h0M107.99 658.01h0M82.23 644.15h0M136.03 661.49h0M90.19 649.06h0M84.19 647.11h0M79.31 641.65h0M123.11 663.59h0M135.38 657.23h0M117.65 661.43h0M69.23 620.64h0M148.69 657.35h0M134.11 659.65h0M147.91 655.49h0M144.2 658.58h0M151.63 653.07h0M142.78 658.73h0M67.76 615.84h0M141.46 661.05h0M131.43 662.33h0M70.4 626.86h0M130.41 662.46h0M149.29 652.49h0M129.86 656.99h0M75.04 634.7h0M75.17 573.8h0M91.93 564.11h0M86.87 563.14h0M72.82 581.39h0M85.26 566.51h0M90.17 560.09h0M73.73 588.79h0M74.89 578.16h0M71.38 586.68h0M79.45 574.62h0M93.4 555.61h0M102.64 555.21h0M87.62 560.75h0M76.79 574.04h0M78.95 573.54h0M92.95 559.21h0M88.68 561.84h0M84.02 564.07h0M72.52 583.05h0M116.55 550.23h0M71.87 583.91h0M104.73 554.19h0M99.39 556h0M99.17 554.08h0M86.98 571.35h0M121.74 550.51h0M69.61 586.9h0M69.34 588.89h0M99.95 554.98h0M112.24 552.75h0M116.09 548.14h0M112.44 553.18h0M70.32 581.92h0M71 581.93h0M79.34 578.38h0M72.09 585.77h0M101.75 555.92h0M109.69 548.96h0M113.75 552.95h0M80.6 573.65h0M77.52 571.44h0M89.24 559.52h0M111.61 553.19h0M98.27 554.56h0M75.92 576.44h0M97.28 557.38h0M110.43 554.33h0M104.59 554.87h0M119.67 550.06h0M121.52 549.74h0M86.5 563.55h0M90.06 560.4h0M111.52 551.34h0M76.87 585.55h0M78.71 575.02h0M109.14 551.76h0M111.95 552.64h0M71.2 581.22h0M110.81 549.49h0M78.26 569.69h0M77.47 576.33h0M100.5 555.17h0M95.55 557.8h0M119.87 550.31h0M80.59 571.61h0M94.51 555.94h0M104.05 552.45h0M73.57 582.58h0M78.36 580.06h0M74.05 581.56h0M75 581.57h0M112.19 552.33h0M80.69 572.96h0M107.89 549.81h0M121.27 549.67h0M70.23 588.47h0M111.48 548.5h0M97.65 554.63h0M105.32 553.76h0M76.61 580.57h0M94.19 560.07h0M87.49 562.74h0M70.47 586.16h0M94.68 556.17h0M77.3 574.68h0M85.62 569.24h0M69.87 586.56h0M84.05 567.68h0M121.22 549.64h0M117.18 547.69h0M103.3 552.1h0M84.19 564.27h0M85.21 564.6h0M106.15 550.51h0M103.24 555.06h0M95.01 556.64h0M114.39 552.76h0M78.16 569.28h0M93.96 559.95h0M100.52 558.84h0M84.88 568.6h0M95.35 556.66h0M80.71 572.67h0M71.47 587.75h0M79.58 570.23h0M118.29 554.26h0M103.97 552.52h0M113.27 552.86h0M101.83 554.42h0M98.78 556.79h0M95.71 555.63h0M69.67 583.2h0M76.04 576.62h0M94.39 558.82h0M91.81 556.89h0M96.82 558.42h0M75.91 582.32h0M120.82 549.75h0M89.28 563.74h0M104.29 552.5h0M98.46 556.01h0M108.99 552.6h0M71.2 584.53h0M94.49 556.24h0M115.56 553.35h0M82.35 566.4h0M88.03 563.67h0M119.82 550.1h0M78.9 571.36h0M77.97 578.55h0M112.99 553.82h0M79.1 578.12h0M90.62 561.37h0M112.25 550.89h0M86.38 563.07h0M70.85 588.07h0M76.94 578.74h0M111.41 553.57h0M85.36 571.09h0M87.95 567.98h0M95.9 555.62h0M79.51 572.33h0M72.21 579.94h0M74.67 587.27h0M77.36 578.63h0M84.45 566.61h0M111.63 551.45h0M118.84 548.24h0M105.73 552.75h0M118.65 550.79h0M95.26 561.07h0M118.94 550.25h0M93.8 557.4h0M100.53 555.45h0M79.2 572.6h0M75.6 580.74h0M110.83 557.17h0M70.83 584.45h0M76.91 574.73h0M110.79 553.16h0M105.1 551.38h0M84.31 563.88h0M117.69 552.94h0M70.46 585.53h0M70.64 582.71h0M75.7 576.67h0M77.86 574.7h0M100.75 553.08h0M113.51 552.79h0M99.85 555.5h0M91 558.16h0M118.29 549.98h0M78.07 572.89h0M72.77 589.23h0M101.81 553.64h0M78.52 577.12h0M86.78 565.08h0M83.11 573.8h0M97.62 556.89h0M78.61 573.82h0M115.68 555.26h0M91.33 559.18h0M80.81 571.54h0M111.22 550.31h0M89.49 564.6h0M81.87 569.97h0M98.15 556.63h0M112.04 554.93h0M117.65 550.98h0M80.71 577.33h0M107.08 553.55h0M102.51 556.67h0M90.03 563.82h0M75.32 584.27h0M76.08 590.06h0M75.54 574.75h0M69.16 589.2h0M70.13 587.51h0M94.19 557.44h0M97.76 557.58h0M107.53 552.24h0M69.62 589.3h0M121.68 551.08h0M84.98 563.73h0M113.1 551.52h0M71.62 581.69h0M92.14 558.11h0M87.02 564.25h0M78 575.36h0M87.32 559.83h0M80.25 574.29h0M76.89 585.27h0M89.38 563.37h0M82.29 572.38h0M102.16 554.63h0M87 567.64h0M77.71 578.74h0M97.8 560.71h0M85.63 563.71h0M69.04 586.89h0M111.12 555.47h0M108.04 554.06h0M84.22 567.91h0M88.62 562.03h0M70.42 586.2h0M101.43 555.44h0M117.43 554.81h0M112.68 548.45h0M120.26 552.1h0M85.75 567.46h0M92.73 556.69h0M70.21 589.63h0M72.2 589.58h0M72.53 584.37h0M97.96 558.58h0M107.25 553.67h0M71.99 582.42h0M105.86 555.49h0M111.1 552.44h0M102.12 553.21h0M110.7 548.64h0M88.26 567.37h0M101.11 555.27h0M69.92 584.06h0M76.13 575.91h0M84.49 565.06h0M90.47 559.29h0M74.39 582.76h0M108.19 550.3h0M87.12 563.85h0M109.18 550.22h0M95.4 558.17h0M71.4 587.51h0M75.55 581.18h0M82.77 567.3h0M68.44 588.9h0M89.09 563.32h0M75.6 581.52h0M79.22 573.2h0M107.03 552.71h0M102.11 554.85h0M100.23 557.87h0M78.65 574.25h0M73.77 577.21h0M78.18 579.25h0M97.22 556.8h0M93.28 560.3h0M91.54 561.35h0M113.86 553.4h0M94.9 561.75h0M110.5 550.58h0M107.74 553.94h0M74.97 588.4h0M96.89 560.33h0M88.46 562.01h0M93.17 560.92h0M90.87 563.04h0M89.32 561.42h0M75.67 581.06h0M110.21 550.84h0M91.76 567.05h0M104.64 552.6h0M104.24 553.47h0M79.78 570.67h0M93.55 557.3h0M86.07 563.66h0M95.95 556.34h0M72.75 584.1h0M119.64 554.31h0M69.35 588.66h0M80.14 573.33h0M81.2 567.06h0M108.81 553.98h0M92.23 557.83h0M81.15 570.07h0M111.73 551.12h0M115.24 553.92h0M79.61 569.63h0M118.68 553.14h0M92.44 558.55h0M70.24 588.46h0M79.36 570.86h0M116.26 551.86h0M77.34 578.44h0M94.83 557.75h0M74.5 576.33h0M76.81 572.52h0M101.76 551.44h0M76.91 581.37h0M84.33 565.92h0M104.13 554.01h0M99.51 553.88h0M103.43 552.63h0M116.12 553.38h0M84.12 565.98h0M118.79 553.59h0M75.48 583.06h0M106.66 550.9h0M107.18 550.95h0M105.92 550.27h0M76.84 583.07h0M92.57 558.14h0M77.45 581.33h0M95.11 557.11h0M79.41 572.45h0M121.64 550.99h0M70.29 584.86h0M116.84 551.5h0M114.31 550.26h0M102.81 553.49h0M73.36 580.2h0M79.39 570.57h0M109.25 550.28h0M70.86 587.78h0M72.97 587.74h0M74.3 580.76h0M75.53 584.14h0M118.61 550.86h0M70.97 588.32h0M106.37 553.32h0M72.99 584.89h0M71.89 585.52h0M77.72 574.73h0M106.58 551.05h0M97.42 555.86h0M85.87 567.45h0M92.53 557.32h0M75.27 575.36h0M84.6 563.27h0M72.25 589.42h0M119.66 550.22h0M75.12 575.45h0M78.47 573.62h0M79.99 569.08h0M75.8 578.28h0M113.36 550.42h0M75.06 579.14h0M116.17 551.6h0M76.29 583.36h0M70.52 587.51h0M86.79 561.58h0M118.13 551.46h0M116.67 553.38h0M115.05 548.29h0M76.83 573h0M87.41 567.03h0M89.89 564.38h0M96.89 554.06h0M118.11 549.14h0M105.18 555.41h0M105.36 553.11h0M70.72 589.99h0M75.48 578.58h0M109.92 556.4h0M74.74 582.28h0M95.38 556.12h0M88.57 562.6h0M80.44 569.78h0M77.34 577.73h0M120.59 555.01h0M73.3 583.51h0M73.53 577.76h0M117.09 553.02h0M78.46 578.43h0M115.42 547.91h0M85.18 568.77h0M119.47 550.65h0M80.81 576.2h0M111.07 550.89h0M85.33 564.71h0M117.25 550.45h0M98.97 558.65h0M115.08 549.99h0M101.21 554.09h0M81.31 567.14h0M71.74 589.17h0M116.38 550.27h0M86.95 562.35h0M68.78 586.83h0M96.81 556.05h0M84.71 567.81h0M84.34 565.33h0M75.02 590.14h0M84.63 564.37h0M73.03 578.34h0M112.3 550.76h0M81.26 568.78h0M102.22 553.58h0M82.14 568.85h0M110.28 550.26h0M73.99 577.22h0M92.79 561.91h0M122.06 549.25h0M70.89 586.79h0M81.82 571.94h0M116.43 550.01h0M104.27 556.37h0M80.24 569.71h0M97.71 555.89h0M76 581.63h0M92.89 558.01h0M75.84 584.96h0M95.75 558.71h0M97.61 557.85h0M80.36 570.73h0M89.63 562.32h0M88.65 562.91h0M79.05 572.48h0M95.5 562.14h0M78.06 570.95h0M74.55 577.54h0M83.76 570.43h0M88.3 561.59h0M90.68 565.89h0M88.08 561.83h0M96.3 559.15h0M69.35 589.52h0M76.87 571.34h0M90.92 560.73h0M94.66 559.25h0M103.57 553.33h0M80.82 571.69h0M69.38 588.87h0M100.7 553.58h0M85.22 563.06h0M71.78 585.03h0M91.96 562.07h0M105.54 554.7h0M79.84 573.22h0M74.72 579.38h0M74.34 582.74h0M103.16 552.48h0M85.26 565.98h0M90 558.53h0M79.88 573.34h0M98.69 556.75h0M76.42 585.76h0M84.71 564.53h0M115.21 551.29h0M113.38 556.59h0M75.47 582.96h0M94.66 556.47h0M72.82 589.05h0M77.77 570.32h0M84.08 567.64h0M109.49 550.93h0M105.86 552.59h0M95.32 557.2h0M107.09 552.82h0M83.23 570.77h0M101.25 555.09h0M80.33 567.58h0M99.39 554.39h0M120.4 549.64h0M74.85 578.68h0M117.21 549.8h0M96.15 557.21h0M71.02 583.24h0M86.68 563.27h0M106.33 552.96h0M72.32 582.55h0M72.19 583.3h0M103.98 554.67h0M119.76 553.94h0M91.88 559.64h0M73.86 589.33h0M108.28 556.49h0M96.62 556.99h0M92.31 559.8h0M80.01 571.05h0M113.12 549.69h0M85.79 563.83h0M78.97 570.43h0M96.32 553.96h0M98.12 555.92h0M75.18 575.67h0M114.6 551.25h0M109.94 550.87h0M78.06 572.8h0M103.68 556.99h0M97.88 555.13h0M101.29 551.63h0M97.57 557.4h0M68.61 589.19h0M112.81 554.92h0M76.09 583.43h0M78.03 572.09h0M106.41 553h0M104.29 551.62h0M82.34 566.76h0M89.79 559.94h0M79.08 569.51h0M82.02 566.33h0M110.46 549.05h0M77.57 573.15h0M107.07 551.44h0M78.48 573.81h0M108.16 552.78h0M106.31 553.62h0M84.46 565.98h0M97.15 553.54h0M83.06 565.03h0M75.49 577.62h0M97.63 556.81h0M84.39 570.3h0M99.44 556.7h0M87.34 561.47h0M93.99 557.29h0M99.35 555.63h0M97.81 555.88h0M73.07 582.94h0M106.1 553.03h0M96.66 560.01h0M97.86 554.66h0M71.37 585.97h0M101.53 557.48h0M98.32 557.68h0M77.84 577.72h0M89.16 563.7h0M79.81 576h0M98.54 556.48h0M93.5 558.53h0M93.31 559.16h0M120.79 552.61h0M79.97 574.53h0M75.84 590.81h0M85.65 564.46h0M76.27 577.83h0M77.83 580.63h0M88.96 560.49h0M70.43 589.26h0M76.43 574.54h0M78.57 571.53h0M111.99 553.62h0M113.21 555.39h0M70.44 589.02h0M107.38 551.84h0M86 567.93h0M82.69 570.84h0M116.94 549.81h0M116.42 548.91h0M110.77 550.33h0M104.8 551.02h0M88.88 559.71h0M75.48 577.68h0M76.77 578h0M121.14 551.63h0M97.44 558.11h0M71.21 582.71h0M92.55 557.9h0M71.91 579.05h0M91.28 561.28h0M113.74 553.78h0M81.7 569.94h0M106.28 553.69h0M72.57 584.97h0M80.47 570.4h0M117.96 552.77h0M80.4 569.08h0M116.6 556.09h0M101.8 555.19h0M92.52 563.35h0M76.63 578.38h0M80.41 576.28h0M100.46 553.44h0" stroke="#1fa9d6" stroke-width="0.95" stroke-linecap="round" stroke-opacity="0.9" fill="none"/>
<path d="M107.54 542.31Q123.6 605.6 135.26 541.35M58.4 609.14Q123.6 605.6 107.54 542.31M61.58 626.04Q123.6 605.6 135.26 541.35" fill="none" stroke="#3a3a3a" stroke-width=".7"/>
<path d="M58.45 609.98Q123.6 605.6 58.37 608.72M58.41 609.45Q123.6 605.6 58.33 607.67M58.38 608.93Q123.6 605.6 58.31 606.62M61.99 627.24Q123.6 605.6 61.65 626.24M61.78 626.64Q123.6 605.6 61.26 625.04M61.58 626.04Q123.6 605.6 60.9 623.83M61.58 626.04Q123.6 605.6 58.39 609.03" fill="none" stroke="#55369b" stroke-width="0.55" stroke-opacity="0.9"/>
<path d="M61.44 587.28A64.8 64.8 0 0 1 67.85 572.58L72.58 575.38A59.3 59.3 0 0 0 66.72 588.83Z" fill="#cc5658"/>
<path d="M69.85 569.4A64.8 64.8 0 0 1 99.92 545.28L101.93 550.4A59.3 59.3 0 0 0 74.42 572.47Z" fill="#cc5658"/>
<path d="M99.92 545.28A64.8 64.8 0 0 1 121.59 540.83L121.76 546.33A59.3 59.3 0 0 0 101.93 550.4Z" fill="#ad2647"/>
<text x="123.9" y="525.4">0 Mb</text>
<text transform="translate(182.79 552.01) rotate(47.84)" text-anchor="middle">50 Mb</text>
<text transform="translate(208.75 609.74) rotate(-87.22)" text-anchor="middle">100 Mb</text>
<text transform="translate(182.25 667.46) rotate(-43.47)" text-anchor="middle">150 Mb</text>
<text transform="translate(162.01 681.71) rotate(-26.78)" text-anchor="middle">0 Mb</text>
<text transform="translate(102.59 688.22) rotate(14.27)" text-anchor="middle">50 Mb</text>
<text transform="translate(47.64 644.29) rotate(63.01)" text-anchor="middle">100 Mb</text>
<text transform="translate(48.72 577.86) rotate(-69.67)" text-anchor="middle">0 Mb</text>
<text transform="translate(86.81 534.73) rotate(-27.43)" text-anchor="middle">50 Mb</text>
<text x="205.99" y="585.06" text-anchor="middle" style="font-size:9.5px">7</text>
<text x="70.49" y="681.04" text-anchor="middle" style="font-size:9.5px">8</text>
<text x="69.86" y="537.68" text-anchor="middle" style="font-size:9.5px">18</text>
<g id="panelE">
<path d="M435.55 532.21A73.5 73.5 0 0 1 437.56 532.34L437.04 538.72A67.1 67.1 0 0 0 435.21 538.6Z" fill="#e3e5e9"/>
<path d="M440.86 532.69A73.5 73.5 0 0 1 448.43 534.05L446.96 540.28A67.1 67.1 0 0 0 440.05 539.03Z" fill="#111111"/>
<path d="M451.52 534.85A73.5 73.5 0 0 1 456.48 536.44L454.32 542.46A67.1 67.1 0 0 0 449.79 541.01Z" fill="#111111"/>
<path d="M461.53 538.47A73.5 73.5 0 0 1 464.21 539.73L461.37 545.47A67.1 67.1 0 0 0 458.93 544.32Z" fill="#c2c6cd"/>
<path d="M465.06 540.16A73.5 73.5 0 0 1 471.41 543.82L467.95 549.2A67.1 67.1 0 0 0 462.14 545.85Z" fill="#7f838b"/>
<path d="M473.58 545.27A73.5 73.5 0 0 1 479.29 549.68L475.14 554.55A67.1 67.1 0 0 0 469.92 550.52Z" fill="#7f838b"/>
<path d="M481.16 551.32A73.5 73.5 0 0 1 484.22 554.28L479.64 558.75A67.1 67.1 0 0 0 476.84 556.05Z" fill="#7f838b"/>
<path d="M485.44 555.57A73.5 73.5 0 0 1 488.18 558.68L483.25 562.77A67.1 67.1 0 0 0 480.76 559.93Z" fill="#7f838b"/>
<path d="M491.08 562.42A73.5 73.5 0 0 1 493.55 566.04L488.15 569.49A67.1 67.1 0 0 0 485.9 566.18Z" fill="#e0452f"/>
<path d="M496.69 571.47A73.5 73.5 0 0 1 499.32 577.03L493.42 579.52A67.1 67.1 0 0 0 491.03 574.44Z" fill="#c2c6cd"/>
<path d="M501.51 582.91A73.5 73.5 0 0 1 504.03 593.13L497.73 594.22A67.1 67.1 0 0 0 495.42 584.89Z" fill="#111111"/>
<path d="M504.37 595.24A73.5 73.5 0 0 1 504.77 598.65L498.4 599.25A67.1 67.1 0 0 0 498.03 596.14Z" fill="#7f838b"/>
<path d="M504.93 600.65A73.5 73.5 0 0 1 505.09 606.8L498.69 606.7A67.1 67.1 0 0 0 498.55 601.08Z" fill="#7f838b"/>
<path d="M504.66 613.65A73.5 73.5 0 0 1 504.56 614.48L498.21 613.7A67.1 67.1 0 0 0 498.3 612.95Z" fill="#c2c6cd"/>
<path d="M504.07 617.87A73.5 73.5 0 0 1 502.16 626.18L496.02 624.38A67.1 67.1 0 0 0 497.76 616.8Z" fill="#7f838b"/>
<path d="M501.16 629.34A73.5 73.5 0 0 1 499.62 633.44L493.7 631.01A67.1 67.1 0 0 0 495.1 627.27Z" fill="#7f838b"/>
<path d="M498.35 636.37A73.5 73.5 0 0 1 496.62 639.87L490.96 636.89A67.1 67.1 0 0 0 492.54 633.69Z" fill="#7f838b"/>
<path d="M495.43 642.05A73.5 73.5 0 0 1 494.71 643.28L489.21 640A67.1 67.1 0 0 0 489.87 638.88Z" fill="#e3e5e9"/>
<path d="M493.33 645.49A73.5 73.5 0 0 1 489.49 650.89L484.45 646.94A67.1 67.1 0 0 0 487.96 642.02Z" fill="#c2c6cd"/>
<path d="M485.74 655.31A73.5 73.5 0 0 1 481.74 659.34L477.37 654.66A67.1 67.1 0 0 0 481.03 650.98Z" fill="#7f838b"/>
<path d="M477.53 662.98A73.5 73.5 0 0 1 475.18 664.78L471.39 659.63A67.1 67.1 0 0 0 473.53 657.99Z" fill="#e3e5e9"/>
<path d="M466.84 670.1A73.5 73.5 0 0 1 462.61 672.24L459.91 666.44A67.1 67.1 0 0 0 463.77 664.49Z" fill="#7f838b"/>
<path d="M455.48 675.11A73.5 73.5 0 0 1 448.31 677.17L446.86 670.94A67.1 67.1 0 0 0 453.4 669.06Z" fill="#111111"/>
<path d="M443.32 678.16A73.5 73.5 0 0 1 438.51 678.77L437.9 672.4A67.1 67.1 0 0 0 442.3 671.84Z" fill="#c2c6cd"/>
<path d="M436.85 678.91A73.5 73.5 0 0 1 427.74 679L428.08 672.61A67.1 67.1 0 0 0 436.4 672.53Z" fill="#7f838b"/>
<path d="M425.62 678.86A73.5 73.5 0 0 1 423.97 678.7L424.63 672.34A67.1 67.1 0 0 0 426.14 672.48Z" fill="#e3e5e9"/>
<path d="M419.98 678.18A73.5 73.5 0 0 1 414.18 677.01L415.69 670.79A67.1 67.1 0 0 0 420.99 671.86Z" fill="#e0452f"/>
<path d="M409.5 675.7A73.5 73.5 0 0 1 409.05 675.56L411.02 669.46A67.1 67.1 0 0 0 411.43 669.6Z" fill="#7f838b"/>
<path d="M405.81 674.43A73.5 73.5 0 0 1 399.18 671.57L402.01 665.82A67.1 67.1 0 0 0 408.06 668.43Z" fill="#c2c6cd"/>
<path d="M398.55 671.25A73.5 73.5 0 0 1 394.59 669.1L397.82 663.57A67.1 67.1 0 0 0 401.43 665.53Z" fill="#c2c6cd"/>
<path d="M392.57 667.88A73.5 73.5 0 0 1 390.09 666.26L393.71 660.98A67.1 67.1 0 0 0 395.97 662.46Z" fill="#c2c6cd"/>
<path d="M386.83 663.9A73.5 73.5 0 0 1 382.82 660.58L387.07 655.79A67.1 67.1 0 0 0 390.73 658.82Z" fill="#111111"/>
<path d="M381.25 659.14A73.5 73.5 0 0 1 377.5 655.35L382.21 651.02A67.1 67.1 0 0 0 385.63 654.48Z" fill="#7f838b"/>
<path d="M375.7 653.32A73.5 73.5 0 0 1 371.08 647.31L376.35 643.68A67.1 67.1 0 0 0 380.56 649.16Z" fill="#111111"/>
<path d="M367.51 641.59A73.5 73.5 0 0 1 366.06 638.87L371.77 635.98A67.1 67.1 0 0 0 373.09 638.45Z" fill="#e3e5e9"/>
<path d="M363.78 633.93A73.5 73.5 0 0 1 361.98 629.17L368.04 627.12A67.1 67.1 0 0 0 369.68 631.46Z" fill="#7f838b"/>
<path d="M361.4 627.37A73.5 73.5 0 0 1 359.72 620.96L365.98 619.62A67.1 67.1 0 0 0 367.51 625.47Z" fill="#111111"/>
<path d="M359.37 619.21A73.5 73.5 0 0 1 358.75 615.36L365.09 614.51A67.1 67.1 0 0 0 365.66 618.03Z" fill="#c2c6cd"/>
<path d="M358.21 609.7A73.5 73.5 0 0 1 358.11 604.73L364.5 604.81A67.1 67.1 0 0 0 364.6 609.35Z" fill="#c2c6cd"/>
<path d="M358.4 598.94A73.5 73.5 0 0 1 358.89 594.83L365.22 595.77A67.1 67.1 0 0 0 364.78 599.52Z" fill="#7f838b"/>
<path d="M362.15 581.55A73.5 73.5 0 0 1 363.93 576.91L369.82 579.4A67.1 67.1 0 0 0 368.19 583.64Z" fill="#c2c6cd"/>
<path d="M364.6 575.39A73.5 73.5 0 0 1 365.81 572.82L371.54 575.68A67.1 67.1 0 0 0 370.43 578.02Z" fill="#e3e5e9"/>
<path d="M368.36 568.14A73.5 73.5 0 0 1 370.64 564.54L375.95 568.12A67.1 67.1 0 0 0 373.87 571.4Z" fill="#e0452f"/>
<path d="M374.88 558.85A73.5 73.5 0 0 1 381.1 552.19L385.5 556.84A67.1 67.1 0 0 0 379.82 562.92Z" fill="#111111"/>
<path d="M385.1 548.68A73.5 73.5 0 0 1 391.11 544.26L394.63 549.6A67.1 67.1 0 0 0 389.15 553.63Z" fill="#7f838b"/>
<path d="M395.86 541.37A73.5 73.5 0 0 1 401.79 538.42L404.39 544.27A67.1 67.1 0 0 0 398.97 546.97Z" fill="#7f838b"/>
<path d="M404.41 537.31A73.5 73.5 0 0 1 407.52 536.16L409.61 542.2A67.1 67.1 0 0 0 406.78 543.26Z" fill="#c2c6cd"/>
<path d="M410.45 535.21A73.5 73.5 0 0 1 416.41 533.69L417.73 539.95A67.1 67.1 0 0 0 412.29 541.34Z" fill="#111111"/>
<path d="M418.62 533.26A73.5 73.5 0 0 1 423.77 532.52L424.45 538.88A67.1 67.1 0 0 0 419.75 539.56Z" fill="#e3e5e9"/>
<circle cx="431.6" cy="605.6" r="75.25" fill="none" stroke="#1a1a1a" stroke-width=".9"/>
<path d="M432.24 532.1A73.5 73.5 0 0 1 471.28 667.47" fill="none" stroke="#1a1a1a" stroke-width="0.9"/>
<path d="M432.19 538.5A67.1 67.1 0 0 1 467.83 662.08" fill="none" stroke="#1a1a1a" stroke-width="0.9"/>
<path d="M469.1 668.81A73.5 73.5 0 0 1 360.42 587.29" fill="none" stroke="#1a1a1a" stroke-width="0.9"/>
<path d="M465.83 663.31A67.1 67.1 0 0 1 366.62 588.88" fill="none" stroke="#1a1a1a" stroke-width="0.9"/>
<path d="M361.1 584.82A73.5 73.5 0 0 1 429.68 532.13" fill="none" stroke="#1a1a1a" stroke-width="0.9"/>
<path d="M367.24 586.63A67.1 67.1 0 0 1 429.84 538.52" fill="none" stroke="#1a1a1a" stroke-width="0.9"/>
<path d="M432.19 538.5L432.24 532.1M467.83 662.08L471.28 667.47M432.26 530.35L432.28 527.75M444.32 531.43L444.57 529.95M456.05 534.43L456.53 533.01M467.14 539.27L467.85 537.95M477.32 545.83L478.23 544.64M486.31 553.94L488.2 552.15M493.89 563.38L495.13 562.54M499.85 573.92L501.21 573.28M504.05 585.27L505.5 584.87M506.37 597.15L507.86 596.99M506.76 609.25L509.36 609.38M505.2 621.26L506.67 621.57M501.74 632.86L503.14 633.41M496.46 643.76L497.75 644.52M489.5 653.66L490.65 654.62M481.04 662.33L482.75 664.29M465.83 663.31L469.1 668.81M366.62 588.88L360.42 587.29M469.99 670.32L471.32 672.56M459.12 675.64L459.66 677.03M447.53 679.14L447.85 680.61M435.53 680.75L435.61 682.25M423.43 680.4L423.26 681.9M411.53 678.13L410.84 680.63M400.16 673.97L399.54 675.33M389.61 668.04L388.77 669.29M380.14 660.5L379.11 661.59M372 651.54L370.81 652.45M365.4 641.38L363.11 642.62M360.52 630.3L359.1 630.8M357.48 618.58L356 618.84M356.36 606.53L354.86 606.55M357.18 594.45L355.7 594.23M367.24 586.63L361.1 584.82M429.84 538.52L429.68 532.13M359.42 584.32L356.93 583.59M363.77 573.02L362.42 572.37M369.87 562.56L368.64 561.71M377.57 553.22L376.49 552.18M386.67 545.24L385.78 544.03M396.93 538.81L395.74 536.5M408.09 534.12L407.62 532.69M419.86 531.27L419.63 529.79" stroke="#1a1a1a" stroke-width=".6" fill="none"/>
</g>
<path d="M432.17 540.8A64.8 64.8 0 0 1 466.59 660.14L463.62 655.51A59.3 59.3 0 0 0 432.12 546.3Z" fill="#f1f2f8"/>
<path d="M464.66 661.33A64.8 64.8 0 0 1 368.84 589.46L374.17 590.83A59.3 59.3 0 0 0 461.85 656.6Z" fill="#f1f2f8"/>
<path d="M470.25 646.03h0M477.78 574.65h0M482.64 582.63h0M487.25 589.28h0M474.3 573.67h0M461.71 557.82h0M466.03 650.81h0M483.88 620.5h0M454.18 556.1h0M448.48 551.34h0M469.98 649.03h0M471.95 565.6h0M453.09 553.61h0M488.59 596.15h0M455.93 553.57h0M487.75 616.92h0M487.15 595.38h0M484.63 588.91h0M458.8 557.27h0M488.82 611.47h0M466.8 559.99h0M481.67 634.48h0M442.03 550.5h0M478.03 579.48h0M439.73 548.22h0M480.5 637.53h0M474.68 569.59h0M463.26 651.85h0M483.87 630.92h0M487.76 612.11h0M483.51 617.79h0M487.47 594.41h0M474.76 640.81h0M480.72 578.34h0M469.67 561.31h0M484.32 587.08h0M488.35 617.62h0M447.55 552.45h0M482.46 627.72h0M489.83 609.28h0M459.28 557.51h0M480.05 576.03h0M487.64 607.77h0M457.89 554.7h0M470.06 647.38h0M479.13 634.31h0M436.38 548.72h0M484.39 626.63h0M487.52 613.36h0M474.67 642.59h0M476.64 571.48h0M485.99 622.04h0M473.22 566.62h0M487.48 602.7h0M437.35 547.51h0M465.19 649.46h0M481.42 634.34h0M485.21 583.41h0M440.54 548.4h0M464.75 651.99h0M489.65 604.53h0M470.28 646.69h0M479.58 630.85h0M458.67 557.7h0M487.47 619.35h0M465.99 649.41h0M482.74 630.69h0M486.63 618.07h0M443.08 552.28h0M437.19 549.39h0M462.82 652.26h0M489.01 615.66h0M484.05 588.82h0M477.99 631.69h0M480.73 579.86h0M485.92 602h0M433.3 549.2h0M480.65 637.09h0M452.7 551.99h0M484.11 625.69h0M485.96 595.34h0M487.12 612.35h0M448.58 551.44h0M484.15 628.23h0M488.43 608.71h0M437.66 549.17h0M486.24 623.98h0M481.34 634.83h0M485.51 624.08h0M470.73 643.64h0M487.39 613.79h0M435.29 552.59h0M452.38 554.24h0M467.99 648.26h0M477.98 579.49h0M485.2 600.09h0M485.12 624.1h0M474.26 643.24h0M485.61 586.93h0M469.4 561.86h0M472.79 644.09h0M486.61 593.29h0M465.12 650.71h0M473.55 567.4h0M486.38 596.21h0M488.95 602.9h0M448.92 550.5h0M472.43 644.38h0M479.19 632.65h0M471.21 642.3h0M437.39 549.79h0M487.14 595.74h0M433.9 552.12h0M474.37 642.15h0M469.73 562.78h0M482.34 633.61h0M477.89 638.08h0M464.18 649.55h0M475.56 639.46h0M488.26 616.58h0M482.12 577.53h0M484.72 621.09h0M487.48 600.47h0M474.48 642.45h0M432.68 548.1h0M486.15 617.68h0M486.96 590.9h0M474.04 566.82h0M485.88 600.18h0M487.58 596.79h0M486.33 587.86h0M487.21 609.48h0M483.17 630.66h0M480.39 576h0M487.47 601.35h0M444.95 550.9h0M442.8 551.24h0M481.32 633.12h0M487.88 619.79h0M477.04 639.52h0M486.81 624.63h0M438.38 551.79h0M462.34 557.44h0M487.01 604.21h0M480.83 634.09h0M482.74 632h0M485.83 627.01h0M434.35 551.1h0M465.43 559.31h0M443.53 549.86h0M487.64 593.51h0M450.57 551.77h0M472.34 565.57h0M487.91 603.02h0M485.72 590.39h0M488.29 603.59h0M479.38 575.86h0M432.45 548.6h0M449.5 554.23h0M476.79 568.98h0M487.93 617.77h0M487.56 619.52h0M478.95 574.81h0M486.92 619.18h0M486.29 599.34h0M464.51 558.42h0M481.23 633.97h0M477.44 571.72h0M485.28 616.85h0M486.86 622.19h0M434.32 552.99h0M475.48 571.8h0M450.41 550.62h0M478.01 573.83h0M462.71 558.08h0M473.78 638.28h0M479.07 635.06h0M462.51 557.83h0M449.49 551.77h0M470.95 563.61h0M446.34 551.68h0M465.8 651.52h0M487.86 616.18h0M469.94 648.5h0M487.34 594.89h0M484.79 585.63h0M484.41 589.22h0M463.96 558.5h0M486.44 623.43h0M484.96 613.98h0M483.91 583.47h0M488.68 605.08h0M473.06 568.07h0M488.5 603.81h0M451.42 552.33h0M475.72 641.15h0M488.51 611.8h0M470.5 562.78h0M474.97 642.36h0M487.47 622.62h0M434.82 549.91h0M485.34 591.03h0M486.24 587.93h0M476 643.45h0M486.84 622.04h0M472.28 568.36h0M486.02 597.35h0M476.4 641.26h0M476.27 636.38h0M459.61 561.27h0M486.46 589.92h0M470.02 648.41h0M487.02 594.16h0M472.5 643.09h0M434.07 550.54h0M466.47 563.53h0M486.9 614.89h0M469.27 563.26h0M487.13 596.32h0M484.41 624.24h0M435.04 549.53h0M472.51 644.38h0M483.12 625.56h0M461.29 557.22h0M435.42 552.56h0M476.68 639.36h0M482.65 624.39h0M472.31 568.16h0M488.2 596.27h0M489.41 613.25h0M485 586.56h0M484.69 623.13h0M471.03 566.42h0M480.11 575.86h0M485.19 620.61h0M487.26 606.13h0M486.22 620.16h0M487.41 616.7h0M453.75 552.77h0M434.07 548.08h0M436.67 549.29h0M470.79 642.35h0M487.86 610.84h0M436.74 548.19h0M467.39 564.25h0M483.29 622.14h0M486.74 595.51h0M486.87 594.72h0M479.05 634.63h0M471.86 645.45h0M432.47 550.42h0M485.37 624.65h0M483.08 585.48h0M488.12 595.96h0M465.14 559.91h0M434.42 548.29h0M488.01 593.74h0M483.24 628.79h0M455.08 552.74h0M486.09 600.86h0M481.16 632.42h0M482.77 632.91h0M471.85 643.36h0M450.66 552.1h0M470.36 565.95h0M487.13 596.5h0M458.66 556.35h0M434.52 550.14h0M482.8 617.52h0M484.81 588.69h0M482.32 583.05h0M483.25 585.16h0M441.62 548.91h0M481.41 576.07h0M486.68 611.56h0M475.79 569.24h0M487.03 593.39h0M432.65 548.31h0M474.44 637.93h0M459.69 556.25h0M434.82 548.72h0M466.23 560.18h0M482.83 627.28h0M477.04 637.46h0M481.11 636.57h0M459.38 554.93h0M439.28 548.93h0M432.52 550.97h0M479.99 577.71h0M470.15 568.57h0M486.27 621.66h0M432.73 547.21h0M476.42 574.36h0M466.09 648.38h0M485.95 606.06h0M461.79 558.04h0M484.71 583.67h0M465.2 561.13h0M468.08 650.11h0M488.69 599.92h0M485.72 619.72h0M481.17 577.05h0M449.43 554.81h0M463.39 650.78h0M447.8 550.58h0M483.43 593.15h0M466.47 560.08h0M482.54 628.13h0M484.09 591.9h0M470.81 647.43h0M476.99 574.17h0M475.7 570.15h0M489.35 604.53h0M450.01 554.62h0M485.73 593.79h0M478.17 572.57h0M451.93 552.09h0M469.95 563.26h0M489.21 604.31h0M485.44 595.24h0M447.68 553.7h0M452.39 552.17h0M432.23 549.72h0M476.98 570.03h0M470 567.27h0M486.39 597.46h0M472.44 640.34h0M479.34 573.88h0M486.66 596.27h0M488.75 601.28h0M476.68 568.48h0M453.88 553.83h0M477.76 634.35h0M475.31 641.99h0M458.1 554.9h0M478.94 637.04h0M476.98 640.79h0M463.66 650.16h0M488.31 606.16h0M477.57 638.72h0M473.88 638.74h0M484.09 622.13h0M483.99 588.03h0M475.65 571.44h0M457.34 554.56h0M442.92 550.01h0M432.68 547.41h0M476.17 642.2h0M465.29 649.99h0M442.02 550.64h0M480.4 634.6h0M447.73 553.74h0M482.39 633.29h0M454.95 556.28h0M483.73 626.89h0M489.09 601.3h0M488.63 605.45h0M448.79 553.56h0M440.92 549.35h0M488.74 594.5h0M475.18 568.49h0M458.85 554.07h0M485.97 594.51h0M489.95 603.15h0M469.04 644.4h0M470.86 564.72h0M485.38 583.15h0M487.82 611.46h0M435.32 547.32h0M477.08 641.02h0M488.69 597.38h0M474.09 568.72h0M442.91 553.05h0M453.8 555.36h0M484.55 622.28h0M481.08 630.07h0M473.28 573.55h0M483 583.67h0M488.06 611.08h0M480.24 575.76h0M475.1 639.41h0M458.87 554.89h0M474.33 569.58h0M486.27 611.77h0M486.2 589.8h0M484.43 610.45h0M485 581.96h0M486.86 619.34h0M484.92 593.43h0M487.28 591.9h0M438.38 555.48h0M475.18 569.57h0M483.69 579.2h0M480.45 621.27h0M488.09 620.01h0M487.12 589.03h0M486.94 614.67h0M486.92 619.67h0M460.84 560.03h0M484.26 583.97h0M473.21 645.17h0M456.97 553.7h0M464.73 653.69h0M471.27 645.62h0M485.57 589.3h0M469.16 563.33h0M486.11 624.12h0M475.16 640.51h0M484.66 584.85h0M468.24 560.13h0M444.99 548.8h0M478.84 637.69h0M463 557.96h0M479.59 634.62h0M433.01 549.26h0M486.62 606.07h0M485.59 619.49h0M446.35 550.14h0M488.87 613.89h0M447.45 550.23h0M465.53 558.07h0M486.39 608.55h0M489.86 605.82h0M482.7 578.08h0M483.79 590.36h0M457.83 555.92h0M487.8 596.6h0M446.27 550.57h0M482.48 633.82h0M447.85 551.95h0M483.94 583.11h0M473.82 639.54h0M440.62 549.32h0M485.44 592.61h0M487.26 604.62h0M472.22 645.42h0M483.35 630.65h0M481.86 631.4h0M483.69 629.12h0M485.03 626.39h0M486.16 587.83h0M433.22 550.48h0M480.17 636.89h0M469.58 565.32h0M463.68 653.31h0M449.98 552.18h0M442.33 549.84h0M489.32 605.28h0M485.58 587.74h0M435.18 553.03h0M457.53 554.27h0M474.53 566.96h0M487.13 594.67h0M450.7 551.06h0M481.39 577.46h0M432.78 547.21h0M482.85 582.25h0M488.23 619.03h0M488.51 602.03h0M446.84 552.22h0M483.45 580.01h0M462.01 652.05h0M470.8 646.52h0M482.23 633.33h0M474.41 639.71h0M461.74 557.04h0M448.71 552.11h0M441.57 550.12h0M462.78 556.22h0M465.68 651.59h0M460.65 650.17h0M485.45 626.88h0M448.9 551.32h0M487.21 610.92h0M488.57 609.19h0M454.12 555.45h0M487.09 621.4h0M483.75 593.93h0M477.97 636.8h0M488.37 607.1h0M468.9 649.92h0M460.63 558.45h0M477.41 640.67h0M454.13 551.8h0M483.22 629.4h0M464.1 561.66h0M482.1 579.46h0M450.55 551.52h0M434.57 551.51h0M477.38 636.21h0M485.44 599.14h0M463.51 652.23h0M467.82 650.51h0M473.31 565.71h0M487.11 587.77h0M444.18 551.05h0M483.66 628.64h0M486.26 624.21h0M464.87 648.32h0M488.21 601.68h0M487.94 606.5h0M443.1 550.08h0M466.97 561.55h0M460.64 554.93h0M451.85 551.92h0M488.07 599.71h0M484.67 600.59h0M432.54 548.47h0M455.46 555.01h0M476.68 636.26h0M448.56 550.5h0M463.56 561.09h0M489.48 598.05h0M456.98 559.01h0M455.72 552.41h0M465.37 649.19h0M438.21 547.98h0M471.62 563.06h0M444.18 551.11h0M476.56 639.46h0M467.53 563.52h0M476.38 572.03h0M487.59 600h0M476 570.11h0M486.28 586.94h0M486.44 591.22h0M479.12 638.28h0M483.23 580.29h0M484.95 621.95h0M459.44 554.99h0M485.53 623.57h0M487.42 601.21h0M478.39 635.14h0M443.63 550.35h0M456.8 555.24h0M487.12 594.38h0M472.65 566.5h0M479.24 635.41h0M453.66 555.34h0M486.82 619.21h0M480.75 637.02h0M488.49 611.63h0M482.6 581.71h0M469.02 562.44h0M439.85 547.79h0M475.66 568.64h0M483.6 580.73h0M462.92 654.16h0M482.28 631.69h0M450.91 552.49h0M466.47 561.2h0M442.54 551.95h0M441.5 549.04h0M487.23 616.26h0M465.44 651.07h0M482.55 610.99h0M467.06 651.62h0M476.77 639.78h0M485.59 625.78h0M488.26 595.62h0M485.08 590h0M459.81 559.21h0M488.64 607.51h0M480.06 578.85h0M488.26 607.46h0M465.93 651.91h0M478.82 638.83h0M484.61 586.4h0M474.06 567.19h0M461.79 649.84h0M487.28 600.06h0M438.43 548.12h0M483.09 619.33h0M477.38 571.25h0M441.78 550.66h0M480.37 578.17h0M468.16 561.76h0M437.08 548.6h0M486.8 594.45h0M473.08 645.85h0M448.47 549.69h0M479.09 579h0M448.65 552.07h0M477.39 571.08h0M464.41 564.7h0M477.5 571.76h0M482.03 578.66h0M446.72 550.28h0M470.46 562h0M487.38 615.35h0M467.57 561.16h0M467.6 564.67h0M488.69 605.11h0M487.08 590.88h0M453.12 552.99h0M474.86 643.88h0M439.2 551.49h0M463.38 558.42h0M438.62 550.13h0M483.37 625.99h0M464.35 561h0M482.51 624.74h0M468.52 562.36h0M486.89 597.45h0M468.39 649.64h0M467.21 561.64h0M488.41 596.24h0M475.58 640.87h0M434.34 547.91h0M478.29 632.88h0M486.13 611.47h0M481.26 631.79h0M452.07 555.57h0M467.87 563.74h0M457.19 555.78h0M487.25 593.58h0M485 621.14h0M472.15 645.2h0M473.58 644.14h0M486.45 620.49h0M480.64 633.17h0M449.86 553.72h0M486.25 617.43h0M438.55 549.53h0M487.89 606.12h0M464.67 652.01h0M486.66 615.22h0M469.68 646h0M444.15 554.52h0M466.82 650.52h0M488.59 606.87h0M470.28 563.08h0M487.02 615.13h0M487.46 621.58h0M487.47 611.17h0M453.44 557.48h0M475.35 573.05h0M481.9 582.18h0M484.52 627.54h0M484.65 585.47h0M483.15 628.56h0M475.08 636.36h0M481.48 583.03h0M442.84 549.48h0M463.34 560.69h0M484.18 580.9h0M484.88 623.54h0M442.52 548.87h0M434.7 548.73h0M476.21 640.01h0M486.34 619.48h0M470.37 563.79h0M489 606.9h0M447.59 555.61h0M478.09 579.86h0M471.42 644.61h0M469.94 564.05h0M483.51 578.85h0M483.92 602.71h0M481.82 584.94h0M482.2 632.49h0M481.11 634.46h0M473.42 643.94h0M445.47 551.06h0M441.37 548.3h0M477.98 633.86h0M459.61 559.19h0M466.93 652.1h0M473.36 571.07h0M485.75 625.81h0M486.88 591.42h0M483.57 623.13h0M483.99 626.11h0M470.56 569.27h0M469.7 647.8h0M444.19 550.72h0M442.93 550.89h0M484.77 624.23h0M458.44 557.02h0M488.78 604h0M432.33 548.76h0M433.99 552.72h0M440.9 552.49h0M480.76 574.89h0M481.36 583h0M460.54 554.87h0M480.81 577.55h0M449.3 550.55h0M479.43 575.01h0M463.68 559.73h0M469.19 641.4h0M488.4 603.21h0M478.13 635.83h0M488.53 607.69h0M478.08 637.08h0M453.86 554.06h0M451.95 554.95h0M484.2 607.95h0M481.54 635.08h0M476.61 573.81h0M464.5 652.52h0M464.87 651.78h0M471.93 638.97h0M465.32 651.16h0M455.36 555.15h0M445.67 553.89h0M433.22 549.22h0M470.19 568.01h0M450.77 551.13h0M475.94 574.19h0M488.45 607.89h0M482.15 582.24h0M475.03 641.97h0M467.56 563.17h0M479.07 636.67h0M482.35 628.17h0M487.5 594.87h0M448.07 551.24h0M485.02 607.95h0M477.77 638.76h0M487.12 587.48h0M448.36 551.78h0M485.52 595.32h0M453.46 553.72h0M436.18 547.83h0M488.19 615.32h0M488.36 598.6h0M478.34 638.36h0M483.28 611.11h0M464.58 652.28h0M483.63 588.12h0M485.79 623.02h0M471.44 644.57h0M467.95 564.35h0M476.01 569.06h0M443.94 552.05h0M478.61 640.24h0M489.95 603.86h0M446.8 552.95h0M456.87 554.27h0M436.46 549.14h0M472.27 645.51h0M438.77 548.31h0M466.12 558.49h0M483.93 583.61h0M483.25 624.98h0M464.21 652.38h0M485.8 600.46h0M484.42 615.54h0M483.84 626.74h0M488.87 600.76h0M470.15 643.45h0M483.28 629.3h0M486.25 621.88h0M446.71 550.85h0M488.68 602.31h0M475.43 640.5h0M482.82 628.44h0M469.37 647.2h0M467.44 561.91h0M476.64 642.78h0M467.93 561.21h0M487.99 615.96h0M459.79 558.94h0M485.12 620.72h0M451.2 552.98h0M461.95 557.05h0M464.79 560.55h0M488.82 605.24h0M464.99 649.98h0M455.11 552.14h0M475.51 569.43h0M478.24 574.28h0M466.62 560.97h0M462.4 557.88h0M469.45 561.13h0M488.92 611.1h0M482.73 581.92h0M463.74 563.57h0M462.32 557.06h0M478.88 636.6h0M472.36 564.48h0M454.86 553.23h0M482.52 581.15h0M487.23 616.71h0M488.15 613.54h0M487.48 597.38h0M469.97 567.25h0M463.19 560.49h0M485.68 585.02h0M453.84 554.93h0M457.77 554.74h0M485.75 621.67h0M487.9 590.07h0M475.15 573.96h0M488.21 619.78h0M488.1 596.68h0M479.06 638.59h0M460.21 556.69h0M470.32 648.56h0M445.95 551.88h0M479.26 574.18h0M471.96 645.47h0M486.62 590.87h0M480.61 632.88h0M453.44 552.09h0M438.97 549.07h0M488.15 611.62h0M477.43 569.47h0M444.75 549.83h0M487.41 618.41h0M474.92 568.68h0M477.58 581.11h0M486.16 610.7h0M486.1 619.41h0M469.4 643.85h0M468.55 648.63h0M480.89 580.71h0M474.84 567.24h0M476.58 575.87h0M433.8 551.09h0M485.03 594.26h0M463.98 653.04h0M473.74 643.32h0M488.11 614.69h0M458.56 554.44h0M484.1 614.39h0M465.24 560.12h0M439.64 550.77h0M485.07 626.06h0M463.69 653.84h0M488.68 597.93h0M484.42 580.69h0M487.25 591.46h0M481.42 634.2h0M484.28 600.03h0M477.16 638.63h0M469.63 563.67h0M467.32 561.76h0M473.95 643.7h0M477.34 571.67h0M470.48 647.76h0M464.83 652.19h0M484.77 584.79h0M442.57 550.85h0M473.56 566.53h0M432.11 549.68h0M471.7 565.38h0M467.1 562.3h0M468.52 564.04h0M464.74 564.6h0M460.73 557.1h0M439.23 550.53h0M476 572.37h0M477.06 569.65h0M463.01 559.35h0M485.31 626.02h0M452.27 554.04h0M468.76 646.3h0M473.5 644.39h0M487.26 620.84h0M486.38 604.23h0M463.6 650.94h0M475.93 573.5h0M483.38 579.14h0M453.13 551.53h0M487.31 615.53h0M451.7 554.76h0M477.28 640.95h0M460.12 556.57h0M467.29 648.9h0M464.96 644.42h0M486.71 614.21h0M475.09 643.74h0M482.43 579.56h0M469.47 562.6h0M485.36 593.82h0M466.64 646.9h0M474.62 642.08h0M486.23 588.53h0M454.92 552.79h0M484.57 585.42h0M487.55 615.94h0M487.61 617.31h0M467.13 650.94h0M487.52 616.45h0M479.98 579.63h0M473.17 642.33h0M452.74 554.94h0M470.99 564.66h0M466.18 561.72h0M433.03 550.88h0M486.87 592.94h0M457.06 554.71h0M483.92 585.54h0M479.1 573.3h0M468.84 563.28h0M486.47 588.54h0M487.96 607.47h0M439.81 548.79h0M467.77 648.45h0M485.22 600.04h0M460.19 555.52h0M451.04 551.18h0M448.11 550.34h0M454.05 556.21h0M475.73 641.56h0M478.12 633.61h0M433.02 548.87h0M489.49 597.86h0M486.34 585.25h0M487.18 604.14h0M470.1 646.93h0M479.91 580.01h0M448.19 553.15h0M445.11 550.2h0M471.72 639.81h0M475.9 569.76h0M488.46 606.64h0M478.68 572.76h0M467.48 648.93h0M451.8 552.12h0M487.23 610.14h0M483.73 585.3h0M485.12 600.35h0M482.97 585.12h0M434.21 549.88h0M465.62 650.53h0M483.22 625.85h0M486.81 610.05h0M487.85 608.92h0M488.46 595.65h0M488.33 614.24h0M438.31 549.51h0M476.31 574.03h0M482.05 586.85h0M481.1 580.02h0M453.79 554.25h0M474.62 640.1h0M484.76 625.49h0M486.07 591.38h0M488.39 613.96h0M489.22 602.35h0M445.6 551.36h0M487.26 623.29h0M465.94 564.37h0M476.78 571.54h0M457.63 554.62h0M487.86 596.85h0M478.42 638.74h0M473.3 644.35h0M486.75 598.83h0M468.47 650.11h0M485.12 620.52h0M471.91 646.14h0M448.23 551.25h0M487.85 596.75h0M455.96 554.47h0M485.08 591.57h0M484.17 592.96h0M469.91 643.91h0M452.57 554.1h0M449.13 558.48h0M478.59 574.58h0M444.9 550.93h0M486.45 606.69h0M461.7 651.1h0M477.51 570.56h0M485.64 626.58h0M474.58 642.84h0M441.61 550.21h0M478.38 570.65h0M476.14 569.96h0M459.77 556.4h0M484.14 603.47h0M485.62 601.94h0M458.89 555.62h0M486.61 615.08h0M484.2 602.89h0M464.84 651.76h0M450.91 554.51h0M437.7 548.85h0M462.47 557.65h0M481.12 575.66h0M455.49 553.54h0M459.23 555.25h0M470.04 565.85h0M480.64 633.06h0M484.31 589.57h0M458.54 554.46h0M478.62 636.76h0M436.07 550.04h0M471.68 566.47h0M473.64 571.28h0M438.82 549.68h0M471.11 647.64h0M484.91 582.57h0M483.24 587.58h0M463.73 652.64h0M485.42 586.51h0M461.93 651.63h0M469.14 568.52h0M471.59 645.18h0M453.83 553.63h0M488.79 602.25h0M462.66 651.58h0M488.76 604.68h0M470.76 564.32h0M486.61 620.82h0M476.81 570.97h0M485.1 629.02h0M486.83 592.71h0M483.76 591.22h0M454.21 552.19h0M485.74 587.95h0M450.21 553.84h0M483.44 584.21h0M433.91 548.73h0M475.41 571.82h0M485 626.33h0M475.58 640.98h0M486.8 586.58h0M485.46 625.76h0M483.65 579.12h0M461.29 556.16h0M469.58 646.67h0M482.59 597.49h0M480.38 575.92h0M436.86 550.36h0M485.3 623.98h0M448.54 550.51h0M444.73 550.89h0M481.36 623.98h0M443.69 549.49h0M480.45 580.19h0M443.66 549.58h0M484.44 628.47h0M488.02 604.51h0M487.26 617.04h0M467.03 651.77h0M487.77 610.12h0M485.72 619.15h0M466.37 650.9h0M471.06 641.95h0M484.21 624.83h0M487.81 596.84h0M482.68 626.58h0M488.57 603.46h0M455.26 552.99h0M487.36 595.37h0M470.31 643.81h0M471.42 641.66h0M465.41 651.73h0M482.23 632.51h0M486.09 620.79h0M487.72 610.03h0M485.6 612.49h0M476.64 641.06h0M447.19 551.9h0M434.4 549.35h0M464.38 561.38h0M488.6 608.5h0M436.05 548.82h0M480.66 634.4h0M467.56 651.29h0M484.9 585.47h0M456.08 554.07h0M482.69 626.81h0M488.52 601.58h0M486.97 616h0M486 597.43h0M485.55 587.21h0M478.53 638.05h0M485.79 585.74h0M469.2 563.62h0M447.97 553.41h0M471.05 648.66h0M449.12 552.58h0M464.5 563.23h0M475.4 567.83h0M487.52 619.12h0M484.84 611.1h0M487.14 623.64h0M482.32 632.58h0M489.45 609.79h0M488.74 602.01h0M488.24 611.37h0M434.5 548.72h0M461.19 556.25h0M436.83 549.29h0M479.71 637.12h0M489.91 602.88h0M489 595.37h0M471.55 564.09h0M481.46 578.85h0M485.47 621.12h0M465.39 560.83h0M458.03 557.13h0M463.23 645.13h0M488.46 603.02h0M466.79 650.26h0M483.29 625h0M487.26 623.29h0M471.83 645.01h0M446.79 551.38h0M452.22 552.47h0M484.55 584.85h0M472.49 566.22h0M457.17 556.33h0M472.03 569.8h0M477.18 571.07h0M477.63 638.47h0M487.24 617.05h0M487.74 603.88h0M472.52 565.1h0M485.79 589.88h0M486.19 611.63h0M480.05 629.08h0M472.44 564.91h0M461.57 648.95h0M478.88 637.59h0M463.8 653.54h0M439.61 550.32h0M435.49 550.42h0M475.33 641.27h0M481.16 577.36h0M487.4 594.04h0M486.63 615.89h0M446.44 549.21h0M452.37 551.85h0M487.59 610.99h0M450.3 552.15h0M487.39 612.73h0M465.86 651.41h0M459.59 556.09h0M484.4 622.13h0M477.67 631.27h0M438.29 549.21h0M467.1 647.78h0M463.99 650.21h0M472.13 564.63h0M467.78 648.17h0M453.96 553.9h0M486.64 591.65h0M483.6 625.73h0M453.46 553.99h0M482.98 629.87h0M474.79 572.1h0M435.89 548.27h0M485.07 627.75h0M457.27 554.45h0M488.47 609.25h0M485.1 587.79h0M486.02 586.96h0M469.43 648.31h0M456.98 554.2h0M486.98 603.21h0M452.52 552.62h0M473.03 566.22h0M440.44 550.23h0M483.03 588.55h0M483.84 617.4h0M487.59 596.41h0M472.02 568.28h0M467.86 560.23h0M485.76 619.15h0M442.95 550.72h0M477.63 636.5h0M470.19 647.11h0M481.34 632.79h0M487.69 611.39h0M470.47 643.78h0M449.26 554.84h0M488.7 595.84h0M487.96 608.99h0M485 588.36h0M488.6 609.2h0M463.46 557.76h0M477.54 637.58h0M473.43 643.55h0M479.95 629.07h0M469.69 644.17h0M483.87 613.99h0M484.63 629.2h0M486.57 615.87h0M470.08 646.01h0M445.52 550.76h0M457.51 554.63h0M466.25 560.02h0M487.61 602.92h0M470.35 649.26h0M477.92 632.31h0M489.16 597.15h0M383.48 637.27h0M440.67 660.68h0M443.84 660.34h0M425.91 662.41h0M453.47 658.6h0M441.25 659.86h0M375.1 592.82h0M447.55 656.92h0M399.67 653.52h0M376.85 621.54h0M453.73 657.32h0M456.47 658.17h0M423.63 663.45h0M398.11 651.49h0M381.68 634.46h0M459.9 653.49h0M422.1 661.14h0M375.72 607.03h0M426.78 662.62h0M376.14 606.84h0M387.91 639.66h0M422.56 658.78h0M379.58 626.86h0M411.57 658.94h0M438.52 658.8h0M377.92 593.67h0M374.9 603.07h0M393.99 646.1h0M374.92 606.6h0M427.23 661.88h0M459.89 654.03h0M415.63 660.67h0M447.45 659.46h0M425.36 661.65h0M417.07 661.91h0M419.22 660.52h0M378.23 617.6h0M456.16 657.35h0M442.44 661.74h0M424.65 660.29h0M374.24 602.22h0M426.91 659.39h0M450.1 659.66h0M381.56 624.84h0M422.5 662.38h0M458.79 654.92h0M376.47 592.97h0M412.77 659.08h0M391.27 646.35h0M424.77 662.59h0M375.28 611.46h0M405.22 653.78h0M391.15 641.93h0M440.25 661.42h0M406.3 655.58h0M397.8 650.7h0M441.33 660.81h0M420.9 663.01h0M432.33 660.84h0M408.02 655.85h0M427.63 662.17h0M416.55 660.82h0M386.17 637.41h0M383.41 636.63h0M375.71 617.12h0M388.91 639.86h0M375.74 597.88h0M438.4 659.46h0M375.23 614.18h0M413.23 659.74h0M414.09 657.96h0M400.96 653.88h0M376.52 619.79h0M420.73 660.85h0M440 660.66h0M375.62 593.48h0M376.68 592.65h0M374.95 608.96h0M385.45 633.98h0M458.31 655.75h0M441.03 662.29h0M436.41 663.04h0M389.54 643.27h0M394.29 648.28h0M397.15 652.31h0M379.38 626.98h0M457.61 657.41h0M380.24 630.8h0M377.26 595h0M380.47 623.13h0M376.4 596h0M449.21 659.78h0M421.51 663.12h0M445.83 659.13h0M419.4 661.35h0M378.12 625.69h0M389.25 644.36h0M380.17 624.48h0M422.8 662h0M419.59 661.09h0M387.41 643.11h0M405.84 657.35h0M374.71 609.9h0M402.99 654.94h0M373.84 606.64h0M399.34 651.88h0M434.58 662.07h0M386.49 641.41h0M394.79 649.92h0M436.22 661.15h0M421.67 659.89h0M437.92 662.25h0M458.25 655.7h0M401.42 654.82h0M451.66 656.3h0M419.49 660.39h0M377.44 618.38h0M380.17 630.38h0M443.18 660.25h0M431.05 661.87h0M374.1 604.66h0M447.4 661.82h0M394.22 645.58h0M455.82 657.52h0M446.87 661.45h0M428.86 661.07h0M427.21 662.27h0M428.67 662.74h0M399 651.59h0M400.5 652.51h0M376.7 619.82h0M379.84 628.67h0M439.92 661.74h0M376.72 613.83h0M386.29 640.23h0M451.66 658.68h0M434.41 662.62h0M431.12 660.12h0M377.3 608.59h0M414.82 660.34h0M416.43 660.61h0M377.09 623.38h0M444.37 661.73h0M415.81 660.06h0M450.9 660.2h0M410.42 658.09h0M403.54 654.29h0M436.44 663.8h0M447.52 659.79h0M377.19 612.02h0M458.51 655.97h0M419.41 658.68h0M411.97 657.06h0M424.39 661.68h0M449.06 658.33h0M388.8 645.03h0M420.46 662.93h0M375.11 610.26h0M445.89 660.11h0M377.98 611.91h0M414.92 657.52h0M460.16 655.99h0M421.83 657.31h0M393.49 648.46h0M376.37 594.44h0M377.55 624.23h0M420.17 660.25h0M453.39 658.14h0M421.59 660.3h0M377.28 593.61h0M378.79 626.04h0M447.23 659.34h0M376.57 607.1h0M389.91 645.25h0M377.31 609.52h0M376.72 607.55h0M419.49 661.1h0M396.12 650.24h0M431.24 661h0M435.05 660.54h0M442.86 656.37h0M454.6 658.07h0M457.38 656.36h0M397.38 647.4h0M447.32 659.57h0M442.81 661.43h0M420.06 661.57h0M445.42 658.4h0M428.97 660.46h0M381.22 630.93h0M440.28 661.45h0M400.35 654.94h0M432.57 661.33h0M444.75 654.2h0M383.7 636h0M418.07 661.55h0M426.32 663.37h0M426.28 661.78h0M425.05 661.51h0M416.83 658.94h0M447.29 660.47h0M458.43 655.99h0M414.69 660.62h0M377.16 609.49h0M375.76 607.99h0M401.23 653.25h0M411.67 657.25h0M430.35 662.85h0M375.06 599.55h0M458.37 656.74h0M446 660.09h0M413.06 658.06h0M396.31 650.16h0M432.32 663.24h0M436.21 662.8h0M375.45 597.35h0M387.87 638.18h0M403.11 655.69h0M383.39 637.1h0M376.56 599.78h0M447.11 659.49h0M379.6 629.59h0M375.95 600.84h0M386.33 636.47h0M438.87 660.49h0M414.12 656.36h0M375.2 601.43h0M431.77 661.64h0M375.21 602.34h0M375.05 615.66h0M393.87 648.55h0M454.2 658.36h0M377.8 614.97h0M414.94 659.06h0M460.49 654.38h0M374.79 612.36h0M406.87 656.67h0M393.81 648.28h0M439.11 660.29h0M444.8 659.75h0M447 661.27h0M437.26 662.46h0M422.24 660.98h0M374.33 602.47h0M382.26 628.74h0M401.2 651.53h0M441.5 661.21h0M441.55 662.38h0M405.18 654.93h0M417.84 660.72h0M395.51 650.55h0M435.25 662.23h0M373.68 612.47h0M419.83 659.81h0M454.3 654.21h0M431.17 661.76h0M416.63 660.75h0M454.49 658.53h0M447.14 659.87h0M427.68 661.28h0M447.76 659.82h0M418.53 659.58h0M410.2 658.06h0M451.61 658.69h0M431.41 662.2h0M374.94 603.3h0M446.68 660.1h0M432.21 661.11h0M388.79 641.09h0M458.57 656.73h0M387.17 641.71h0M386.45 640.4h0M375.75 592.63h0M447.38 661.49h0M431.92 662.87h0M432.2 663.28h0M444.85 659.74h0M383.98 638.04h0M430.18 661.79h0M416.95 660.59h0M389.63 644.24h0M431.04 661.84h0M375.88 597.57h0M379.72 628.43h0M398.4 653.04h0M375.18 602.78h0M378.6 630.14h0M375.96 613.21h0M402.79 656.4h0M377.11 592.99h0M409.63 657.13h0M377.58 622.03h0M458.76 656.4h0M423.3 660.17h0M376.85 605.37h0M458.29 654.74h0M380.05 630.64h0M374.34 609.92h0M431.64 662.6h0M425.6 659.87h0M431.97 660.25h0M457.42 656.62h0M449.15 657.27h0M440.84 660.36h0M397.39 650.76h0M418.52 661.75h0M444.77 662.01h0M377.56 623.9h0M404.13 654.99h0M384.21 636.5h0M421.17 660.39h0M424.88 660.01h0M441.48 662.65h0M445.05 661.41h0M447.54 659.55h0M454.17 658.43h0M440.64 662.53h0M409.99 657.48h0M382.99 630.56h0M438.98 662.83h0M406.25 655.4h0M435.47 659.2h0M439.59 661.91h0M454.95 656.34h0M420.97 661.45h0M460.11 655.25h0M426.6 662.62h0M451.94 658.63h0M437.13 662.46h0M432.31 662.93h0M378.66 610.43h0M403.97 655.35h0M403.88 655.59h0M445.46 660.33h0M447.31 661.11h0M374.49 615h0M453.93 658h0M439.76 661.82h0M429.48 662.05h0M440.67 662.67h0M440.13 662.55h0M429.33 661.97h0M430.54 663.19h0M430.42 662.72h0M377.34 614.6h0M373.98 606.98h0M452.96 658.55h0M411.02 656.99h0M451.98 658.7h0M374.64 618.5h0M380.68 631.76h0M380.99 629.1h0M384.04 636.79h0M377.95 592.63h0M431.44 663.19h0M424.97 661.67h0M460.31 654.47h0M453.05 657.9h0M451.35 656.57h0M448.01 660.53h0M456.45 657.29h0M439.02 661.75h0M436.69 663.78h0M434.39 660.37h0M447.27 659.83h0M375.04 600.71h0M374.06 608.38h0M384.41 635.1h0M427.39 663.85h0M412.7 660.06h0M430.34 663.64h0M378.47 626.34h0M377.48 607.26h0M379.35 626.51h0M433.32 661.95h0M429.6 661.6h0M379.65 627.18h0M420.49 659.8h0M439.66 662.48h0M456.49 655.66h0M440.05 662.65h0M426.76 662.86h0M450.31 659.6h0M390.05 642.44h0M412.15 659.83h0M415.2 658.94h0M429.33 662.55h0M375.49 617.28h0M439.37 662.15h0M431.81 659.95h0M442.01 661.3h0M374.48 611.18h0M381.73 632.45h0M398.39 649.66h0M421.25 661.08h0M415.72 659.87h0M412.55 659.8h0M443.55 660.1h0M376.19 622.85h0M427.31 662.21h0M374.24 607.41h0M438.94 661.81h0M415.98 660.77h0M445.94 662.21h0M446.9 660.19h0M377.84 620.82h0M374.82 604.15h0M406.78 657.15h0M428.17 662.42h0M387.65 640.6h0M451.85 657.96h0M377.6 627.42h0M447 661.93h0M422.84 662.03h0M428.52 659.84h0M405.93 654.07h0M456.39 654.67h0M377.52 611.67h0M385.21 638.46h0M379.08 627.81h0M380.54 632.15h0M374.76 607.32h0M429.82 661.12h0M413.18 658.01h0M403.79 653.9h0M425.14 661.9h0M382.12 635.25h0M432.71 663.82h0M400.95 650.94h0M403.85 654.89h0M382.38 631.74h0M455.81 650.42h0M414.39 660.77h0M457.46 657.92h0M452.35 655.31h0M412.47 657.93h0M374.96 613.03h0M455.1 656.68h0M431.66 661.74h0M381.93 635.03h0M429.07 657.52h0M435.6 659.33h0M376.88 619.96h0M437.64 661.68h0M374.3 608.15h0M446.17 661.85h0M422.35 660.5h0M383.56 630.96h0M442.08 659.76h0M374.8 602.62h0M375.23 614.78h0M450.94 658.43h0M391.8 646.59h0M446.85 658.65h0M428.09 662.86h0M406.62 656.94h0M380.1 627.57h0M375.28 591.76h0M456.56 654.84h0M456.44 656.51h0M380.07 626.5h0M441.78 662.51h0M373.21 604.4h0M377.64 597.15h0M450.53 659.49h0M456.94 654.95h0M414.5 659.89h0M376.29 594.34h0M426.92 663.81h0M402.03 652.81h0M376.45 610.83h0M381.84 632.17h0M417.56 658.75h0M389.98 645.33h0M454.07 654.14h0M431.66 662.76h0M411.67 660.49h0M409.11 657.47h0M415.18 659.69h0M448.68 658.91h0M394.16 645.43h0M395.94 648.14h0M445.57 659.61h0M414.07 660.86h0M376.74 620.52h0M390.56 644.5h0M376.93 619.9h0M452.77 657.43h0M399.11 651h0M373.98 606.42h0M397.05 650.4h0M442.94 660.32h0M453.68 656.72h0M385.44 634.74h0M387.43 638.75h0M407.73 654.02h0M406 654.53h0M431.91 662.93h0M377.05 617.42h0M454.8 655.3h0M380.94 631.23h0M436.35 661.59h0M396.62 650.47h0M454.42 657.09h0M456.26 656.46h0M375.06 613.15h0M439.68 661.97h0M459.65 653.35h0M389.4 641.91h0M376.31 594.11h0M435.86 659.77h0M386.36 636.63h0M391.08 643.89h0M439.4 660.6h0M421.53 661.97h0M445.2 659.75h0M448.03 661.64h0M375.61 604.96h0M440.18 660.7h0M456.67 657.49h0M412.6 659.37h0M425.21 661.37h0M415.11 661.52h0M380.84 632.8h0M418.97 661.06h0M442.78 661.4h0M456.44 656.05h0M387.32 640.39h0M375.28 596.1h0M376.11 617.18h0M375.99 593.94h0M441.53 659.13h0M375.82 618.39h0M432.62 662.77h0M383.09 632.75h0M403.12 655.29h0M386.35 641.45h0M379.95 626.22h0M377.96 608.47h0M425.61 659.2h0M380.59 630.02h0M374.36 611.93h0M434.14 662.54h0M415.72 660.97h0M444.32 662.6h0M387.12 641.1h0M376.19 596.62h0M412.75 659.33h0M403.22 655.18h0M417.54 661.36h0M456.11 654.53h0M392.65 648.51h0M446.96 660.24h0M375.95 618.63h0M381.82 634.11h0M442.73 661.84h0M381.62 630.69h0M439.07 661.51h0M408.33 655.68h0M375.22 610.13h0M390.12 644.27h0M416.05 660.93h0M405.37 656.45h0M415.7 656.77h0M378.31 621.54h0M408.55 656.37h0M407.26 658.69h0M408.27 654.85h0M388.5 637.57h0M440.24 662.7h0M416.95 660.16h0M402.08 655.3h0M455.81 657.22h0M399.15 652.17h0M459.38 654.12h0M458.7 652.3h0M423.58 661.85h0M451.38 657.77h0M426.61 663.79h0M446.55 658.96h0M411.71 657.81h0M433.49 662.85h0M425.64 657.68h0M373.35 609.83h0M422.95 659.77h0M456.65 655.15h0M432.03 662.86h0M428.18 662.07h0M415.37 659.21h0M378.36 626h0M434.42 662.53h0M375.83 618.49h0M420.42 660.9h0M379.13 620.85h0M424.74 660.45h0M440.78 660.17h0M435.71 659.27h0M455.64 657.04h0M377.99 623.68h0M391.48 644.71h0M422.53 659.41h0M424.67 662.86h0M417.71 662.33h0M374.78 592.09h0M409.11 659.07h0M398.1 649.1h0M386.08 638.12h0M422.45 663.14h0M429.16 663.58h0M422.7 662.33h0M423.4 661.27h0M375.33 603.7h0M433.56 663.69h0M427.15 663.83h0M430.58 662.23h0M429.87 663.32h0M431.62 660.48h0M428.69 663.2h0M444.06 662.66h0M385.94 638.99h0M425.99 662.1h0M428.08 662.11h0M446.44 657.57h0M460.44 655.43h0M437.64 662.85h0M420.22 661.36h0M405.53 655.9h0M409.01 656.75h0M410.81 658.91h0M448.28 660.32h0M430.09 662.31h0M412.71 658.66h0M429.15 661.69h0M441.09 661.21h0M374.74 611.39h0M417.61 661.25h0M385.04 632.74h0M426.81 661.16h0M455.8 656.87h0M450.35 660.38h0M415.62 661.77h0M381.58 635.01h0M416.78 657.22h0M393.57 646.61h0M418.65 661.16h0M421.09 661.31h0M433.45 660.74h0M374.59 596.41h0M416.21 660.6h0M436.68 663.18h0M420.61 658.96h0M377.74 598.13h0M428.4 663.38h0M455.14 655h0M434.6 662.82h0M447.74 661.02h0M452.5 660.08h0M379.78 616.36h0M407.96 654.26h0M448.33 659.54h0M429.78 660.97h0M404.39 653.96h0M379.2 629.67h0M376.77 594.45h0M387.28 636.83h0M433.9 663.52h0M409.97 657.7h0M457.26 654.15h0M426.45 661.58h0M375.32 613.57h0M379.99 628.85h0M380.35 628.12h0M449.42 659.07h0M375.02 592.61h0M382.15 635.02h0M413.6 659.5h0M415.39 659.27h0M386.86 641.06h0M392.84 644.76h0M384.69 637.56h0M416.55 660.95h0M375.63 614.54h0M414.68 659.61h0M378.72 623.55h0M445.81 661h0M453.12 659.79h0M423.61 661.74h0M422.56 661.9h0M423.93 660.82h0M376.43 619.09h0M376.21 619.98h0M419.74 660.03h0M424.17 662.12h0M378.9 594.14h0M417.84 660.3h0M421.8 661.18h0M375.8 611.47h0M418.43 660.26h0M383.56 634.63h0M377.46 594.44h0M375.48 601.94h0M379.39 628.75h0M377.1 606.14h0M419.18 662.55h0M415.99 658.01h0M390.23 644.15h0M444.03 661.49h0M398.19 649.06h0M392.19 647.11h0M387.31 641.65h0M431.11 663.59h0M443.38 657.23h0M425.65 661.43h0M377.23 620.64h0M456.69 657.35h0M442.11 659.65h0M455.91 655.49h0M452.2 658.58h0M459.63 653.07h0M450.78 658.73h0M375.76 615.84h0M449.46 661.05h0M439.43 662.33h0M378.4 626.86h0M438.41 662.46h0M457.29 652.49h0M437.86 656.99h0M383.04 634.7h0M383.17 573.8h0M399.93 564.11h0M394.87 563.14h0M380.82 581.39h0M393.26 566.51h0M398.17 560.09h0M381.73 588.79h0M382.89 578.16h0M379.38 586.68h0M387.45 574.62h0M401.4 555.61h0M410.64 555.21h0M395.62 560.75h0M384.79 574.04h0M386.95 573.54h0M400.95 559.21h0M396.68 561.84h0M392.02 564.07h0M380.52 583.05h0M424.55 550.23h0M379.87 583.91h0M412.73 554.19h0M407.39 556h0M407.17 554.08h0M394.98 571.35h0M429.74 550.51h0M377.61 586.9h0M377.34 588.89h0M407.95 554.98h0M420.24 552.75h0M424.09 548.14h0M420.44 553.18h0M378.32 581.92h0M379 581.93h0M387.34 578.38h0M380.09 585.77h0M409.75 555.92h0M417.69 548.96h0M421.75 552.95h0M388.6 573.65h0M385.52 571.44h0M397.24 559.52h0M419.61 553.19h0M406.27 554.56h0M383.92 576.44h0M405.28 557.38h0M418.43 554.33h0M412.59 554.87h0M427.67 550.06h0M429.52 549.74h0M394.5 563.55h0M398.06 560.4h0M419.52 551.34h0M384.87 585.55h0M386.71 575.02h0M417.14 551.76h0M419.95 552.64h0M379.2 581.22h0M418.81 549.49h0M386.26 569.69h0M385.47 576.33h0M408.5 555.17h0M403.55 557.8h0M427.87 550.31h0M388.59 571.61h0M402.51 555.94h0M412.05 552.45h0M381.57 582.58h0M386.36 580.06h0M382.05 581.56h0M383 581.57h0M420.19 552.33h0M388.69 572.96h0M415.89 549.81h0M429.27 549.67h0M378.23 588.47h0M419.48 548.5h0M405.65 554.63h0M413.32 553.76h0M384.61 580.57h0M402.19 560.07h0M395.49 562.74h0M378.47 586.16h0M402.68 556.17h0M385.3 574.68h0M393.62 569.24h0M377.87 586.56h0M392.05 567.68h0M429.22 549.64h0M425.18 547.69h0M411.3 552.1h0M392.19 564.27h0M393.21 564.6h0M414.15 550.51h0M411.24 555.06h0M403.01 556.64h0M422.39 552.76h0M386.16 569.28h0M401.96 559.95h0M408.52 558.84h0M392.88 568.6h0M403.35 556.66h0M388.71 572.67h0M379.47 587.75h0M387.58 570.23h0M426.29 554.26h0M411.97 552.52h0M421.27 552.86h0M409.83 554.42h0M406.78 556.79h0M403.71 555.63h0M377.67 583.2h0M384.04 576.62h0M402.39 558.82h0M399.81 556.89h0M404.82 558.42h0M383.91 582.32h0M428.82 549.75h0M397.28 563.74h0M412.29 552.5h0M406.46 556.01h0M416.99 552.6h0M379.2 584.53h0M402.49 556.24h0M423.56 553.35h0M390.35 566.4h0M396.03 563.67h0M427.82 550.1h0M386.9 571.36h0M385.97 578.55h0M420.99 553.82h0M387.1 578.12h0M398.62 561.37h0M420.25 550.89h0M394.38 563.07h0M378.85 588.07h0M384.94 578.74h0M419.41 553.57h0M393.36 571.09h0M395.95 567.98h0M403.9 555.62h0M387.51 572.33h0M380.21 579.94h0M382.67 587.27h0M385.36 578.63h0M392.45 566.61h0M419.63 551.45h0M426.84 548.24h0M413.73 552.75h0M426.65 550.79h0M403.26 561.07h0M426.94 550.25h0M401.8 557.4h0M408.53 555.45h0M387.2 572.6h0M383.6 580.74h0M418.83 557.17h0M378.83 584.45h0M384.91 574.73h0M418.79 553.16h0M413.1 551.38h0M392.31 563.88h0M425.69 552.94h0M378.46 585.53h0M378.64 582.71h0M383.7 576.67h0M385.86 574.7h0M408.75 553.08h0M421.51 552.79h0M407.85 555.5h0M399 558.16h0M426.29 549.98h0M386.07 572.89h0M380.77 589.23h0M409.81 553.64h0M386.52 577.12h0M394.78 565.08h0M391.11 573.8h0M405.62 556.89h0M386.61 573.82h0M423.68 555.26h0M399.33 559.18h0M388.81 571.54h0M419.22 550.31h0M397.49 564.6h0M389.87 569.97h0M406.15 556.63h0M420.04 554.93h0M425.65 550.98h0M388.71 577.33h0M415.08 553.55h0M410.51 556.67h0M398.03 563.82h0M383.32 584.27h0M384.08 590.06h0M383.54 574.75h0M377.16 589.2h0M378.13 587.51h0M402.19 557.44h0M405.76 557.58h0M415.53 552.24h0M377.62 589.3h0M429.68 551.08h0M392.98 563.73h0M421.1 551.52h0M379.62 581.69h0M400.14 558.11h0M395.02 564.25h0M386 575.36h0M395.32 559.83h0M388.25 574.29h0M384.89 585.27h0M397.38 563.37h0M390.29 572.38h0M410.16 554.63h0M395 567.64h0M385.71 578.74h0M405.8 560.71h0M393.63 563.71h0M377.04 586.89h0M419.12 555.47h0M416.04 554.06h0M392.22 567.91h0M396.62 562.03h0M378.42 586.2h0M409.43 555.44h0M425.43 554.81h0M420.68 548.45h0M428.26 552.1h0M393.75 567.46h0M400.73 556.69h0M378.21 589.63h0M380.2 589.58h0M380.53 584.37h0M405.96 558.58h0M415.25 553.67h0M379.99 582.42h0M413.86 555.49h0M419.1 552.44h0M410.12 553.21h0M418.7 548.64h0M396.26 567.37h0M409.11 555.27h0M377.92 584.06h0M384.13 575.91h0M392.49 565.06h0M398.47 559.29h0M382.39 582.76h0M416.19 550.3h0M395.12 563.85h0M417.18 550.22h0M403.4 558.17h0M379.4 587.51h0M383.55 581.18h0M390.77 567.3h0M376.44 588.9h0M397.09 563.32h0M383.6 581.52h0M387.22 573.2h0M415.03 552.71h0M410.11 554.85h0M408.23 557.87h0M386.65 574.25h0M381.77 577.21h0M386.18 579.25h0M405.22 556.8h0M401.28 560.3h0M399.54 561.35h0M421.86 553.4h0M402.9 561.75h0M418.5 550.58h0M415.74 553.94h0M382.97 588.4h0M404.89 560.33h0M396.46 562.01h0M401.17 560.92h0M398.87 563.04h0M397.32 561.42h0M383.67 581.06h0M418.21 550.84h0M399.76 567.05h0M412.64 552.6h0M412.24 553.47h0M387.78 570.67h0M401.55 557.3h0M394.07 563.66h0M403.95 556.34h0M380.75 584.1h0M427.64 554.31h0M377.35 588.66h0M388.14 573.33h0M389.2 567.06h0M416.81 553.98h0M400.23 557.83h0M389.15 570.07h0M419.73 551.12h0M423.24 553.92h0M387.61 569.63h0M426.68 553.14h0M400.44 558.55h0M378.24 588.46h0M387.36 570.86h0M424.26 551.86h0M385.34 578.44h0M402.83 557.75h0M382.5 576.33h0M384.81 572.52h0M409.76 551.44h0M384.91 581.37h0M392.33 565.92h0M412.13 554.01h0M407.51 553.88h0M411.43 552.63h0M424.12 553.38h0M392.12 565.98h0M426.79 553.59h0M383.48 583.06h0M414.66 550.9h0M415.18 550.95h0M413.92 550.27h0M384.84 583.07h0M400.57 558.14h0M385.45 581.33h0M403.11 557.11h0M387.41 572.45h0M429.64 550.99h0M378.29 584.86h0M424.84 551.5h0M422.31 550.26h0M410.81 553.49h0M381.36 580.2h0M387.39 570.57h0M417.25 550.28h0M378.86 587.78h0M380.97 587.74h0M382.3 580.76h0M383.53 584.14h0M426.61 550.86h0M378.97 588.32h0M414.37 553.32h0M380.99 584.89h0M379.89 585.52h0M385.72 574.73h0M414.58 551.05h0M405.42 555.86h0M393.87 567.45h0M400.53 557.32h0M383.27 575.36h0M392.6 563.27h0M380.25 589.42h0M427.66 550.22h0M383.12 575.45h0M386.47 573.62h0M387.99 569.08h0M383.8 578.28h0M421.36 550.42h0M383.06 579.14h0M424.17 551.6h0M384.29 583.36h0M378.52 587.51h0M394.79 561.58h0M426.13 551.46h0M424.67 553.38h0M423.05 548.29h0M384.83 573h0M395.41 567.03h0M397.89 564.38h0M404.89 554.06h0M426.11 549.14h0M413.18 555.41h0M413.36 553.11h0M378.72 589.99h0M383.48 578.58h0M417.92 556.4h0M382.74 582.28h0M403.38 556.12h0M396.57 562.6h0M388.44 569.78h0M385.34 577.73h0M428.59 555.01h0M381.3 583.51h0M381.53 577.76h0M425.09 553.02h0M386.46 578.43h0M423.42 547.91h0M393.18 568.77h0M427.47 550.65h0M388.81 576.2h0M419.07 550.89h0M393.33 564.71h0M425.25 550.45h0M406.97 558.65h0M423.08 549.99h0M409.21 554.09h0M389.31 567.14h0M379.74 589.17h0M424.38 550.27h0M394.95 562.35h0M376.78 586.83h0M404.81 556.05h0M392.71 567.81h0M392.34 565.33h0M383.02 590.14h0M392.63 564.37h0M381.03 578.34h0M420.3 550.76h0M389.26 568.78h0M410.22 553.58h0M390.14 568.85h0M418.28 550.26h0M381.99 577.22h0M400.79 561.91h0M430.06 549.25h0M378.89 586.79h0M389.82 571.94h0M424.43 550.01h0M412.27 556.37h0M388.24 569.71h0M405.71 555.89h0M384 581.63h0M400.89 558.01h0M383.84 584.96h0M403.75 558.71h0M405.61 557.85h0M388.36 570.73h0M397.63 562.32h0M396.65 562.91h0M387.05 572.48h0M403.5 562.14h0M386.06 570.95h0M382.55 577.54h0M391.76 570.43h0M396.3 561.59h0M398.68 565.89h0M396.08 561.83h0M404.3 559.15h0M377.35 589.52h0M384.87 571.34h0M398.92 560.73h0M402.66 559.25h0M411.57 553.33h0M388.82 571.69h0M377.38 588.87h0M408.7 553.58h0M393.22 563.06h0M379.78 585.03h0M399.96 562.07h0M413.54 554.7h0M387.84 573.22h0M382.72 579.38h0M382.34 582.74h0M411.16 552.48h0M393.26 565.98h0M398 558.53h0M387.88 573.34h0M406.69 556.75h0M384.42 585.76h0M392.71 564.53h0M423.21 551.29h0M421.38 556.59h0M383.47 582.96h0M402.66 556.47h0M380.82 589.05h0M385.77 570.32h0M392.08 567.64h0M417.49 550.93h0M413.86 552.59h0M403.32 557.2h0M415.09 552.82h0M391.23 570.77h0M409.25 555.09h0M388.33 567.58h0M407.39 554.39h0M428.4 549.64h0M382.85 578.68h0M425.21 549.8h0M404.15 557.21h0M379.02 583.24h0M394.68 563.27h0M414.33 552.96h0M380.32 582.55h0M380.19 583.3h0M411.98 554.67h0M427.76 553.94h0M399.88 559.64h0M381.86 589.33h0M416.28 556.49h0M404.62 556.99h0M400.31 559.8h0M388.01 571.05h0M421.12 549.69h0M393.79 563.83h0M386.97 570.43h0M404.32 553.96h0M406.12 555.92h0M383.18 575.67h0M422.6 551.25h0M417.94 550.87h0M386.06 572.8h0M411.68 556.99h0M405.88 555.13h0M409.29 551.63h0M405.57 557.4h0M376.61 589.19h0M420.81 554.92h0M384.09 583.43h0M386.03 572.09h0M414.41 553h0M412.29 551.62h0M390.34 566.76h0M397.79 559.94h0M387.08 569.51h0M390.02 566.33h0M418.46 549.05h0M385.57 573.15h0M415.07 551.44h0M386.48 573.81h0M416.16 552.78h0M414.31 553.62h0M392.46 565.98h0M405.15 553.54h0M391.06 565.03h0M383.49 577.62h0M405.63 556.81h0M392.39 570.3h0M407.44 556.7h0M395.34 561.47h0M401.99 557.29h0M407.35 555.63h0M405.81 555.88h0M381.07 582.94h0M414.1 553.03h0M404.66 560.01h0M405.86 554.66h0M379.37 585.97h0M409.53 557.48h0M406.32 557.68h0M385.84 577.72h0M397.16 563.7h0M387.81 576h0M406.54 556.48h0M401.5 558.53h0M401.31 559.16h0M428.79 552.61h0M387.97 574.53h0M383.84 590.81h0M393.65 564.46h0M384.27 577.83h0M385.83 580.63h0M396.96 560.49h0M378.43 589.26h0M384.43 574.54h0M386.57 571.53h0M419.99 553.62h0M421.21 555.39h0M378.44 589.02h0M415.38 551.84h0M394 567.93h0M390.69 570.84h0M424.94 549.81h0M424.42 548.91h0M418.77 550.33h0M412.8 551.02h0M396.88 559.71h0M383.48 577.68h0M384.77 578h0M429.14 551.63h0M405.44 558.11h0M379.21 582.71h0M400.55 557.9h0M379.91 579.05h0M399.28 561.28h0M421.74 553.78h0M389.7 569.94h0M414.28 553.69h0M380.57 584.97h0M388.47 570.4h0M425.96 552.77h0M388.4 569.08h0M424.6 556.09h0M409.8 555.19h0M400.52 563.35h0M384.63 578.38h0M388.41 576.28h0M408.46 553.44h0" stroke="#1fa9d6" stroke-width="0.95" stroke-linecap="round" stroke-opacity="0.9" fill="none"/>
<path d="M415.54 542.31Q431.6 605.6 443.26 541.35M366.4 609.14Q431.6 605.6 415.54 542.31M369.58 626.04Q431.6 605.6 443.26 541.35" fill="none" stroke="#3a3a3a" stroke-width=".7"/>
<path d="M366.45 609.98Q431.6 605.6 366.37 608.72M366.41 609.45Q431.6 605.6 366.33 607.67M366.38 608.93Q431.6 605.6 366.31 606.62M369.99 627.24Q431.6 605.6 369.65 626.24M369.78 626.64Q431.6 605.6 369.26 625.04M369.58 626.04Q431.6 605.6 368.9 623.83M369.58 626.04Q431.6 605.6 366.39 609.03" fill="none" stroke="#55369b" stroke-width="0.55" stroke-opacity="0.9"/>
<path d="M369.44 587.28A64.8 64.8 0 0 1 375.85 572.58L380.58 575.38A59.3 59.3 0 0 0 374.72 588.83Z" fill="#cc5658"/>
<path d="M377.85 569.4A64.8 64.8 0 0 1 407.92 545.28L409.93 550.4A59.3 59.3 0 0 0 382.42 572.47Z" fill="#cc5658"/>
<path d="M407.92 545.28A64.8 64.8 0 0 1 429.59 540.83L429.76 546.33A59.3 59.3 0 0 0 409.93 550.4Z" fill="#ad2647"/>
<text x="433.2" y="525.4" text-anchor="middle">0 Mb</text>
<text transform="translate(490.79 552.01) rotate(47.84)" text-anchor="middle">50 Mb</text>
<text transform="translate(516.75 609.74) rotate(-87.22)" text-anchor="middle">100 Mb</text>
<text transform="translate(490.25 667.46) rotate(-43.47)" text-anchor="middle">150 Mb</text>
<text transform="translate(470.01 681.71) rotate(-26.78)" text-anchor="middle">0 Mb</text>
<text transform="translate(410.59 688.22) rotate(14.27)" text-anchor="middle">50 Mb</text>
<text transform="translate(355.64 644.29) rotate(63.01)" text-anchor="middle">100 Mb</text>
<text transform="translate(356.72 577.86) rotate(-69.67)" text-anchor="middle">0 Mb</text>
<text transform="translate(394.81 534.73) rotate(-27.43)" text-anchor="middle">50 Mb</text>
<text x="513.99" y="585.06" text-anchor="middle" style="font-size:9.5px">7</text>
<text x="378.49" y="681.04" text-anchor="middle" style="font-size:9.5px">8</text>
<text x="377.86" y="537.68" text-anchor="middle" style="font-size:9.5px">18</text>
<text x="440.4" y="631" text-anchor="middle">0 Mb</text>
<g id="legend" style="font-size:7.7px">
<rect x="235.1" y="439.6" width="82.4" height="139.6" fill="#fff" stroke="#333" stroke-width=".8"/>
<text x="244.3" y="449.6" text-anchor="middle">1</text><text x="244.3" y="463.5" text-anchor="middle">0</text>
<path d="M253.8 447.2H251.4V461.2H253.8" fill="none" stroke="#333" stroke-width=".8"/>
<text x="259.7" y="456.6">CCF</text>
<circle cx="244.3" cy="471" r="1.15" fill="#e0522f"/><text x="259.7" y="473.8">Nonsilent SNV</text>
<circle cx="244.3" cy="481" r="1.15" fill="#2aa8d0"/><text x="259.7" y="483.4">Silent SNV</text>
<path d="M241 495.4h9.7" stroke="#22222e" stroke-width="1"/><text x="259.7" y="497.8">Translocation</text>
<path d="M240.8 508.9h8.7" stroke="#3f3a8f" stroke-width="1"/><text x="259.7" y="511.3">Intra-chr. SV</text>
<defs><linearGradient id="cng" x1="0" y1="0" x2="0" y2="1"><stop offset="0" stop-color="#b2182b"/><stop offset=".12" stop-color="#c43a43"/><stop offset=".5" stop-color="#f7f7f7"/><stop offset=".88" stop-color="#3a78b8"/><stop offset="1" stop-color="#2166ac"/></linearGradient></defs>
<rect x="240.3" y="518" width="12" height="57.8" fill="url(#cng)"/>
<text x="254.3" y="523.6">≥4</text><text x="254.6" y="549.2">2</text><text x="254.6" y="575">0</text>
<text x="266.8" y="544.2">Copy</text><text x="266.8" y="553.4">number</text>
</g>
</svg></body></html>
